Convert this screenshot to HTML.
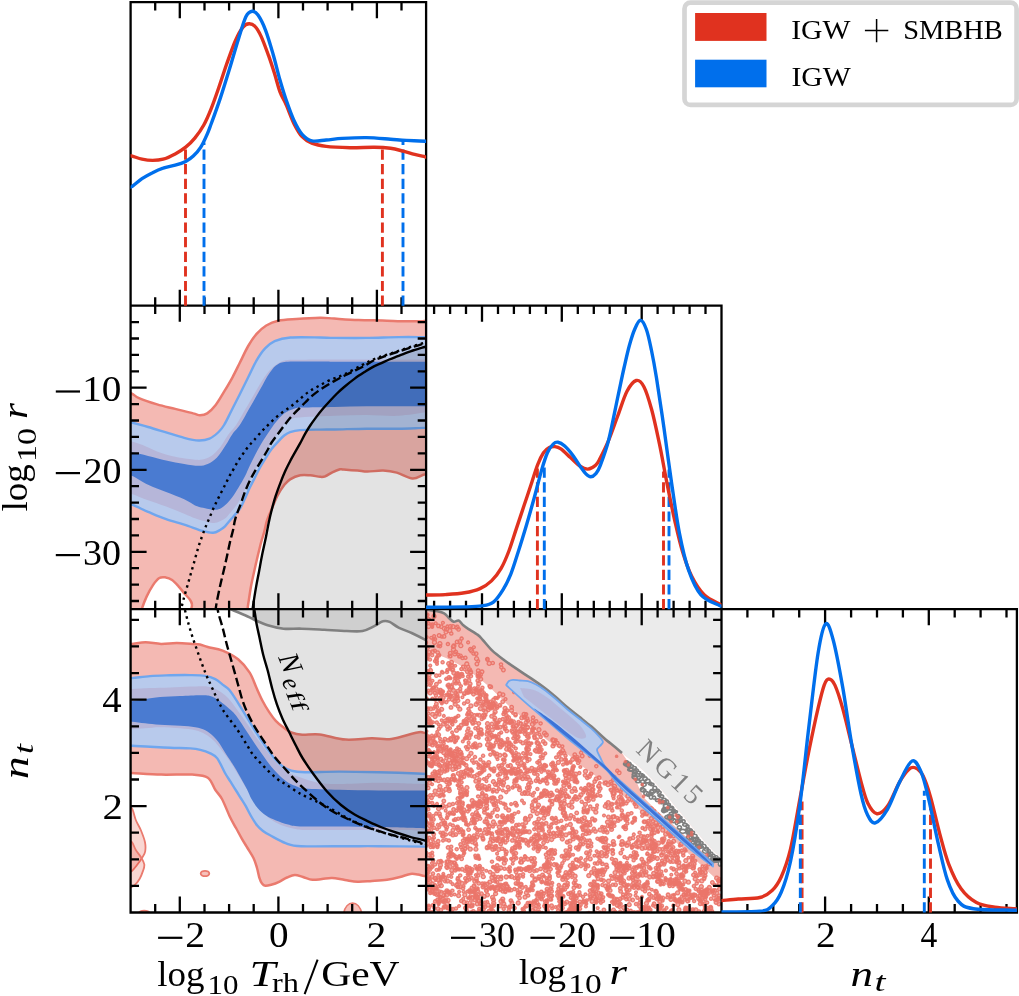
<!DOCTYPE html>
<html><head><meta charset="utf-8"><title>corner plot</title><style>html,body{margin:0;padding:0;background:#fff;overflow:hidden}svg{display:block;will-change:transform}text{font-family:"Liberation Serif",serif}</style></head><body>
<svg width="1019" height="996" viewBox="0 0 1019 996">
<defs><clipPath id="c00"><rect x="130.6" y="2.2" width="295.5" height="303.5"/></clipPath><clipPath id="c10"><rect x="130.6" y="305.7" width="295.5" height="303.5"/></clipPath><clipPath id="c11"><rect x="426.1" y="305.7" width="295.4" height="303.5"/></clipPath><clipPath id="c20"><rect x="130.6" y="609.2" width="295.5" height="303.3"/></clipPath><clipPath id="c21"><rect x="426.1" y="609.2" width="295.4" height="303.3"/></clipPath><clipPath id="c22"><rect x="721.5" y="609.2" width="295.4" height="303.3"/></clipPath></defs>
<rect width="1019" height="996" fill="#fff"/>
<g clip-path="url(#c10)">
<path d="M122 390.5C123.6 391 129 392.3 131.8 393.6C134.6 394.9 134.8 396.3 139 398.1C143.2 399.9 151.1 402.6 157.1 404.4C163.1 406.2 169.2 407.4 175.2 408.9C181.2 410.4 189.2 412.3 193.3 413.4C197.4 414.4 197.7 415.2 200 415.2C202.3 415.2 204.6 415.1 207.2 413.4C209.8 411.7 212.9 408.6 215.7 405C218.5 401.4 221.3 396.3 224.1 391.7C226.9 387.1 229.9 382.1 232.5 377.3C235.1 372.5 237.2 368 239.8 362.8C242.4 357.6 245.4 350.8 248.2 346C251 341.2 253.6 337.3 256.6 333.9C259.6 330.5 262.7 327.7 266.3 325.5C269.9 323.3 273.3 321.8 278.3 320.7C283.3 319.6 289.4 319.4 296.4 318.9C303.3 318.4 313.7 317.8 320 317.7C326.3 317.6 327.9 318.2 334.3 318.6C340.7 319 350.4 319.7 358.4 320C366.4 320.3 374.4 320.3 382.4 320.5C390.4 320.7 399.5 321.2 406.5 321.3C413.5 321.4 419.9 321.2 424.2 321.1C428.4 321.1 430.7 321 432 321L432 474C430.7 474.1 427.6 473.8 424.3 474.5C421.1 475.2 417.1 478.8 412.5 478.5C407.9 478.2 401.7 473.9 396.8 472.6C391.9 471.3 388 470.8 383.1 470.6C378.2 470.4 371.6 471.6 367.4 471.6C363.1 471.6 361.5 470.9 357.6 470.6C353.7 470.3 346.7 469.8 343.8 469.6C340.9 469.4 341.9 468.9 340 469.3C338.1 469.8 334.8 471.1 332.3 472.3C329.9 473.5 327.3 475.6 325.3 476.3C323.3 477.1 322.7 477 320.2 476.8C317.7 476.6 313.5 475.6 310.2 475.3C306.9 475.1 303.5 474.6 300.2 475.3C296.9 476 292.8 477.7 290.1 479.3C287.4 480.9 286.4 482.3 284.2 485.1C282 487.9 279.2 492.4 277.2 496.2C275.2 500 273.8 504.2 272.1 508.2C270.4 512.2 268.4 516.2 267.1 520.2C265.8 524.2 265.2 528.3 264.1 532.3C263 536.3 262.1 538.3 260.6 544.2C259.1 550.1 256.6 560.6 255 567.8C253.4 575 252.1 580.5 250.8 587.4C249.6 594.3 248.2 604.2 247.5 609C246.8 613.8 246.9 614.8 246.8 616L122 616Z" fill="#f4b9b3"/>
<path d="M141 612C141.2 611.3 141.2 610.6 142.1 608C143 605.4 144.8 600.4 146.6 596.6C148.4 592.8 150.9 588.2 153 585.1C155.1 582 157.2 579.3 159.3 578C161.4 576.7 163.6 577.1 165.7 577.4C167.8 577.7 170 578.5 172.1 580C174.2 581.5 176.4 584 178.5 586.3C180.6 588.6 183 591.8 184.9 594C186.8 596.2 188.8 598 190 599.7C191.2 601.4 191.7 602.8 191.9 604.2C192.2 605.6 191.7 606.7 191.5 608C191.3 609.3 191.1 611.3 191 612Z" fill="#fff" stroke="#ea7a6e" stroke-width="2.5"/>
<path d="M122 390.5C123.6 391 129 392.3 131.8 393.6C134.6 394.9 134.8 396.3 139 398.1C143.2 399.9 151.1 402.6 157.1 404.4C163.1 406.2 169.2 407.4 175.2 408.9C181.2 410.4 189.2 412.3 193.3 413.4C197.4 414.4 197.7 415.2 200 415.2C202.3 415.2 204.6 415.1 207.2 413.4C209.8 411.7 212.9 408.6 215.7 405C218.5 401.4 221.3 396.3 224.1 391.7C226.9 387.1 229.9 382.1 232.5 377.3C235.1 372.5 237.2 368 239.8 362.8C242.4 357.6 245.4 350.8 248.2 346C251 341.2 253.6 337.3 256.6 333.9C259.6 330.5 262.7 327.7 266.3 325.5C269.9 323.3 273.3 321.8 278.3 320.7C283.3 319.6 289.4 319.4 296.4 318.9C303.3 318.4 313.7 317.8 320 317.7C326.3 317.6 327.9 318.2 334.3 318.6C340.7 319 350.4 319.7 358.4 320C366.4 320.3 374.4 320.3 382.4 320.5C390.4 320.7 399.5 321.2 406.5 321.3C413.5 321.4 419.9 321.2 424.2 321.1C428.4 321.1 430.7 321 432 321" fill="none" stroke="#ea7a6e" stroke-width="2.5"/>
<path d="M432 474C430.7 474.1 427.6 473.8 424.3 474.5C421.1 475.2 417.1 478.8 412.5 478.5C407.9 478.2 401.7 473.9 396.8 472.6C391.9 471.3 388 470.8 383.1 470.6C378.2 470.4 371.6 471.6 367.4 471.6C363.1 471.6 361.5 470.9 357.6 470.6C353.7 470.3 346.7 469.8 343.8 469.6C340.9 469.4 341.9 468.9 340 469.3C338.1 469.8 334.8 471.1 332.3 472.3C329.9 473.5 327.3 475.6 325.3 476.3C323.3 477.1 322.7 477 320.2 476.8C317.7 476.6 313.5 475.6 310.2 475.3C306.9 475.1 303.5 474.6 300.2 475.3C296.9 476 292.8 477.7 290.1 479.3C287.4 480.9 286.4 482.3 284.2 485.1C282 487.9 279.2 492.4 277.2 496.2C275.2 500 273.8 504.2 272.1 508.2C270.4 512.2 268.4 516.2 267.1 520.2C265.8 524.2 265.2 528.3 264.1 532.3C263 536.3 262.1 538.3 260.6 544.2C259.1 550.1 256.6 560.6 255 567.8C253.4 575 252.1 580.5 250.8 587.4C249.6 594.3 248.2 604.2 247.5 609C246.8 613.8 246.9 614.8 246.8 616" fill="none" stroke="#ea7a6e" stroke-width="2.5"/>
<path d="M122 420C123.6 420.4 127.5 421.3 131.8 422.5C136.2 423.7 142.4 425.4 148.1 427C153.8 428.6 160.1 430.6 166.1 432.4C172.1 434.2 178.8 436.4 184.2 437.8C189.6 439.2 194.5 440.4 198.7 440.5C202.9 440.6 206.2 440.1 209.5 438.7C212.8 437.3 216.2 434.3 218.6 432C221 429.7 222 428.5 224.1 425C226.2 421.5 228.7 416.1 231.3 411C233.9 405.9 237 399.8 239.8 394.2C242.6 388.6 245.4 382.9 248.2 377.3C251 371.7 253.8 365.2 256.6 360.4C259.4 355.6 262.1 351.6 265.1 348.4C268.1 345.2 270.5 342.9 274.7 341.1C278.9 339.3 282.8 338.1 290.4 337.5C297.9 336.9 312.7 337.4 320 337.5C327.3 337.6 326.6 337.8 334.3 337.9C342 338 355.7 338 366.4 337.9C377.1 337.8 388.9 337.2 398.5 337.1C408.1 337 418.6 337.1 424.2 337.1C429.8 337.1 430.7 337 432 337L432 428C430.7 428 429.8 427.8 424.2 427.9C418.6 428 408.1 428.6 398.5 428.7C388.9 428.8 377.1 428.6 366.4 428.7C355.7 428.8 342 429.4 334.3 429.5C326.6 429.6 325.9 429.5 320.2 429.6C314.5 429.7 305.2 429.7 300.2 430.1C295.2 430.5 292.8 431.2 290.1 432.1C287.4 433 286.1 434 284.2 435.5C282.3 437 280.8 438.8 278.7 441C276.6 443.2 273.8 446.1 271.6 449C269.4 451.9 267.6 454.9 265.6 458.1C263.6 461.3 261.4 464.8 259.6 468.1C257.8 471.4 256.3 474.8 254.6 478.1C252.9 481.4 251.3 484.6 249.6 488.1C247.9 491.6 246.3 495.7 244.6 499.2C242.9 502.7 241.8 505.9 239.5 509.2C237.2 512.5 233.4 516.4 231 519.2C228.6 522.1 226.8 524.5 225 526.3C223.2 528.1 222 528.9 220 530C218 531.1 216 532.6 213.1 532.7C210.2 532.9 207.1 532.2 202.3 530.9C197.5 529.5 190.2 526.5 184.2 524.6C178.2 522.7 172.1 521.3 166.1 519.2C160.1 517.1 153.8 514.3 148.1 511.9C142.4 509.5 136.2 506.1 131.8 504.7C127.5 503.3 123.6 503.7 122 503.5Z" fill="#b8caec"/>
<path d="M122 439C123.6 439.4 128.4 440.4 131.8 441.4C135.2 442.4 138.5 443.4 142.7 445.1C146.9 446.8 151.7 449.4 157.1 451.4C162.5 453.3 169.2 455.4 175.2 456.8C181.2 458.2 188.8 459.1 193.3 459.5C197.8 459.9 199.3 460.1 202.3 459.5C205.3 458.9 208.3 458 211.3 455.9C214.3 453.8 217.6 450.4 220.4 446.9C223.2 443.4 225.4 438.6 228 435C230.6 431.4 233.1 429.4 236.1 425C239.1 420.6 242.8 413.7 245.8 408.6C248.8 403.5 251.4 399 254.2 394.2C257 389.4 259.7 384.1 262.7 379.7C265.7 375.3 268.7 370.9 272.3 367.7C275.9 364.5 279.7 361.7 284.3 360.4C288.9 359.1 292.4 359.9 300 359.8C307.6 359.7 316.7 359.7 330 359.6C343.3 359.5 364.3 359.4 380 359.4C395.7 359.4 415.3 359.4 424 359.4C432.7 359.4 430.7 359.4 432 359.4L432 412C430.7 412.1 429.8 412 424.2 412.6C418.6 413.2 408.1 415.4 398.5 415.8C388.9 416.2 377.1 415 366.4 415C355.7 415 345 415.4 334.3 415.8C323.6 416.2 309.1 416.8 302 417.3C294.9 417.8 294.7 417.9 292 418.8C289.3 419.7 288 420.8 286 422.5C284 424.2 281.9 426.4 280.1 429C278.3 431.6 276.9 435.1 275 438C273.1 440.9 271 443.5 269 446.5C267 449.5 264.9 452.8 263 456C261.1 459.2 259.2 462.3 257.5 465.5C255.8 468.7 254.2 471.8 252.5 475C250.8 478.2 249.1 481.8 247.5 485C245.9 488.2 244.6 491 243 494C241.4 497 240 500 238 503C236 506 233.2 509.4 231 512C228.8 514.6 227.3 516.8 225 518.5C222.7 520.2 219.3 521.8 217 522.5C214.7 523.2 213.4 523 211.1 522.7C208.8 522.4 205.7 521.4 203 520.7C200.3 520 198.1 519.5 195 518.3C191.9 517.1 189 515.7 184.2 513.7C179.4 511.7 172.1 508.8 166.1 506.5C160.1 504.2 153.8 502.3 148.1 500.2C142.4 498.1 136.2 495.3 131.8 493.9C127.5 492.5 123.6 492.3 122 492Z" fill="#b6b6d9"/>
<path d="M122 451C123.6 451.2 127.5 451.5 131.8 452.3C136.2 453.1 142.4 454.5 148.1 455.9C153.8 457.2 160.1 459 166.1 460.4C172.1 461.8 178.8 463.1 184.2 464C189.6 464.9 194.8 465.8 198.7 465.8C202.6 465.8 204.7 465.4 207.7 464C210.7 462.6 213.8 460.8 216.8 457.7C219.8 454.6 223.2 449.1 225.8 445.1C228.4 441.2 230.2 437.4 232.5 434C234.8 430.6 236.8 429.6 239.8 425C242.8 420.4 247.2 412.1 250.6 406.2C254 400.2 257 394.9 260.2 389.3C263.4 383.7 266.9 376.7 269.9 372.5C272.9 368.3 274.9 365.8 278.3 364C281.7 362.2 283.4 362 290.4 361.6C297.3 361.2 311.7 361.6 320 361.6C328.3 361.6 326.7 361.8 340 361.8C353.3 361.8 384.7 361.8 400 361.8C415.3 361.8 426.7 361.8 432 361.8L432 406C430.7 406 429.8 406.2 424.2 406.2C418.6 406.2 408.1 406.2 398.5 406.2C388.9 406.2 377.1 406.1 366.4 406.2C355.7 406.3 345 406.8 334.3 407C323.6 407.2 308.7 407.3 302 407.6C295.3 407.9 296.8 408 294.1 408.8C291.5 409.6 288.4 410.9 286.1 412.3C283.8 413.7 282.1 415.2 280.1 417.3C278.1 419.4 276 421.9 274 424.6C272 427.3 270.1 430.1 268 433.3C265.9 436.5 263.2 440.4 261.1 444C259 447.6 256.9 451.5 255.1 455C253.3 458.5 251.8 461.6 250.1 465.1C248.4 468.6 246.8 472.8 245.1 476.1C243.4 479.4 242 481.8 240 485.1C238 488.5 235.5 492.9 233 496.2C230.5 499.5 227.5 503 225 505.2C222.5 507.4 220.3 508.8 218 509.5C215.7 510.2 213.6 509.7 211.1 509.4C208.6 509.1 205.7 508.5 203 507.8C200.3 507.1 198.1 506.8 195 505.4C191.9 504 189 501.5 184.2 499.3C179.4 497.1 172.1 494.5 166.1 492.1C160.1 489.7 153.8 487.5 148.1 484.8C142.4 482.1 136.2 477.6 131.8 475.8C127.5 474 123.6 474.3 122 474Z" fill="#4a7bd1"/>
<path d="M122 420C123.6 420.4 127.5 421.3 131.8 422.5C136.2 423.7 142.4 425.4 148.1 427C153.8 428.6 160.1 430.6 166.1 432.4C172.1 434.2 178.8 436.4 184.2 437.8C189.6 439.2 194.5 440.4 198.7 440.5C202.9 440.6 206.2 440.1 209.5 438.7C212.8 437.3 216.2 434.3 218.6 432C221 429.7 222 428.5 224.1 425C226.2 421.5 228.7 416.1 231.3 411C233.9 405.9 237 399.8 239.8 394.2C242.6 388.6 245.4 382.9 248.2 377.3C251 371.7 253.8 365.2 256.6 360.4C259.4 355.6 262.1 351.6 265.1 348.4C268.1 345.2 270.5 342.9 274.7 341.1C278.9 339.3 282.8 338.1 290.4 337.5C297.9 336.9 312.7 337.4 320 337.5C327.3 337.6 326.6 337.8 334.3 337.9C342 338 355.7 338 366.4 337.9C377.1 337.8 388.9 337.2 398.5 337.1C408.1 337 418.6 337.1 424.2 337.1C429.8 337.1 430.7 337 432 337" fill="none" stroke="#6fa6ee" stroke-width="2.4"/>
<path d="M122 503.5C123.6 503.7 127.5 503.3 131.8 504.7C136.2 506.1 142.4 509.5 148.1 511.9C153.8 514.3 160.1 517.1 166.1 519.2C172.1 521.3 178.2 522.7 184.2 524.6C190.2 526.5 197.5 529.5 202.3 530.9C207.1 532.2 210.2 532.9 213.1 532.7C216 532.6 218 531.1 220 530C222 528.9 223.2 528.1 225 526.3C226.8 524.5 228.6 522.1 231 519.2C233.4 516.4 237.2 512.5 239.5 509.2C241.8 505.9 242.9 502.7 244.6 499.2C246.3 495.7 247.9 491.6 249.6 488.1C251.3 484.6 252.9 481.4 254.6 478.1C256.3 474.8 257.8 471.4 259.6 468.1C261.4 464.8 263.6 461.3 265.6 458.1C267.6 454.9 269.4 451.9 271.6 449C273.8 446.1 276.6 443.2 278.7 441C280.8 438.8 282.3 437 284.2 435.5C286.1 434 287.4 433 290.1 432.1C292.8 431.2 295.2 430.5 300.2 430.1C305.2 429.7 314.5 429.7 320.2 429.6C325.9 429.5 326.6 429.6 334.3 429.5C342 429.4 355.7 428.8 366.4 428.7C377.1 428.6 388.9 428.8 398.5 428.7C408.1 428.6 418.6 428 424.2 427.9C429.8 427.8 430.7 428 432 428" fill="none" stroke="#6fa6ee" stroke-width="2.4"/>
<path d="M252.5 612C252.5 611.5 252 613.1 252.6 609C253.2 604.9 254.9 593.6 256 587.4C257.1 581.2 258 576.9 259 571.7C260 566.5 260.7 561.9 261.9 556C263.1 550.1 265 541.8 266.1 536.3C267.2 530.8 267.7 527.6 268.6 523.2C269.5 518.9 270.4 514.7 271.6 510.2C272.8 505.7 274.1 500.9 275.6 496.2C277.1 491.5 279 486.5 280.7 482.1C282.4 477.8 284.1 473.6 285.7 470.1C287.3 466.6 288.5 464.2 290.1 461.2C291.7 458.2 293.4 455.2 295.1 452.2C296.8 449.2 298.5 446.3 300.2 443.2C301.9 440.1 303.5 436.6 305.2 433.6C306.9 430.7 308.4 428.2 310.2 425.5C312 422.8 314.2 419.8 316.2 417.1C318.2 414.4 319.8 412.3 322.2 409.5C324.6 406.7 327.8 403.2 330.3 400.5C332.8 397.8 334.7 395.8 337 393.5C339.3 391.2 341.2 389.5 344.2 387C347.1 384.5 351.1 381.2 354.7 378.6C358.3 376 362.6 373.3 365.7 371.3C368.8 369.3 370.9 368 373.5 366.6C376.1 365.2 378.8 364.3 381.4 363.1C384 361.9 386.6 360.6 389.2 359.5C391.8 358.4 394.5 357.4 397.1 356.4C399.7 355.4 402.3 354.3 404.9 353.3C407.5 352.3 410.2 351.4 412.8 350.5C415.4 349.6 418.6 348.8 420.6 348.2C422.6 347.6 422.7 347.5 424.6 347C426.5 346.5 430.8 345.3 432 345L432 320L432 616Z" fill="rgba(0,0,0,0.11)"/>
<path d="M252.5 612C252.5 611.5 252 613.1 252.6 609C253.2 604.9 254.9 593.6 256 587.4C257.1 581.2 258 576.9 259 571.7C260 566.5 260.7 561.9 261.9 556C263.1 550.1 265 541.8 266.1 536.3C267.2 530.8 267.7 527.6 268.6 523.2C269.5 518.9 270.4 514.7 271.6 510.2C272.8 505.7 274.1 500.9 275.6 496.2C277.1 491.5 279 486.5 280.7 482.1C282.4 477.8 284.1 473.6 285.7 470.1C287.3 466.6 288.5 464.2 290.1 461.2C291.7 458.2 293.4 455.2 295.1 452.2C296.8 449.2 298.5 446.3 300.2 443.2C301.9 440.1 303.5 436.6 305.2 433.6C306.9 430.7 308.4 428.2 310.2 425.5C312 422.8 314.2 419.8 316.2 417.1C318.2 414.4 319.8 412.3 322.2 409.5C324.6 406.7 327.8 403.2 330.3 400.5C332.8 397.8 334.7 395.8 337 393.5C339.3 391.2 341.2 389.5 344.2 387C347.1 384.5 351.1 381.2 354.7 378.6C358.3 376 362.6 373.3 365.7 371.3C368.8 369.3 370.9 368 373.5 366.6C376.1 365.2 378.8 364.3 381.4 363.1C384 361.9 386.6 360.6 389.2 359.5C391.8 358.4 394.5 357.4 397.1 356.4C399.7 355.4 402.3 354.3 404.9 353.3C407.5 352.3 410.2 351.4 412.8 350.5C415.4 349.6 418.6 348.8 420.6 348.2C422.6 347.6 422.7 347.5 424.6 347C426.5 346.5 430.8 345.3 432 345" fill="none" stroke="#000" stroke-width="2.4"/>
<path d="M215.3 612C215.6 610.3 215.9 606.4 216.8 601.7C217.7 597 219.1 590.4 220.6 583.8C222.1 577.2 224.1 569.1 225.7 562.1C227.3 555.1 228.8 547.3 230 542C231.2 536.7 232.1 534.3 233 530.3C233.9 526.3 234.2 522.6 235.5 518.2C236.8 513.9 238.9 508.9 240.6 504.2C242.3 499.5 243.9 494.4 245.6 490.2C247.3 486 248.9 482.5 250.6 479.1C252.3 475.8 253.8 473.3 255.6 470.1C257.4 466.9 259.6 463.5 261.6 460.1C263.6 456.8 265.9 452.9 267.6 450C269.3 447.1 269.5 445.7 271.6 442.5C273.7 439.3 277 435.1 280.1 431C283.2 426.9 286.8 421.9 290.1 418C293.5 414.1 297.7 410.1 300.2 407.5C302.7 404.9 303.1 404.5 305.2 402.5C307.3 400.5 309.6 397.9 312.6 395.4C315.6 392.9 319.6 390 323.1 387.7C326.6 385.4 330.2 383.4 333.7 381.4C337.2 379.4 340.7 377.6 344.2 375.8C347.7 374 351.2 372.3 354.7 370.6C358.2 368.9 361.9 367.2 365 365.5C368.1 363.8 370.1 362.1 373.5 360.5C376.9 358.9 381.4 357.4 385.3 356C389.2 354.6 393.2 353.3 397.1 352C401 350.7 405 349.4 408.9 348.2C412.8 347 416.8 345.7 420.6 344.6C424.5 343.5 430.1 342 432 341.5" fill="none" stroke="#000" stroke-width="2.4" stroke-dasharray="8.9 3.8"/>
<path d="M180.5 612C181 609.9 182.2 604.2 183.6 599.1C185 594 187 587.2 188.7 581.2C190.4 575.2 192.1 569.4 193.8 563.4C195.5 557.4 197.1 551.1 198.9 545.5C200.7 539.9 202.9 534 204.6 529.5C206.3 525 207.5 522.4 209.1 518.7C210.7 515 212.2 511.1 213.9 507.4C215.6 503.7 217.2 500.3 219.1 496.6C220.9 492.9 223.2 488.7 225 485.1C226.8 481.5 228.7 477.6 230 475.1C231.3 472.6 232 471.9 233 470.1C234 468.4 235 466.4 236 464.6C237 462.9 237.9 461.3 239 459.6C240.1 457.9 241.4 456.2 242.6 454.5C243.8 452.8 244.8 451.2 246.1 449.5C247.3 447.8 248.8 446.1 250.1 444.5C251.4 442.9 252.1 442.2 254.1 440C256.1 437.8 259.4 433.9 262 431.1C264.6 428.3 267 426 270 423.1C273 420.2 276.8 416.7 280.1 414C283.5 411.3 287.1 409.2 290.1 407C293.1 404.8 295.3 402.9 298.2 400.5C301.1 398.1 304.3 395 307.6 392.6C310.9 390.2 314.4 388.4 318.2 386.3C321.9 384.2 325.8 382 330.1 380C334.4 378 338.9 376.9 344.2 374.4C349.5 371.9 356.9 367.7 361.8 365.2C366.7 362.7 369.6 361 373.5 359.3C377.4 357.6 381.4 356.5 385.3 355.2C389.2 353.9 393.2 352.6 397.1 351.3C401 350 405 348.6 408.9 347.4C412.8 346.1 416.8 344.9 420.6 343.8C424.5 342.7 430.1 341.1 432 340.5" fill="none" stroke="#000" stroke-width="2.4" stroke-dasharray="2.4 3.9"/>
</g>
<g clip-path="url(#c20)">
<path d="M122 644C123.6 644 127.7 644.2 131.6 643.9C135.5 643.6 140.7 642.3 145.6 642.3C150.5 642.3 155.9 643.8 161.1 643.9C166.3 644 171.5 643 176.7 643C181.9 643 188.3 643.6 192.2 643.9C196.1 644.1 197.4 644 200 644.5C202.6 645 204 646 207.8 647C211.6 648 217.5 648.5 222.6 650.6C227.7 652.7 233.9 655.8 238.4 659.5C242.9 663.2 246.6 667.8 249.7 672.7C252.8 677.6 254.8 684.3 257 689C259.1 693.7 260.6 697.1 262.6 701C264.6 704.9 267 708.8 269.2 712.1C271.4 715.4 273.4 718.3 275.8 720.9C278.2 723.5 281 725.7 283.6 727.6C286.2 729.5 288.2 731.3 291.3 732.5C294.4 733.7 297.6 734.5 302.3 734.8C307 735.1 312.4 733.6 319.6 734.4C326.8 735.2 337 739 345.7 739.6C354.4 740.2 364.2 738.4 371.8 738.3C379.4 738.2 383.8 739.9 391.4 738.9C399 737.9 411.9 733.4 417.5 732.4C423.1 731.4 422.9 732.9 425.3 733C427.7 733.1 430.9 733 432 733L432 876C430.7 876 426.6 876.1 424.3 875.9C422 875.6 420.3 874.8 418 874.5C415.7 874.2 413.6 873.5 410.6 873.9C407.6 874.3 403.9 876 400 877C396.1 878 391.7 879.1 387 879.8C382.3 880.5 376.9 880.7 372 881C367.1 881.3 362.1 882 357.6 881.8C353.1 881.6 349.2 880.6 345 880C340.8 879.4 335.9 878.1 332.1 877.9C328.3 877.7 325.3 878.7 322 879C318.7 879.3 315.6 880.1 312.4 879.8C309.2 879.5 305.9 877.8 303 877C300.1 876.2 297.5 874.8 294.8 874.9C292.1 875 289.6 876.4 287 877.5C284.4 878.6 281.6 880.6 279.1 881.8C276.6 883 274.3 883.9 272 884.5C269.7 885.1 267 885.9 265.3 885.7C263.6 885.5 263 884.8 262 883.5C261 882.2 260.2 880.5 259.4 877.9C258.6 875.3 258 871.3 257 868C256 864.7 255.2 861.5 253.6 858.2C252 854.9 249.5 851.3 247.5 848C245.5 844.7 243.7 841.9 241.8 838.6C239.9 835.3 238 831.6 236 828C234 824.4 232.3 821.8 230 817C227.7 812.2 224.4 803.5 222 799C219.6 794.5 217.8 793.5 215.4 790C213 786.5 211.7 780.3 207.8 777.7C203.9 775.1 200 775.1 192.2 774.6C184.4 774.1 171.2 774.9 161.1 774.6C151 774.4 138.1 773.4 131.6 773.1C125.1 772.8 123.6 773 122 773Z" fill="#f4b9b3"/>
<path d="M122 644C123.6 644 127.7 644.2 131.6 643.9C135.5 643.6 140.7 642.3 145.6 642.3C150.5 642.3 155.9 643.8 161.1 643.9C166.3 644 171.5 643 176.7 643C181.9 643 188.3 643.6 192.2 643.9C196.1 644.1 197.4 644 200 644.5C202.6 645 204 646 207.8 647C211.6 648 217.5 648.5 222.6 650.6C227.7 652.7 233.9 655.8 238.4 659.5C242.9 663.2 246.6 667.8 249.7 672.7C252.8 677.6 254.8 684.3 257 689C259.1 693.7 260.6 697.1 262.6 701C264.6 704.9 267 708.8 269.2 712.1C271.4 715.4 273.4 718.3 275.8 720.9C278.2 723.5 281 725.7 283.6 727.6C286.2 729.5 288.2 731.3 291.3 732.5C294.4 733.7 297.6 734.5 302.3 734.8C307 735.1 312.4 733.6 319.6 734.4C326.8 735.2 337 739 345.7 739.6C354.4 740.2 364.2 738.4 371.8 738.3C379.4 738.2 383.8 739.9 391.4 738.9C399 737.9 411.9 733.4 417.5 732.4C423.1 731.4 422.9 732.9 425.3 733C427.7 733.1 430.9 733 432 733" fill="none" stroke="#ea7a6e" stroke-width="2.5"/>
<path d="M122 773C123.6 773 125.1 772.8 131.6 773.1C138.1 773.4 151 774.4 161.1 774.6C171.2 774.9 184.4 774.1 192.2 774.6C200 775.1 203.9 775.1 207.8 777.7C211.7 780.3 213 786.5 215.4 790C217.8 793.5 219.6 794.5 222 799C224.4 803.5 227.7 812.2 230 817C232.3 821.8 234 824.4 236 828C238 831.6 239.9 835.3 241.8 838.6C243.7 841.9 245.5 844.7 247.5 848C249.5 851.3 252 854.9 253.6 858.2C255.2 861.5 256 864.7 257 868C258 871.3 258.6 875.3 259.4 877.9C260.2 880.5 261 882.2 262 883.5C263 884.8 263.6 885.5 265.3 885.7C267 885.9 269.7 885.1 272 884.5C274.3 883.9 276.6 883 279.1 881.8C281.6 880.6 284.4 878.6 287 877.5C289.6 876.4 292.1 875 294.8 874.9C297.5 874.8 300.1 876.2 303 877C305.9 877.8 309.2 879.5 312.4 879.8C315.6 880.1 318.7 879.3 322 879C325.3 878.7 328.3 877.7 332.1 877.9C335.9 878.1 340.8 879.4 345 880C349.2 880.6 353.1 881.6 357.6 881.8C362.1 882 367.1 881.3 372 881C376.9 880.7 382.3 880.5 387 879.8C391.7 879.1 396.1 878 400 877C403.9 876 407.6 874.3 410.6 873.9C413.6 873.5 415.7 874.2 418 874.5C420.3 874.8 422 875.6 424.3 875.9C426.6 876.1 430.7 876 432 876" fill="none" stroke="#ea7a6e" stroke-width="2.5"/>
<path d="M122 678.5C123.7 678.4 127.3 678.5 132 678.1C136.7 677.7 143.7 676.6 150.1 676.1C156.5 675.6 163.5 675.5 170.2 675.3C176.9 675.1 184.3 675 190.2 675.1C196 675.2 201.1 675.2 205.3 675.9C209.5 676.6 212.3 677.6 215.3 679.1C218.3 680.6 221.1 683.3 223.4 685.1C225.8 686.9 226.9 687 229.4 690C231.9 693 235.4 698.7 238.3 703.3C241.2 707.9 244.2 712.8 247.1 717.6C250 722.4 252.9 727.4 255.9 732C258.9 736.6 261.9 741 264.8 745.2C267.8 749.4 270.7 753.9 273.6 757.4C276.6 760.9 279.6 764 282.5 766.2C285.4 768.4 287.6 769.7 291.3 770.7C295.1 771.7 297 772.1 305 772.3C313 772.4 327 771.6 339.2 771.6C351.4 771.6 365.2 771.9 378.3 772.2C391.4 772.5 408.6 773.1 417.5 773.5C426.4 773.9 429.6 774.3 432 774.5L432 846.6C430.9 846.6 434.1 846.7 425.3 846.6C416.5 846.5 391.9 846.3 379 846.2C366.1 846.1 360.9 846.2 347.9 846.2C334.9 846.2 311.6 846.7 301.2 846.2C290.8 845.7 290.8 844.9 285.6 843.1C280.4 841.3 273.9 837.3 270.1 835.3C266.3 833.3 265.1 832.6 263 831C260.9 829.4 259.2 828 257.2 825.5C255.2 823 252.9 819.3 251 816C249.1 812.7 247.2 808.6 245.5 805.7C243.8 802.8 242.6 801 241 798.5C239.4 796 237.8 793.3 236 790.5C234.2 787.7 232.3 784.6 230.5 781.7C228.7 778.8 227.2 776.9 225 773C222.8 769.1 219.8 761.7 217.3 758.4C214.9 755.1 213.1 754.8 210.3 753.4C207.5 752 203.7 750.7 200.3 749.9C197 749.1 195.2 748.8 190.2 748.4C185.2 748 176.9 748.1 170.2 747.8C163.5 747.5 156.5 747.1 150.1 746.8C143.7 746.5 136.7 746 132 745.8C127.3 745.6 123.7 745.5 122 745.5Z" fill="#b8caec"/>
<path d="M122 689.3C123.7 689.3 127.3 689.3 132 689.1C136.7 688.9 143.7 688.4 150.1 688.1C156.5 687.9 163.5 687.9 170.2 687.6C176.9 687.4 184.3 686.8 190.2 686.6C196 686.4 201.1 685.9 205.3 686.3C209.5 686.7 212.3 687.8 215.3 689.1C218.3 690.4 221 692.2 223.4 694.1C225.8 696 227.6 697.4 230 700.2C232.4 703 235.2 707.1 238 711C240.8 714.9 244 719.2 247 723.5C250 727.8 253 732.8 256 737C259 741.2 262 745.2 265 749C268 752.8 271 756.8 274 760C277 763.2 280.2 766.2 283 768.5C285.8 770.8 287.3 772.2 291 774C294.7 775.8 300.2 777.5 305 779C309.8 780.5 314.3 782.2 320 783C325.7 783.8 329.5 784 339.2 784C348.9 784 363.9 782.7 378.3 782.7C392.7 782.7 416.4 783.8 425.3 784C434.2 784.2 430.9 784 432 784L432 830.5C430.9 830.5 434.2 830.6 425.3 830.5C416.4 830.4 392.7 830.1 378.3 830C363.9 829.9 351.4 830 339.2 830C327 830 312.7 830.2 305 830C297.3 829.8 297 829.3 293 828.5C289 827.7 284.7 826.5 281 825C277.3 823.5 274 821.6 271 819.5C268 817.4 265.5 815.1 263 812.5C260.5 809.9 258.2 807 256 804C253.8 801 252 797.8 250 794.5C248 791.2 246 787.8 244 784.5C242 781.2 240 777.8 238 774.5C236 771.2 233.9 767.5 232 764.5C230.1 761.5 228.3 759.1 226.4 756.4C224.5 753.7 222.6 751.1 220.4 748.4C218.2 745.7 215.8 742.6 213.3 740.3C210.8 737.9 208.3 736 205.3 734.3C202.3 732.6 199.5 731.3 195.3 730.3C191.1 729.3 186.1 728.8 180.2 728.3C174.3 727.8 165.9 727.3 160.1 727.3C154.2 727.3 149.8 728 145.1 728.3C140.4 728.6 135.8 729.1 132 729.3C128.2 729.5 123.7 729.5 122 729.5Z" fill="#b6b6d9"/>
<path d="M122 701.5C123.7 701.5 128.2 701.6 132 701.2C135.8 700.8 140.4 699.9 145.1 699.2C149.8 698.5 154.2 697.6 160.1 697.1C165.9 696.6 173.5 696.4 180.2 696.1C186.9 695.8 195.3 695.3 200.3 695.3C205.3 695.3 207.3 695.3 210.3 696.1C213.3 696.9 215.7 698.5 218.4 700.2C221.1 701.9 223.5 703.7 226.4 706.2C229.3 708.7 232.6 711.1 236 715.4C239.4 719.7 243.4 726.5 247.1 732C250.8 737.5 254.4 743.3 258.1 748.6C261.8 753.9 265.9 759.8 269.2 764C272.5 768.2 275.1 771 278 774C280.9 777 283.9 779.7 286.9 781.7C289.8 783.7 292.7 785 295.7 786.1C298.7 787.2 297.8 787.9 305 788.5C312.2 789.1 327 789.5 339.2 789.8C351.4 790.1 363.9 790.4 378.3 790.5C392.7 790.6 416.4 790.5 425.3 790.5C434.2 790.5 430.9 790.5 432 790.5L432 828.5C430.9 828.5 434.2 828.6 425.3 828.4C416.4 828.1 392.7 827.3 378.3 827C363.9 826.7 352.2 826.5 339.2 826.4C326.1 826.3 308.5 826.7 300 826.4C291.5 826.1 292 825.5 288 824.5C284 823.5 279.7 822 276 820.5C272.3 819 269 817.5 266 815.5C263 813.5 260.4 811.2 258 808.5C255.6 805.8 253.3 802.2 251.5 799C249.7 795.8 248.8 792.6 247.1 789.4C245.4 786.1 243.4 782.8 241.6 779.5C239.8 776.2 237.8 772.7 236 769.6C234.2 766.5 232.3 763.6 230.5 760.7C228.7 757.9 226.8 755.4 225 752.5C223.2 749.6 221.4 746.2 219.5 743.5C217.6 740.8 215.7 738.5 213.3 736.3C210.9 734.1 208.3 731.8 205.3 730.3C202.3 728.8 199.5 728 195.3 727.3C191.1 726.5 186.1 726.2 180.2 725.8C174.3 725.4 165.9 725.2 160.1 724.8C154.2 724.4 149.8 723.8 145.1 723.3C140.4 722.8 135.8 722 132 721.7C128.2 721.4 123.7 721.5 122 721.5Z" fill="#4a7bd1"/>
<path d="M122 678.5C123.7 678.4 127.3 678.5 132 678.1C136.7 677.7 143.7 676.6 150.1 676.1C156.5 675.6 163.5 675.5 170.2 675.3C176.9 675.1 184.3 675 190.2 675.1C196 675.2 201.1 675.2 205.3 675.9C209.5 676.6 212.3 677.6 215.3 679.1C218.3 680.6 221.1 683.3 223.4 685.1C225.8 686.9 226.9 687 229.4 690C231.9 693 235.4 698.7 238.3 703.3C241.2 707.9 244.2 712.8 247.1 717.6C250 722.4 252.9 727.4 255.9 732C258.9 736.6 261.9 741 264.8 745.2C267.8 749.4 270.7 753.9 273.6 757.4C276.6 760.9 279.6 764 282.5 766.2C285.4 768.4 287.6 769.7 291.3 770.7C295.1 771.7 297 772.1 305 772.3C313 772.4 327 771.6 339.2 771.6C351.4 771.6 365.2 771.9 378.3 772.2C391.4 772.5 408.6 773.1 417.5 773.5C426.4 773.9 429.6 774.3 432 774.5" fill="none" stroke="#6fa6ee" stroke-width="2.4"/>
<path d="M122 745.5C123.7 745.5 127.3 745.6 132 745.8C136.7 746 143.7 746.5 150.1 746.8C156.5 747.1 163.5 747.5 170.2 747.8C176.9 748.1 185.2 748 190.2 748.4C195.2 748.8 197 749.1 200.3 749.9C203.7 750.7 207.5 752 210.3 753.4C213.1 754.8 214.9 755.1 217.3 758.4C219.8 761.7 222.8 769.1 225 773C227.2 776.9 228.7 778.8 230.5 781.7C232.3 784.6 234.2 787.7 236 790.5C237.8 793.3 239.4 796 241 798.5C242.6 801 243.8 802.8 245.5 805.7C247.2 808.6 249.1 812.7 251 816C252.9 819.3 255.2 823 257.2 825.5C259.2 828 260.9 829.4 263 831C265.1 832.6 266.3 833.3 270.1 835.3C273.9 837.3 280.4 841.3 285.6 843.1C290.8 844.9 290.8 845.7 301.2 846.2C311.6 846.7 334.9 846.2 347.9 846.2C360.9 846.2 366.1 846.1 379 846.2C391.9 846.3 416.5 846.5 425.3 846.6C434.1 846.7 430.9 846.6 432 846.6" fill="none" stroke="#6fa6ee" stroke-width="2.4"/>
<path d="M126 806C127 806.4 130.3 806 131.9 808.3C133.5 810.6 134.3 816.3 135.8 820C137.3 823.7 139.5 826.8 141 830.5C142.5 834.2 144.3 838.7 145 842.2C145.7 845.7 145.6 848.8 145.2 851.3C144.8 853.8 143.8 854.9 142.4 857.2C141 859.5 138.8 862.7 137 865C135.2 867.3 133.7 869.6 131.9 870.9C130.1 872.2 127 872.6 126 873Z" fill="rgba(224,50,31,0.2)" stroke="#ea7a6e" stroke-width="1.8"/>
<path d="M126 840C127 840.4 130.3 840.5 131.9 842.2C133.5 843.9 134.3 847.5 135.8 850C137.3 852.5 139.6 854.8 141 857.2C142.4 859.6 144 862.1 144.3 864.4C144.6 866.7 143.8 868.5 143 870.9C142.2 873.3 141.1 876.3 139.7 878.7C138.3 881.1 136.8 883.6 134.5 885.3C132.2 887 127.4 888.4 126 889Z" fill="rgba(224,50,31,0.2)" stroke="#ea7a6e" stroke-width="1.8"/>
<ellipse cx="205" cy="873.5" rx="4.3" ry="2.7" fill="rgba(224,50,31,0.3)" stroke="#ea7a6e" stroke-width="1.8"/>
<path d="M138 914C140 909.5 148 909.5 151 914Z" fill="rgba(224,50,31,0.3)" stroke="#ea7a6e" stroke-width="1.6"/>
<path d="M343.5 914C346 899.5 359 899.5 362 914Z" fill="rgba(224,50,31,0.3)" stroke="#ea7a6e" stroke-width="1.6"/>
<path d="M252 604C252.4 604.8 253.5 605.8 254.2 609C254.9 612.2 255.5 618 256.4 623C257.3 628 258.7 633.6 259.8 638.9C260.9 644.2 261.9 649.4 263.2 654.7C264.5 660 266.2 664.8 267.7 670.5C269.2 676.2 270.8 683.4 272.3 689C273.8 694.6 275.2 699.4 276.9 704.4C278.6 709.4 280.5 714.1 282.5 718.7C284.5 723.3 286.9 727.6 289.1 732C291.3 736.4 293.5 740.9 295.7 745.2C297.9 749.5 299.6 753.3 302.5 758C305.4 762.7 308.9 767.9 313 773.5C317.1 779.1 322.3 786.2 327 791.5C331.7 796.8 336.3 801.1 341 805C345.7 808.9 350.5 812.1 355 814.8C359.5 817.5 363.5 819.2 368 821.3C372.5 823.4 377.3 825.6 382 827.5C386.7 829.4 391.3 831 396 832.5C400.7 834 405.2 835.4 410 836.8C414.8 838.1 421.3 839.6 425 840.6C428.7 841.6 430.8 842.2 432 842.5L432 600Z" fill="rgba(0,0,0,0.11)"/>
<path d="M226 606C226.9 606.6 228.4 608 231.6 609.5C234.8 611 241.3 613.5 245.1 615.2C248.9 616.9 250.4 618 254.2 619.7C258 621.4 262.8 623.8 267.7 625.3C272.6 626.8 277.9 628.1 283.5 628.7C289.1 629.3 294.8 628.5 301.6 628.7C308.4 628.9 316.7 629.4 324.2 629.8C331.7 630.2 340.3 630.8 346.7 631C353.1 631.2 358 631.8 362.5 631C367 630.2 370.4 628 373.8 626.4C377.2 624.8 380.2 622 382.8 621.3C385.4 620.5 387 620.8 389.6 621.9C392.2 623 394.8 625.7 398.6 627.6C402.4 629.5 408.1 631.3 412.2 633.2C416.3 635.1 420.5 637.3 423.5 638.9C426.5 640.5 428.9 642.3 430 643L432 600L226 600Z" fill="rgba(0,0,0,0.085)"/>
<path d="M226 606C226.9 606.6 228.4 608 231.6 609.5C234.8 611 241.3 613.5 245.1 615.2C248.9 616.9 250.4 618 254.2 619.7C258 621.4 262.8 623.8 267.7 625.3C272.6 626.8 277.9 628.1 283.5 628.7C289.1 629.3 294.8 628.5 301.6 628.7C308.4 628.9 316.7 629.4 324.2 629.8C331.7 630.2 340.3 630.8 346.7 631C353.1 631.2 358 631.8 362.5 631C367 630.2 370.4 628 373.8 626.4C377.2 624.8 380.2 622 382.8 621.3C385.4 620.5 387 620.8 389.6 621.9C392.2 623 394.8 625.7 398.6 627.6C402.4 629.5 408.1 631.3 412.2 633.2C416.3 635.1 420.5 637.3 423.5 638.9C426.5 640.5 428.9 642.3 430 643" fill="none" stroke="#808080" stroke-width="2.6"/>
<path d="M252 604C252.4 604.8 253.5 605.8 254.2 609C254.9 612.2 255.5 618 256.4 623C257.3 628 258.7 633.6 259.8 638.9C260.9 644.2 261.9 649.4 263.2 654.7C264.5 660 266.2 664.8 267.7 670.5C269.2 676.2 270.8 683.4 272.3 689C273.8 694.6 275.2 699.4 276.9 704.4C278.6 709.4 280.5 714.1 282.5 718.7C284.5 723.3 286.9 727.6 289.1 732C291.3 736.4 293.5 740.9 295.7 745.2C297.9 749.5 299.6 753.3 302.5 758C305.4 762.7 308.9 767.9 313 773.5C317.1 779.1 322.3 786.2 327 791.5C331.7 796.8 336.3 801.1 341 805C345.7 808.9 350.5 812.1 355 814.8C359.5 817.5 363.5 819.2 368 821.3C372.5 823.4 377.3 825.6 382 827.5C386.7 829.4 391.3 831 396 832.5C400.7 834 405.2 835.4 410 836.8C414.8 838.1 421.3 839.6 425 840.6C428.7 841.6 430.8 842.2 432 842.5" fill="none" stroke="#000" stroke-width="2.4"/>
<path d="M217.5 604C217.6 605.3 217.2 607.9 218.1 611.8C218.9 615.7 221.1 622 222.6 627.6C224.1 633.2 225.5 639.7 227.1 645.6C228.7 651.5 230.4 657.4 232 663C233.6 668.6 235.2 674.3 236.5 679C237.8 683.7 238.8 687.3 239.8 691C240.8 694.7 241.5 697.5 242.7 701C243.9 704.5 245.4 708.4 247.1 712.1C248.8 715.8 250.6 719.4 252.6 723.1C254.6 726.8 256.9 730.4 259.3 734.2C261.7 738 264.4 741.9 267 745.8C269.6 749.7 271.8 753.3 275.1 757.5C278.4 761.7 283.1 766.6 287 771C290.9 775.4 293.5 778.6 298.7 783.6C303.9 788.6 312.8 796.7 318.3 801.3C323.9 805.9 327.1 808 332 811C336.9 814 342.8 816.6 347.8 819C352.8 821.4 357.1 823.3 362 825.3C366.9 827.2 372.2 829.1 377.2 830.7C382.2 832.3 387.1 833.7 392 835C396.9 836.3 401.3 837.2 406.7 838.6C412.1 840 420.1 842.4 424.3 843.5C428.5 844.6 430.7 845.2 432 845.5" fill="none" stroke="#000" stroke-width="2.4" stroke-dasharray="8.9 3.8"/>
<path d="M183.8 604C183.9 604.7 183.8 605.1 184.5 608.1C185.2 611.1 186.7 617.3 188 622C189.3 626.7 190.7 631.4 192.2 636.1C193.7 640.8 195.4 645.4 197 650C198.6 654.6 200.2 659.3 201.8 663.5C203.4 667.7 204.7 671.3 206.3 675.1C207.9 678.9 209.6 682.4 211.3 686.1C213 689.8 214.7 693.7 216.3 697.1C217.9 700.5 219.6 703.9 221 706.5C222.4 709.1 223.4 710.7 225 713C226.6 715.3 228.7 718.1 230.5 720.5C232.3 722.9 234.2 725 236 727.6C237.8 730.2 239.8 733.5 241.6 736.4C243.4 739.3 245.3 742.2 247.1 745.2C248.9 748.2 250.4 751.2 252.6 754.1C254.8 757 257.6 760 260.4 762.9C263.2 765.8 266.3 769 269.2 771.8C272.1 774.6 275.1 777.3 278 779.5C280.9 781.7 283.8 783 286.9 785C290 787 293.8 789.9 296.8 791.7C299.8 793.6 300.1 793.7 305 796.1C309.9 798.5 318.2 802.1 326.1 806.2C334 810.3 343.5 816.4 352.2 820.5C360.9 824.6 369.6 828 378.3 831C387 834 396.6 836.5 404.4 838.8C412.2 841.1 420.7 843.4 425.3 844.7C429.9 846 430.9 846.2 432 846.5" fill="none" stroke="#000" stroke-width="2.4" stroke-dasharray="2.4 3.9"/>
</g>
<g clip-path="url(#c21)">
<path d="M424 607.5C424.5 607.9 425.2 609 427.2 609.6C429.2 610.2 433.2 610.4 436 611C438.8 611.6 441.9 612.1 444.1 613.3C446.3 614.5 447.4 616.6 449 618C450.6 619.4 452.1 621.3 453.7 621.7C455.3 622.1 457.1 620 458.6 620.5C460.2 621 461.4 623.6 463 625C464.6 626.4 465.7 627.2 468.2 628.9C470.7 630.5 475.4 633.1 477.8 634.9C480.2 636.7 480.3 637.2 482.7 639.8C485.1 642.4 488.7 647.2 492.3 650.6C495.9 654 500.3 657.2 504.3 660.2C508.3 663.2 511.9 665.7 516.4 668.7C520.9 671.7 526.6 675.4 531.1 678.4C535.6 681.4 539.2 683.9 543.2 686.9C547.2 689.9 551.2 693.1 555.2 696.5C559.2 699.9 563.3 703.9 567.3 707.3C571.3 710.7 575.3 713.6 579.3 716.8C583.3 720 587.4 723.1 591.4 726.6C595.4 730.1 599.5 734.1 603.4 737.5C607.3 740.9 611.9 744.5 615 747.1C618.1 749.7 618.7 750.3 622 753C625.3 755.7 630.6 759.8 635 763.5C639.4 767.2 643.7 770.9 648.1 775.2C652.5 779.6 656.9 784.6 661.2 789.6C665.6 794.6 669.9 800.1 674.2 805.3C678.6 810.5 682.9 815.7 687.3 820.9C691.6 826.1 695.9 831.6 700.3 836.6C704.6 841.6 710.1 847.7 713.4 851C716.7 854.3 717.9 854.7 720 856.2C722.1 857.7 725 859.4 726 860L726 600L424 600Z" fill="#ebebeb"/>
<path d="M424 607.5C424.5 607.9 425.2 609 427.2 609.6C429.2 610.2 433.2 610.4 436 611C438.8 611.6 441.9 612.1 444.1 613.3C446.3 614.5 447.4 616.6 449 618C450.6 619.4 452.1 621.3 453.7 621.7C455.3 622.1 457.1 620 458.6 620.5C460.2 621 461.4 623.6 463 625C464.6 626.4 465.7 627.2 468.2 628.9C470.7 630.5 475.4 633.1 477.8 634.9C480.2 636.7 480.3 637.2 482.7 639.8C485.1 642.4 488.7 647.2 492.3 650.6C495.9 654 500.3 657.2 504.3 660.2C508.3 663.2 511.9 665.7 516.4 668.7C520.9 671.7 526.6 675.4 531.1 678.4C535.6 681.4 539.2 683.9 543.2 686.9C547.2 689.9 551.2 693.1 555.2 696.5C559.2 699.9 563.3 703.9 567.3 707.3C571.3 710.7 575.3 713.6 579.3 716.8C583.3 720 587.4 723.1 591.4 726.6C595.4 730.1 599.5 734.1 603.4 737.5C607.3 740.9 611.9 744.5 615 747.1C618.1 749.7 618.7 750.3 622 753C625.3 755.7 630.6 759.8 635 763.5C639.4 767.2 643.7 770.9 648.1 775.2C652.5 779.6 656.9 784.6 661.2 789.6C665.6 794.6 669.9 800.1 674.2 805.3C678.6 810.5 682.9 815.7 687.3 820.9C691.6 826.1 695.9 831.6 700.3 836.6C704.6 841.6 710.1 847.7 713.4 851C716.7 854.3 717.9 854.7 720 856.2C722.1 857.7 725 859.4 726 860L726 888C720 882.5 701 865 690 855C679 845 668.3 835.4 660 828C651.7 820.6 646.3 816 640 810.5C633.7 805 627.5 799.5 622 795C616.5 790.5 612.6 787.9 606.7 783.7C600.8 779.5 593.3 774.6 586.6 769.6C579.9 764.6 573.3 758.6 566.6 753.6C559.9 748.6 553.2 744.9 546.5 739.5C539.8 734.1 533.1 727.4 526.4 721.4C519.7 715.4 513 709.6 506.3 703.4C499.6 697.2 492.7 689.7 486 684C479.3 678.3 472 673 466 669C460 665 455.2 662.7 450 660C444.8 657.3 439.3 655.5 435 653C430.7 650.5 425.8 646.3 424 645Z" fill="#f4b9b3"/>
<path d="M439.4 763.3a2 2 0 1 0 0.01 0ZM550 861.7a1.4 1.4 0 1 0 0.01 0ZM597.1 803.8a1.4 1.4 0 1 0 0.01 0ZM570.9 770.8a2 2 0 1 0 0.01 0ZM475.9 847.2a2 2 0 1 0 0.01 0ZM508.8 908.9a1.6 1.6 0 1 0 0.01 0ZM622.7 842.5a1.8 1.8 0 1 0 0.01 0ZM622.1 839.6a2 2 0 1 0 0.01 0ZM674.6 898a1.4 1.4 0 1 0 0.01 0ZM670.9 897.4a2 2 0 1 0 0.01 0ZM457.1 625.2a2 2 0 1 0 0.01 0ZM446.6 745.3a1.6 1.6 0 1 0 0.01 0ZM443.7 747.3a1.8 1.8 0 1 0 0.01 0ZM467.8 809.8a1.6 1.6 0 1 0 0.01 0ZM576.6 797.2a2 2 0 1 0 0.01 0ZM579.2 795.2a2 2 0 1 0 0.01 0ZM580.9 792.9a2 2 0 1 0 0.01 0ZM442.8 671.3a1.4 1.4 0 1 0 0.01 0ZM583.4 899.3a1.6 1.6 0 1 0 0.01 0ZM585.7 900.4a1.8 1.8 0 1 0 0.01 0ZM569 908.2a1.4 1.4 0 1 0 0.01 0ZM566.8 910.8a1.8 1.8 0 1 0 0.01 0ZM629.6 888.6a1.4 1.4 0 1 0 0.01 0ZM627.3 890.6a1.8 1.8 0 1 0 0.01 0ZM489.2 773.8a1.6 1.6 0 1 0 0.01 0ZM487 776.1a1.6 1.6 0 1 0 0.01 0ZM500 820.3a1.8 1.8 0 1 0 0.01 0ZM483.3 799.2a2 2 0 1 0 0.01 0ZM486.8 799.2a1.4 1.4 0 1 0 0.01 0ZM539 826.1a1.6 1.6 0 1 0 0.01 0ZM448 898.4a2 2 0 1 0 0.01 0ZM445.8 898.6a1.6 1.6 0 1 0 0.01 0ZM444 900.7a1.6 1.6 0 1 0 0.01 0ZM619 795.4a1.8 1.8 0 1 0 0.01 0ZM621.1 792.9a1.4 1.4 0 1 0 0.01 0ZM617.3 769.2a1.6 1.6 0 1 0 0.01 0ZM619.2 771a1.8 1.8 0 1 0 0.01 0ZM585.5 863.9a1.8 1.8 0 1 0 0.01 0ZM670.7 877.5a1.4 1.4 0 1 0 0.01 0ZM604.6 846a2 2 0 1 0 0.01 0ZM441.1 817.2a1.4 1.4 0 1 0 0.01 0ZM440.1 814.6a1.6 1.6 0 1 0 0.01 0ZM574.7 780a1.6 1.6 0 1 0 0.01 0ZM582.2 754.2a1.8 1.8 0 1 0 0.01 0ZM581.1 751.2a1.6 1.6 0 1 0 0.01 0ZM582.3 748.7a1.4 1.4 0 1 0 0.01 0ZM486.2 700.3a1.6 1.6 0 1 0 0.01 0ZM562.3 837a2 2 0 1 0 0.01 0ZM489.1 824.5a2 2 0 1 0 0.01 0ZM488.6 827.3a1.8 1.8 0 1 0 0.01 0ZM522 799.2a1.4 1.4 0 1 0 0.01 0ZM524 801.7a1.4 1.4 0 1 0 0.01 0ZM648.9 859.5a1.8 1.8 0 1 0 0.01 0ZM649.4 856.5a2 2 0 1 0 0.01 0ZM651.7 854.5a1.4 1.4 0 1 0 0.01 0ZM425.7 913.2a1.8 1.8 0 1 0 0.01 0ZM428.5 912.8a1.6 1.6 0 1 0 0.01 0ZM501 662.8a1.6 1.6 0 1 0 0.01 0ZM501.4 665.8a1.6 1.6 0 1 0 0.01 0ZM503.4 668.2a1.8 1.8 0 1 0 0.01 0ZM573.7 908.2a2 2 0 1 0 0.01 0ZM572.2 911.1a2 2 0 1 0 0.01 0ZM689 905.9a1.6 1.6 0 1 0 0.01 0ZM634.6 802.9a1.4 1.4 0 1 0 0.01 0ZM636.1 804.6a1.8 1.8 0 1 0 0.01 0ZM574 906a1.8 1.8 0 1 0 0.01 0ZM576.5 907.2a1.8 1.8 0 1 0 0.01 0ZM711.1 906.6a1.4 1.4 0 1 0 0.01 0ZM707.9 906.5a1.8 1.8 0 1 0 0.01 0ZM447.8 692.9a1.4 1.4 0 1 0 0.01 0ZM450.7 693.8a1.6 1.6 0 1 0 0.01 0ZM453.5 693.9a1.4 1.4 0 1 0 0.01 0ZM447.3 902a2 2 0 1 0 0.01 0ZM551.4 822.9a1.4 1.4 0 1 0 0.01 0ZM550.9 826a1.6 1.6 0 1 0 0.01 0ZM613.7 902.5a1.4 1.4 0 1 0 0.01 0ZM615.9 900.5a1.6 1.6 0 1 0 0.01 0ZM661.9 837.5a1.4 1.4 0 1 0 0.01 0ZM663.9 836.8a2 2 0 1 0 0.01 0ZM501.7 831.6a2 2 0 1 0 0.01 0ZM566.1 817.6a1.6 1.6 0 1 0 0.01 0ZM498.6 835.9a1.6 1.6 0 1 0 0.01 0ZM502.6 814a2 2 0 1 0 0.01 0ZM504.6 816.3a2 2 0 1 0 0.01 0ZM507.3 818.5a1.6 1.6 0 1 0 0.01 0ZM444.9 763a2 2 0 1 0 0.01 0ZM447.8 760.8a1.6 1.6 0 1 0 0.01 0ZM530.5 792.8a1.4 1.4 0 1 0 0.01 0ZM527.5 791.4a2 2 0 1 0 0.01 0ZM524.9 790.6a2 2 0 1 0 0.01 0ZM541.7 896.5a1.8 1.8 0 1 0 0.01 0ZM539 875a2 2 0 1 0 0.01 0ZM620.8 802.6a1.8 1.8 0 1 0 0.01 0ZM654 848.8a2 2 0 1 0 0.01 0ZM657.6 849.7a1.6 1.6 0 1 0 0.01 0ZM436.7 892.4a2 2 0 1 0 0.01 0ZM644.1 907.7a1.6 1.6 0 1 0 0.01 0ZM470.5 671a2 2 0 1 0 0.01 0ZM469.6 667.8a2 2 0 1 0 0.01 0ZM518.4 720.4a1.4 1.4 0 1 0 0.01 0ZM516.9 723.2a2 2 0 1 0 0.01 0ZM503.3 838.7a1.8 1.8 0 1 0 0.01 0ZM505.5 840.9a1.6 1.6 0 1 0 0.01 0ZM538 805.9a1.4 1.4 0 1 0 0.01 0ZM538.5 803.2a2 2 0 1 0 0.01 0ZM443.9 893.5a2 2 0 1 0 0.01 0ZM444.5 890.8a1.6 1.6 0 1 0 0.01 0ZM454.7 861.2a2 2 0 1 0 0.01 0ZM452.1 861.4a1.4 1.4 0 1 0 0.01 0ZM449.8 859.9a1.4 1.4 0 1 0 0.01 0ZM461 684.6a1.4 1.4 0 1 0 0.01 0ZM460.2 687.3a1.6 1.6 0 1 0 0.01 0ZM460.5 690.1a1.4 1.4 0 1 0 0.01 0ZM560.6 902.4a1.6 1.6 0 1 0 0.01 0ZM561.9 899.9a1.6 1.6 0 1 0 0.01 0ZM560 897.5a1.8 1.8 0 1 0 0.01 0ZM446.7 677.2a1.6 1.6 0 1 0 0.01 0ZM449.1 675.7a2 2 0 1 0 0.01 0ZM424 697a2 2 0 1 0 0.01 0ZM424.5 699.8a1.6 1.6 0 1 0 0.01 0ZM478.8 675.8a1.4 1.4 0 1 0 0.01 0ZM480.6 677.1a2 2 0 1 0 0.01 0ZM557.5 826.3a1.4 1.4 0 1 0 0.01 0ZM477.9 895.3a1.8 1.8 0 1 0 0.01 0ZM475 894.7a1.8 1.8 0 1 0 0.01 0ZM474.8 891.8a1.4 1.4 0 1 0 0.01 0ZM527.8 901.3a1.6 1.6 0 1 0 0.01 0ZM514.6 854.6a2 2 0 1 0 0.01 0ZM564.4 801.6a2 2 0 1 0 0.01 0ZM441.4 890.4a1.4 1.4 0 1 0 0.01 0ZM503.9 902a1.8 1.8 0 1 0 0.01 0ZM505.1 904.7a1.4 1.4 0 1 0 0.01 0ZM564.6 901.7a2 2 0 1 0 0.01 0ZM566.8 900.2a2 2 0 1 0 0.01 0ZM643.7 860.4a1.8 1.8 0 1 0 0.01 0ZM544.5 807.1a1.8 1.8 0 1 0 0.01 0ZM542.3 808.4a1.4 1.4 0 1 0 0.01 0ZM492.7 735.4a1.6 1.6 0 1 0 0.01 0ZM496.1 735.1a1.4 1.4 0 1 0 0.01 0ZM500.5 742.3a1.6 1.6 0 1 0 0.01 0ZM491.5 745.1a1.8 1.8 0 1 0 0.01 0ZM602.3 862a1.8 1.8 0 1 0 0.01 0ZM603.5 845.7a1.4 1.4 0 1 0 0.01 0ZM606.3 845.7a1.8 1.8 0 1 0 0.01 0ZM608.7 843.8a1.6 1.6 0 1 0 0.01 0ZM433.7 832.5a1.8 1.8 0 1 0 0.01 0ZM432 759.7a1.4 1.4 0 1 0 0.01 0ZM433.2 762.5a1.6 1.6 0 1 0 0.01 0ZM471.3 821.2a1.8 1.8 0 1 0 0.01 0ZM473.9 820.5a1.8 1.8 0 1 0 0.01 0ZM652 854.1a2 2 0 1 0 0.01 0ZM654.6 855.4a1.6 1.6 0 1 0 0.01 0ZM657.3 856.5a2 2 0 1 0 0.01 0ZM437.7 650.9a1.8 1.8 0 1 0 0.01 0ZM438.9 653.4a1.8 1.8 0 1 0 0.01 0ZM569.8 854.9a1.4 1.4 0 1 0 0.01 0ZM438.4 892.3a1.6 1.6 0 1 0 0.01 0ZM440.1 894.8a2 2 0 1 0 0.01 0ZM564.3 781.2a1.6 1.6 0 1 0 0.01 0ZM496.7 830.3a1.4 1.4 0 1 0 0.01 0ZM539 747.4a2 2 0 1 0 0.01 0ZM538.2 744.7a2 2 0 1 0 0.01 0ZM538.5 741.7a2 2 0 1 0 0.01 0ZM556 797.5a2 2 0 1 0 0.01 0ZM557 795a1.8 1.8 0 1 0 0.01 0ZM555 764.1a1.6 1.6 0 1 0 0.01 0ZM438.7 762.2a1.6 1.6 0 1 0 0.01 0ZM436.3 762.7a1.4 1.4 0 1 0 0.01 0ZM570 901.6a1.6 1.6 0 1 0 0.01 0ZM573.1 890.3a1.6 1.6 0 1 0 0.01 0ZM476.6 656.7a2 2 0 1 0 0.01 0ZM478.2 659.7a1.4 1.4 0 1 0 0.01 0ZM476.9 662.2a1.8 1.8 0 1 0 0.01 0ZM578.4 819.1a2 2 0 1 0 0.01 0ZM491.2 796.5a1.8 1.8 0 1 0 0.01 0ZM683.7 893a1.4 1.4 0 1 0 0.01 0ZM569.1 795.7a1.4 1.4 0 1 0 0.01 0ZM579.3 771.5a1.6 1.6 0 1 0 0.01 0ZM575.9 772.1a2 2 0 1 0 0.01 0ZM662.9 824.9a1.6 1.6 0 1 0 0.01 0ZM662.7 828.1a2 2 0 1 0 0.01 0ZM438.8 859.8a2 2 0 1 0 0.01 0ZM430.2 664.2a1.4 1.4 0 1 0 0.01 0ZM481.9 794.3a2 2 0 1 0 0.01 0ZM482.4 791.6a1.8 1.8 0 1 0 0.01 0ZM565.4 772.8a2 2 0 1 0 0.01 0ZM564.5 770a1.6 1.6 0 1 0 0.01 0ZM522.9 837.9a1.8 1.8 0 1 0 0.01 0ZM525.4 838.3a2 2 0 1 0 0.01 0ZM528.4 840.2a1.8 1.8 0 1 0 0.01 0ZM693.6 866.3a1.8 1.8 0 1 0 0.01 0ZM677.6 890.9a2 2 0 1 0 0.01 0ZM679.7 888.2a1.4 1.4 0 1 0 0.01 0ZM682.3 887.6a1.6 1.6 0 1 0 0.01 0ZM486 798.8a1.6 1.6 0 1 0 0.01 0ZM454.6 893.1a1.4 1.4 0 1 0 0.01 0ZM442.9 621.4a1.4 1.4 0 1 0 0.01 0ZM707 887.6a1.8 1.8 0 1 0 0.01 0ZM709.6 888.9a1.6 1.6 0 1 0 0.01 0ZM712.2 888.9a1.8 1.8 0 1 0 0.01 0ZM506.8 827.5a2 2 0 1 0 0.01 0ZM431.9 734.2a1.4 1.4 0 1 0 0.01 0ZM428.6 735a1.6 1.6 0 1 0 0.01 0ZM553.4 768.3a1.4 1.4 0 1 0 0.01 0ZM569.6 852.4a1.8 1.8 0 1 0 0.01 0ZM667.2 896a1.4 1.4 0 1 0 0.01 0ZM569.3 912.3a1.8 1.8 0 1 0 0.01 0ZM568.8 909.4a2 2 0 1 0 0.01 0ZM548.8 805.9a1.8 1.8 0 1 0 0.01 0ZM473.3 909.6a2 2 0 1 0 0.01 0ZM476.5 911.2a1.4 1.4 0 1 0 0.01 0ZM479.1 911.8a1.6 1.6 0 1 0 0.01 0ZM561.3 819.2a1.6 1.6 0 1 0 0.01 0ZM502.6 839.5a1.6 1.6 0 1 0 0.01 0ZM500.8 842.2a1.8 1.8 0 1 0 0.01 0ZM479.2 907.3a1.6 1.6 0 1 0 0.01 0ZM480.1 909.7a2 2 0 1 0 0.01 0ZM482.9 910.4a1.8 1.8 0 1 0 0.01 0ZM480.9 803.5a2 2 0 1 0 0.01 0ZM489.1 909.1a1.6 1.6 0 1 0 0.01 0ZM616.6 867.6a1.6 1.6 0 1 0 0.01 0ZM617 864.6a2 2 0 1 0 0.01 0ZM617.8 861.8a1.4 1.4 0 1 0 0.01 0ZM542 826.5a2 2 0 1 0 0.01 0ZM620.9 875.9a1.4 1.4 0 1 0 0.01 0ZM620.3 878.8a1.4 1.4 0 1 0 0.01 0ZM622.4 880.7a1.6 1.6 0 1 0 0.01 0ZM482.3 714.2a1.6 1.6 0 1 0 0.01 0ZM479.2 713.5a1.8 1.8 0 1 0 0.01 0ZM439.6 691.5a1.4 1.4 0 1 0 0.01 0ZM442.1 692.1a1.8 1.8 0 1 0 0.01 0ZM513 730.3a2 2 0 1 0 0.01 0ZM516.3 729.6a1.4 1.4 0 1 0 0.01 0ZM563.1 780.1a1.6 1.6 0 1 0 0.01 0ZM668 858.4a1.6 1.6 0 1 0 0.01 0ZM670.4 860.2a1.6 1.6 0 1 0 0.01 0ZM498.3 738.2a1.8 1.8 0 1 0 0.01 0ZM518.3 756.4a1.8 1.8 0 1 0 0.01 0ZM515.3 756.3a2 2 0 1 0 0.01 0ZM465.2 679a1.6 1.6 0 1 0 0.01 0ZM465.5 681.9a1.6 1.6 0 1 0 0.01 0ZM446.2 865.5a1.4 1.4 0 1 0 0.01 0ZM446.7 862.8a1.6 1.6 0 1 0 0.01 0ZM446.9 859.8a2 2 0 1 0 0.01 0ZM570 760.4a1.4 1.4 0 1 0 0.01 0ZM566.6 761a2 2 0 1 0 0.01 0ZM534.7 736a1.8 1.8 0 1 0 0.01 0ZM536.9 737.9a1.4 1.4 0 1 0 0.01 0ZM537.6 741a1.8 1.8 0 1 0 0.01 0ZM567.3 840.2a2 2 0 1 0 0.01 0ZM564.6 768.9a1.8 1.8 0 1 0 0.01 0ZM574.5 907.3a1.4 1.4 0 1 0 0.01 0ZM571.6 908.6a1.8 1.8 0 1 0 0.01 0ZM571.2 911.8a1.4 1.4 0 1 0 0.01 0ZM638.8 879.8a2 2 0 1 0 0.01 0ZM636.6 879.8a1.6 1.6 0 1 0 0.01 0ZM572.9 774.4a1.4 1.4 0 1 0 0.01 0ZM569.1 774.3a2 2 0 1 0 0.01 0ZM621.7 874.7a1.4 1.4 0 1 0 0.01 0ZM620.8 871.5a1.8 1.8 0 1 0 0.01 0ZM513.2 736.9a1.4 1.4 0 1 0 0.01 0ZM669.4 845.3a2 2 0 1 0 0.01 0ZM667 844.4a2 2 0 1 0 0.01 0ZM446.9 752.4a2 2 0 1 0 0.01 0ZM459.1 904.6a1.4 1.4 0 1 0 0.01 0ZM437.4 845.4a1.6 1.6 0 1 0 0.01 0ZM437.6 842.8a2 2 0 1 0 0.01 0ZM438.2 839.5a1.8 1.8 0 1 0 0.01 0ZM432.2 625.6a1.4 1.4 0 1 0 0.01 0ZM432.4 622.8a1.6 1.6 0 1 0 0.01 0ZM435.7 621.8a1.4 1.4 0 1 0 0.01 0ZM472.3 904.6a1.6 1.6 0 1 0 0.01 0ZM537.9 849.2a1.8 1.8 0 1 0 0.01 0ZM603.9 908.1a1.8 1.8 0 1 0 0.01 0ZM496.2 726.3a1.6 1.6 0 1 0 0.01 0ZM495.9 723.5a1.4 1.4 0 1 0 0.01 0ZM469.6 890.5a1.6 1.6 0 1 0 0.01 0ZM677.4 855.6a2 2 0 1 0 0.01 0ZM676.8 853a2 2 0 1 0 0.01 0ZM678.6 850.5a1.6 1.6 0 1 0 0.01 0ZM541.2 825.2a1.4 1.4 0 1 0 0.01 0ZM448.5 855.4a1.8 1.8 0 1 0 0.01 0ZM565.6 788.5a1.4 1.4 0 1 0 0.01 0ZM531.2 780.8a1.6 1.6 0 1 0 0.01 0ZM529.5 777.8a2 2 0 1 0 0.01 0ZM612.4 849.5a1.4 1.4 0 1 0 0.01 0ZM428.6 617.3a1.6 1.6 0 1 0 0.01 0ZM425.6 619.3a2 2 0 1 0 0.01 0ZM600.5 794.5a1.4 1.4 0 1 0 0.01 0ZM433 720.8a1.4 1.4 0 1 0 0.01 0ZM430.5 719.1a1.4 1.4 0 1 0 0.01 0ZM428.9 716.7a1.8 1.8 0 1 0 0.01 0ZM540.3 745.1a1.6 1.6 0 1 0 0.01 0ZM434.2 685.8a1.4 1.4 0 1 0 0.01 0ZM657.9 825.6a2 2 0 1 0 0.01 0ZM656.2 824.1a1.4 1.4 0 1 0 0.01 0ZM656 820.9a1.8 1.8 0 1 0 0.01 0ZM533.9 727.1a1.6 1.6 0 1 0 0.01 0ZM696.7 881.8a1.6 1.6 0 1 0 0.01 0ZM698 879.4a1.6 1.6 0 1 0 0.01 0ZM533.9 837.7a2 2 0 1 0 0.01 0ZM536.6 839.4a2 2 0 1 0 0.01 0ZM476.5 746a1.6 1.6 0 1 0 0.01 0ZM469.1 690.5a1.6 1.6 0 1 0 0.01 0ZM559.5 755.6a1.4 1.4 0 1 0 0.01 0ZM648.9 906a1.6 1.6 0 1 0 0.01 0ZM650.2 908.2a1.8 1.8 0 1 0 0.01 0ZM672.3 908.4a1.4 1.4 0 1 0 0.01 0ZM476.6 866.8a1.6 1.6 0 1 0 0.01 0ZM475.3 864.6a1.4 1.4 0 1 0 0.01 0ZM463.3 813.3a1.8 1.8 0 1 0 0.01 0ZM462.3 810.8a2 2 0 1 0 0.01 0ZM464 807.9a1.8 1.8 0 1 0 0.01 0ZM426.8 887.3a1.8 1.8 0 1 0 0.01 0ZM429.8 888.1a1.8 1.8 0 1 0 0.01 0ZM594.5 871.3a2 2 0 1 0 0.01 0ZM594.9 883.6a2 2 0 1 0 0.01 0ZM516 778.1a1.6 1.6 0 1 0 0.01 0ZM493.9 743.8a1.6 1.6 0 1 0 0.01 0ZM570.7 761.2a1.4 1.4 0 1 0 0.01 0ZM599.5 872.2a2 2 0 1 0 0.01 0ZM670.4 895.8a1.4 1.4 0 1 0 0.01 0ZM668.1 893a1.8 1.8 0 1 0 0.01 0ZM522.7 741.2a1.8 1.8 0 1 0 0.01 0ZM526 739.7a1.4 1.4 0 1 0 0.01 0ZM425.5 640.6a2 2 0 1 0 0.01 0ZM489.6 736.6a2 2 0 1 0 0.01 0ZM491.8 733.7a1.4 1.4 0 1 0 0.01 0ZM502.3 816a1.4 1.4 0 1 0 0.01 0ZM578.3 740.6a1.8 1.8 0 1 0 0.01 0ZM600.9 901.5a1.4 1.4 0 1 0 0.01 0ZM603 899.5a1.6 1.6 0 1 0 0.01 0ZM688 889a1.6 1.6 0 1 0 0.01 0ZM685.5 891.2a1.8 1.8 0 1 0 0.01 0ZM593.3 807.3a1.8 1.8 0 1 0 0.01 0ZM537.4 787.4a1.6 1.6 0 1 0 0.01 0ZM442 875.4a2 2 0 1 0 0.01 0ZM443.3 872.5a1.4 1.4 0 1 0 0.01 0ZM625.5 894.7a1.8 1.8 0 1 0 0.01 0ZM626.4 897.3a1.8 1.8 0 1 0 0.01 0ZM644 835.9a1.6 1.6 0 1 0 0.01 0ZM643.9 838.6a2 2 0 1 0 0.01 0ZM571.6 903.5a1.8 1.8 0 1 0 0.01 0ZM570.6 906.5a2 2 0 1 0 0.01 0ZM508.4 715.6a2 2 0 1 0 0.01 0ZM646.1 911.8a1.6 1.6 0 1 0 0.01 0ZM642.6 912.7a2 2 0 1 0 0.01 0ZM448.8 890.4a1.6 1.6 0 1 0 0.01 0ZM550.1 887.5a1.8 1.8 0 1 0 0.01 0ZM577.8 818.1a1.4 1.4 0 1 0 0.01 0ZM574.9 818a1.4 1.4 0 1 0 0.01 0ZM452.1 722.3a1.6 1.6 0 1 0 0.01 0ZM452.6 719.1a2 2 0 1 0 0.01 0ZM629.7 836.9a1.8 1.8 0 1 0 0.01 0ZM525 895.1a2 2 0 1 0 0.01 0ZM528.2 894a1.6 1.6 0 1 0 0.01 0ZM477.3 801.1a1.4 1.4 0 1 0 0.01 0ZM478.4 803.4a1.4 1.4 0 1 0 0.01 0ZM571.8 777.4a1.6 1.6 0 1 0 0.01 0ZM459.1 655.3a1.4 1.4 0 1 0 0.01 0ZM426.1 844.3a1.6 1.6 0 1 0 0.01 0ZM527.1 745.6a1.6 1.6 0 1 0 0.01 0ZM528.8 748.2a1.4 1.4 0 1 0 0.01 0ZM701.2 870.3a2 2 0 1 0 0.01 0ZM538.9 828.3a2 2 0 1 0 0.01 0ZM474.2 717.4a1.8 1.8 0 1 0 0.01 0ZM523.1 875.4a1.4 1.4 0 1 0 0.01 0ZM538.8 750.8a1.4 1.4 0 1 0 0.01 0ZM461.4 667.5a1.6 1.6 0 1 0 0.01 0ZM463.2 665.1a1.6 1.6 0 1 0 0.01 0ZM490.4 746.4a1.8 1.8 0 1 0 0.01 0ZM543.8 764.1a1.4 1.4 0 1 0 0.01 0ZM430.6 828.2a2 2 0 1 0 0.01 0ZM478.7 881.5a1.8 1.8 0 1 0 0.01 0ZM480.2 828.4a1.6 1.6 0 1 0 0.01 0ZM529.2 867.1a1.6 1.6 0 1 0 0.01 0ZM531.5 866.1a1.8 1.8 0 1 0 0.01 0ZM527.4 734.1a2 2 0 1 0 0.01 0ZM525.1 732a1.8 1.8 0 1 0 0.01 0ZM525.3 729.4a1.8 1.8 0 1 0 0.01 0ZM642.6 826.5a1.6 1.6 0 1 0 0.01 0ZM469.3 834.4a1.6 1.6 0 1 0 0.01 0ZM467.4 836.8a2 2 0 1 0 0.01 0ZM553.1 817.8a1.4 1.4 0 1 0 0.01 0ZM436.4 682.3a1.8 1.8 0 1 0 0.01 0ZM646.5 862.3a1.8 1.8 0 1 0 0.01 0ZM644.2 862.6a1.4 1.4 0 1 0 0.01 0ZM643 860a1.6 1.6 0 1 0 0.01 0ZM641.8 857.5a1.8 1.8 0 1 0 0.01 0ZM500.1 903.8a2 2 0 1 0 0.01 0ZM463.6 818.4a1.6 1.6 0 1 0 0.01 0ZM463.1 815.8a2 2 0 1 0 0.01 0ZM549.4 896.9a2 2 0 1 0 0.01 0ZM550.6 894.1a1.6 1.6 0 1 0 0.01 0ZM548.7 891.8a1.8 1.8 0 1 0 0.01 0ZM455.2 702.1a2 2 0 1 0 0.01 0ZM425.4 912.6a1.8 1.8 0 1 0 0.01 0ZM454.8 757.6a1.8 1.8 0 1 0 0.01 0ZM453.8 760.7a1.8 1.8 0 1 0 0.01 0ZM430.7 845.5a1.6 1.6 0 1 0 0.01 0ZM452.9 828.4a1.8 1.8 0 1 0 0.01 0ZM463.5 890.3a1.4 1.4 0 1 0 0.01 0ZM487.1 737.3a1.8 1.8 0 1 0 0.01 0ZM488.4 740.2a1.6 1.6 0 1 0 0.01 0ZM487.6 742.9a2 2 0 1 0 0.01 0ZM487.5 721.7a2 2 0 1 0 0.01 0ZM439.2 825.9a1.4 1.4 0 1 0 0.01 0ZM511.1 743.5a1.6 1.6 0 1 0 0.01 0ZM509.2 740.9a2 2 0 1 0 0.01 0ZM543 794.6a1.4 1.4 0 1 0 0.01 0ZM532.8 809.2a1.8 1.8 0 1 0 0.01 0ZM644.1 819.9a1.8 1.8 0 1 0 0.01 0ZM490.8 905.3a1.4 1.4 0 1 0 0.01 0ZM623.5 825.4a1.6 1.6 0 1 0 0.01 0ZM642.7 887a2 2 0 1 0 0.01 0ZM645 889.7a1.6 1.6 0 1 0 0.01 0ZM637 840.1a1.4 1.4 0 1 0 0.01 0ZM585.9 905.1a1.4 1.4 0 1 0 0.01 0ZM439.7 680a1.6 1.6 0 1 0 0.01 0ZM463.1 886.8a1.6 1.6 0 1 0 0.01 0ZM651.3 816.6a1.8 1.8 0 1 0 0.01 0ZM529.3 757.6a1.8 1.8 0 1 0 0.01 0ZM527.4 759.9a1.4 1.4 0 1 0 0.01 0ZM494.7 716.1a2 2 0 1 0 0.01 0ZM494.5 718.6a1.4 1.4 0 1 0 0.01 0ZM496.2 720.8a1.6 1.6 0 1 0 0.01 0ZM465.5 876.6a1.8 1.8 0 1 0 0.01 0ZM466.7 878.9a1.8 1.8 0 1 0 0.01 0ZM608.1 805.6a2 2 0 1 0 0.01 0ZM605.3 804.2a2 2 0 1 0 0.01 0ZM435.3 659.3a1.8 1.8 0 1 0 0.01 0ZM428.6 748.5a1.6 1.6 0 1 0 0.01 0ZM430 750.5a2 2 0 1 0 0.01 0ZM501 782.2a1.6 1.6 0 1 0 0.01 0ZM501.6 779.6a1.4 1.4 0 1 0 0.01 0ZM612.3 802.5a1.6 1.6 0 1 0 0.01 0ZM651.4 834.8a1.6 1.6 0 1 0 0.01 0ZM651.9 831.9a2 2 0 1 0 0.01 0ZM623.9 879.2a1.6 1.6 0 1 0 0.01 0ZM621.5 876.8a1.6 1.6 0 1 0 0.01 0ZM556.3 782.2a1.4 1.4 0 1 0 0.01 0ZM497.8 783.1a1.8 1.8 0 1 0 0.01 0ZM498.7 780.4a1.4 1.4 0 1 0 0.01 0ZM499.3 777.8a1.8 1.8 0 1 0 0.01 0ZM568 883.9a1.4 1.4 0 1 0 0.01 0ZM436.9 745a1.4 1.4 0 1 0 0.01 0ZM438.3 747.7a1.6 1.6 0 1 0 0.01 0ZM665.4 876.7a1.4 1.4 0 1 0 0.01 0ZM520.2 837.8a1.8 1.8 0 1 0 0.01 0ZM518.5 840.3a1.4 1.4 0 1 0 0.01 0ZM518.8 843.3a2 2 0 1 0 0.01 0ZM704.3 876a1.8 1.8 0 1 0 0.01 0ZM450.6 655.1a1.4 1.4 0 1 0 0.01 0ZM525.4 816.5a1.8 1.8 0 1 0 0.01 0ZM528.2 817.4a2 2 0 1 0 0.01 0ZM515 845a1.8 1.8 0 1 0 0.01 0ZM512.5 846.7a1.8 1.8 0 1 0 0.01 0ZM512.2 849.3a2 2 0 1 0 0.01 0ZM716.3 895.6a1.4 1.4 0 1 0 0.01 0ZM717.7 897.8a1.6 1.6 0 1 0 0.01 0ZM643.7 885.1a1.6 1.6 0 1 0 0.01 0ZM645.6 882.9a1.6 1.6 0 1 0 0.01 0ZM647.4 880.2a1.6 1.6 0 1 0 0.01 0ZM519.7 885.3a1.4 1.4 0 1 0 0.01 0ZM542.6 873.1a2 2 0 1 0 0.01 0ZM489.6 684.6a1.6 1.6 0 1 0 0.01 0ZM681.3 874.7a1.6 1.6 0 1 0 0.01 0ZM521.5 756.5a2 2 0 1 0 0.01 0ZM656.7 869.2a2 2 0 1 0 0.01 0ZM657.1 872.5a1.8 1.8 0 1 0 0.01 0ZM656.1 875.5a1.6 1.6 0 1 0 0.01 0ZM472.6 817.3a2 2 0 1 0 0.01 0ZM432.5 679.3a1.4 1.4 0 1 0 0.01 0ZM428.9 678.3a2 2 0 1 0 0.01 0ZM427.3 676a1.4 1.4 0 1 0 0.01 0ZM456.3 715.9a1.4 1.4 0 1 0 0.01 0ZM458.3 714.3a1.6 1.6 0 1 0 0.01 0ZM475.6 688.5a1.6 1.6 0 1 0 0.01 0ZM425.4 818.9a1.8 1.8 0 1 0 0.01 0ZM716.7 876.2a2 2 0 1 0 0.01 0ZM718 879a1.6 1.6 0 1 0 0.01 0ZM719.2 881.4a2 2 0 1 0 0.01 0ZM572.3 911.5a2 2 0 1 0 0.01 0ZM573.9 908.4a1.4 1.4 0 1 0 0.01 0ZM571.9 906a1.4 1.4 0 1 0 0.01 0ZM645.9 869.9a2 2 0 1 0 0.01 0ZM646 873a2 2 0 1 0 0.01 0ZM620.3 861.5a1.6 1.6 0 1 0 0.01 0ZM500.7 866a2 2 0 1 0 0.01 0ZM498.9 868.4a1.4 1.4 0 1 0 0.01 0ZM495.7 867.7a1.6 1.6 0 1 0 0.01 0ZM560.7 804.3a1.4 1.4 0 1 0 0.01 0ZM561 801.5a2 2 0 1 0 0.01 0ZM559.7 799.3a1.8 1.8 0 1 0 0.01 0ZM509.2 744.4a2 2 0 1 0 0.01 0ZM461.4 757.5a1.8 1.8 0 1 0 0.01 0ZM461.4 760.8a1.8 1.8 0 1 0 0.01 0ZM464 761.8a1.8 1.8 0 1 0 0.01 0ZM449.4 802.9a2 2 0 1 0 0.01 0ZM656.5 890.5a1.8 1.8 0 1 0 0.01 0ZM656 893.7a2 2 0 1 0 0.01 0ZM656.3 896.8a1.8 1.8 0 1 0 0.01 0ZM595.8 891.8a1.8 1.8 0 1 0 0.01 0ZM591 895a2 2 0 1 0 0.01 0ZM594.3 895.5a1.4 1.4 0 1 0 0.01 0ZM597.3 895.6a1.4 1.4 0 1 0 0.01 0ZM448.9 839a1.6 1.6 0 1 0 0.01 0ZM446.2 838.4a1.4 1.4 0 1 0 0.01 0ZM479.3 909.5a1.8 1.8 0 1 0 0.01 0ZM537.1 811.5a2 2 0 1 0 0.01 0ZM496.8 724.1a1.8 1.8 0 1 0 0.01 0ZM497.5 721.5a1.6 1.6 0 1 0 0.01 0ZM561.5 757.6a1.8 1.8 0 1 0 0.01 0ZM565.2 758.2a1.4 1.4 0 1 0 0.01 0ZM442.7 900a1.6 1.6 0 1 0 0.01 0ZM635.2 854.2a2 2 0 1 0 0.01 0ZM636.1 851.2a1.6 1.6 0 1 0 0.01 0ZM624.6 814.9a1.6 1.6 0 1 0 0.01 0ZM450.8 848.5a1.8 1.8 0 1 0 0.01 0ZM549.8 874.4a1.6 1.6 0 1 0 0.01 0ZM549.6 877.2a1.6 1.6 0 1 0 0.01 0ZM546.9 879a1.6 1.6 0 1 0 0.01 0ZM491.4 907a1.8 1.8 0 1 0 0.01 0ZM450.3 750.1a1.8 1.8 0 1 0 0.01 0ZM450.2 752.7a1.8 1.8 0 1 0 0.01 0ZM453.2 754.8a1.4 1.4 0 1 0 0.01 0ZM568 873.1a1.4 1.4 0 1 0 0.01 0ZM564.9 873.7a1.6 1.6 0 1 0 0.01 0ZM467.7 699.4a2 2 0 1 0 0.01 0ZM672.2 856.2a1.4 1.4 0 1 0 0.01 0ZM670.5 854a1.6 1.6 0 1 0 0.01 0ZM669.6 851.2a1.4 1.4 0 1 0 0.01 0ZM546.1 821.5a1.8 1.8 0 1 0 0.01 0ZM543.6 823.1a1.6 1.6 0 1 0 0.01 0ZM616 864.7a1.4 1.4 0 1 0 0.01 0ZM467.9 690.3a2 2 0 1 0 0.01 0ZM471.6 690.7a1.4 1.4 0 1 0 0.01 0ZM481.7 731.3a1.6 1.6 0 1 0 0.01 0ZM659.9 823a1.6 1.6 0 1 0 0.01 0ZM549.8 799.3a1.4 1.4 0 1 0 0.01 0ZM492.8 790.4a1.4 1.4 0 1 0 0.01 0ZM493.7 788.1a1.8 1.8 0 1 0 0.01 0ZM607.5 820.1a2 2 0 1 0 0.01 0ZM517.6 893.9a1.6 1.6 0 1 0 0.01 0ZM520.1 892.1a1.6 1.6 0 1 0 0.01 0ZM464.7 668a1.4 1.4 0 1 0 0.01 0ZM566.5 760.2a1.4 1.4 0 1 0 0.01 0ZM675.9 849.3a1.8 1.8 0 1 0 0.01 0ZM570 844.8a1.8 1.8 0 1 0 0.01 0ZM569.4 847.9a1.6 1.6 0 1 0 0.01 0ZM657.9 875.2a1.4 1.4 0 1 0 0.01 0ZM662.7 838.2a2 2 0 1 0 0.01 0ZM594.5 894.4a2 2 0 1 0 0.01 0ZM596.3 897.1a1.8 1.8 0 1 0 0.01 0ZM596.1 900a1.4 1.4 0 1 0 0.01 0ZM660.1 811.3a1.4 1.4 0 1 0 0.01 0ZM659.5 808.3a1.4 1.4 0 1 0 0.01 0ZM540.8 750.5a1.4 1.4 0 1 0 0.01 0ZM487.3 800.2a1.6 1.6 0 1 0 0.01 0ZM487.8 797.3a1.6 1.6 0 1 0 0.01 0ZM572.3 901.4a1.6 1.6 0 1 0 0.01 0ZM574.9 899.9a2 2 0 1 0 0.01 0ZM474.8 898.1a1.8 1.8 0 1 0 0.01 0ZM472.8 895.5a2 2 0 1 0 0.01 0ZM498 735.1a2 2 0 1 0 0.01 0ZM495.4 734.5a1.8 1.8 0 1 0 0.01 0ZM534.8 767.8a2 2 0 1 0 0.01 0ZM538.3 768.9a1.4 1.4 0 1 0 0.01 0ZM540.8 766.8a1.4 1.4 0 1 0 0.01 0ZM647.3 881.5a2 2 0 1 0 0.01 0ZM645.1 882.7a1.6 1.6 0 1 0 0.01 0ZM645.1 886a1.8 1.8 0 1 0 0.01 0ZM540.1 837.2a1.6 1.6 0 1 0 0.01 0ZM542.1 835.4a2 2 0 1 0 0.01 0ZM545.3 834a1.4 1.4 0 1 0 0.01 0ZM536.3 903.6a1.8 1.8 0 1 0 0.01 0ZM535.3 906.8a2 2 0 1 0 0.01 0ZM532.7 908.4a1.8 1.8 0 1 0 0.01 0ZM515 767.3a1.4 1.4 0 1 0 0.01 0ZM512.7 770.1a1.8 1.8 0 1 0 0.01 0ZM510 769.7a1.8 1.8 0 1 0 0.01 0ZM608.4 892.8a1.8 1.8 0 1 0 0.01 0ZM610.9 893.8a2 2 0 1 0 0.01 0ZM467.6 840.2a2 2 0 1 0 0.01 0ZM468 837.4a1.8 1.8 0 1 0 0.01 0ZM665.9 869.2a1.4 1.4 0 1 0 0.01 0ZM587.2 839.2a1.4 1.4 0 1 0 0.01 0ZM589.7 839a1.6 1.6 0 1 0 0.01 0ZM591.4 841.8a1.4 1.4 0 1 0 0.01 0ZM524.9 727.9a1.6 1.6 0 1 0 0.01 0ZM486.5 817a1.4 1.4 0 1 0 0.01 0ZM486.9 820a2 2 0 1 0 0.01 0ZM504.5 867.2a1.6 1.6 0 1 0 0.01 0ZM616.7 877.6a2 2 0 1 0 0.01 0ZM442.6 792.8a1.6 1.6 0 1 0 0.01 0ZM439.8 794.1a1.8 1.8 0 1 0 0.01 0ZM464.2 691.7a1.4 1.4 0 1 0 0.01 0ZM455.4 676.1a1.8 1.8 0 1 0 0.01 0ZM458.2 675.2a1.6 1.6 0 1 0 0.01 0ZM460.6 672.7a1.4 1.4 0 1 0 0.01 0ZM534.9 901a1.4 1.4 0 1 0 0.01 0ZM682.5 913.7a1.8 1.8 0 1 0 0.01 0ZM614.5 784.3a2 2 0 1 0 0.01 0ZM613.5 786.9a1.4 1.4 0 1 0 0.01 0ZM480.7 833.7a1.6 1.6 0 1 0 0.01 0ZM482.7 836a1.8 1.8 0 1 0 0.01 0ZM528.4 735.7a1.8 1.8 0 1 0 0.01 0ZM528.3 732.6a1.8 1.8 0 1 0 0.01 0ZM531.2 731.4a1.4 1.4 0 1 0 0.01 0ZM636.4 845a1.6 1.6 0 1 0 0.01 0ZM498 726.8a1.4 1.4 0 1 0 0.01 0ZM505.5 858a2 2 0 1 0 0.01 0ZM504.3 861.1a2 2 0 1 0 0.01 0ZM486.8 787.3a1.4 1.4 0 1 0 0.01 0ZM489.4 787.5a1.4 1.4 0 1 0 0.01 0ZM483.7 716.2a1.6 1.6 0 1 0 0.01 0ZM593.6 890.5a2 2 0 1 0 0.01 0ZM595.3 887.6a1.4 1.4 0 1 0 0.01 0ZM597.7 886.7a1.6 1.6 0 1 0 0.01 0ZM457.9 760.4a1.6 1.6 0 1 0 0.01 0ZM459.6 763.3a1.4 1.4 0 1 0 0.01 0ZM450.7 907.7a1.4 1.4 0 1 0 0.01 0ZM435.5 778.3a1.8 1.8 0 1 0 0.01 0ZM435.2 775.3a2 2 0 1 0 0.01 0ZM478.3 855.6a1.8 1.8 0 1 0 0.01 0ZM689.5 889.2a1.4 1.4 0 1 0 0.01 0ZM573.3 797.9a1.4 1.4 0 1 0 0.01 0ZM575.1 795.6a1.8 1.8 0 1 0 0.01 0ZM478.6 763.2a1.6 1.6 0 1 0 0.01 0ZM478.3 766.5a1.4 1.4 0 1 0 0.01 0ZM450.4 831.9a1.8 1.8 0 1 0 0.01 0ZM466.9 793.8a1.4 1.4 0 1 0 0.01 0ZM626.9 843.3a2 2 0 1 0 0.01 0ZM650.2 838.6a1.4 1.4 0 1 0 0.01 0ZM626.9 868.8a1.4 1.4 0 1 0 0.01 0ZM624.8 865.8a2 2 0 1 0 0.01 0ZM658.9 867.7a1.4 1.4 0 1 0 0.01 0ZM564.4 798.9a1.6 1.6 0 1 0 0.01 0ZM524.4 774.5a1.8 1.8 0 1 0 0.01 0ZM494.2 712.5a1.4 1.4 0 1 0 0.01 0ZM459 748.1a1.6 1.6 0 1 0 0.01 0ZM485.7 695.5a2 2 0 1 0 0.01 0ZM475.1 741.9a1.8 1.8 0 1 0 0.01 0ZM474.9 744.7a1.8 1.8 0 1 0 0.01 0ZM472.6 745.7a1.6 1.6 0 1 0 0.01 0ZM619.4 835.1a1.4 1.4 0 1 0 0.01 0ZM456.1 759.1a1.8 1.8 0 1 0 0.01 0ZM458.2 756.6a1.4 1.4 0 1 0 0.01 0ZM719.2 877.4a1.6 1.6 0 1 0 0.01 0ZM490.1 870.3a1.8 1.8 0 1 0 0.01 0ZM444 634.6a1.8 1.8 0 1 0 0.01 0ZM441.7 635.2a1.4 1.4 0 1 0 0.01 0ZM439.1 633.7a1.8 1.8 0 1 0 0.01 0ZM426.6 869.6a1.8 1.8 0 1 0 0.01 0ZM463.9 849.7a1.6 1.6 0 1 0 0.01 0ZM497.1 852.2a1.4 1.4 0 1 0 0.01 0ZM487.7 725.3a2 2 0 1 0 0.01 0ZM452.5 723.2a1.4 1.4 0 1 0 0.01 0ZM455.6 778a1.4 1.4 0 1 0 0.01 0ZM458.2 779.8a1.6 1.6 0 1 0 0.01 0ZM479.4 689a1.8 1.8 0 1 0 0.01 0ZM477 689.1a1.6 1.6 0 1 0 0.01 0ZM440.4 740a1.6 1.6 0 1 0 0.01 0ZM452.4 754a2 2 0 1 0 0.01 0ZM455.1 754.6a2 2 0 1 0 0.01 0ZM506.2 850a2 2 0 1 0 0.01 0ZM425.3 808.1a2 2 0 1 0 0.01 0ZM428.3 807.7a1.6 1.6 0 1 0 0.01 0ZM464 719.3a1.8 1.8 0 1 0 0.01 0ZM466.6 717.3a1.8 1.8 0 1 0 0.01 0ZM560.1 829.9a1.4 1.4 0 1 0 0.01 0ZM562.2 832.5a1.6 1.6 0 1 0 0.01 0ZM429.9 657.9a1.6 1.6 0 1 0 0.01 0ZM486.1 886.1a1.6 1.6 0 1 0 0.01 0ZM503.7 907.3a1.6 1.6 0 1 0 0.01 0ZM429.5 722.2a1.4 1.4 0 1 0 0.01 0ZM547 887.4a1.8 1.8 0 1 0 0.01 0ZM546.7 890a1.6 1.6 0 1 0 0.01 0ZM668.2 850.3a1.6 1.6 0 1 0 0.01 0ZM502.7 897.1a2 2 0 1 0 0.01 0ZM503.2 899.8a1.4 1.4 0 1 0 0.01 0ZM572.3 770.4a1.6 1.6 0 1 0 0.01 0ZM572.6 767.3a1.8 1.8 0 1 0 0.01 0ZM573.5 764.7a1.8 1.8 0 1 0 0.01 0ZM520.8 890.4a1.6 1.6 0 1 0 0.01 0ZM518.1 891.1a1.6 1.6 0 1 0 0.01 0ZM570.5 719.4a1.8 1.8 0 1 0 0.01 0ZM573 720.6a2 2 0 1 0 0.01 0ZM575.4 722.6a2 2 0 1 0 0.01 0ZM475 755.4a1.6 1.6 0 1 0 0.01 0ZM496.8 789.4a1.8 1.8 0 1 0 0.01 0ZM442 747.1a1.4 1.4 0 1 0 0.01 0ZM441.6 744.5a2 2 0 1 0 0.01 0ZM443.8 742.2a1.4 1.4 0 1 0 0.01 0ZM447.9 683.7a1.8 1.8 0 1 0 0.01 0ZM437.9 906.9a1.8 1.8 0 1 0 0.01 0ZM478.9 893.1a1.6 1.6 0 1 0 0.01 0ZM481.4 891.9a1.8 1.8 0 1 0 0.01 0ZM661.5 854a1.6 1.6 0 1 0 0.01 0ZM663.2 850.7a2 2 0 1 0 0.01 0ZM479.8 786.4a2 2 0 1 0 0.01 0ZM549.4 771.2a1.6 1.6 0 1 0 0.01 0ZM551 773.4a1.8 1.8 0 1 0 0.01 0ZM553.9 774a2 2 0 1 0 0.01 0ZM483.8 702.8a1.6 1.6 0 1 0 0.01 0ZM483.9 700.1a1.8 1.8 0 1 0 0.01 0ZM486.4 698.1a1.8 1.8 0 1 0 0.01 0ZM514.5 845.6a1.4 1.4 0 1 0 0.01 0ZM475 800.9a1.6 1.6 0 1 0 0.01 0ZM637.7 874.9a1.8 1.8 0 1 0 0.01 0ZM639.3 872.5a1.4 1.4 0 1 0 0.01 0ZM641.3 870.3a1.4 1.4 0 1 0 0.01 0ZM488.6 705a2 2 0 1 0 0.01 0ZM491.4 705.8a2 2 0 1 0 0.01 0ZM679.5 897.6a2 2 0 1 0 0.01 0ZM680.9 900.1a1.4 1.4 0 1 0 0.01 0ZM524.8 767.1a1.4 1.4 0 1 0 0.01 0ZM432.2 887.2a1.4 1.4 0 1 0 0.01 0ZM432.2 890a2 2 0 1 0 0.01 0ZM434.6 891.4a2 2 0 1 0 0.01 0ZM704.9 896.5a2 2 0 1 0 0.01 0ZM705.9 893.8a1.8 1.8 0 1 0 0.01 0ZM708.5 892.1a1.6 1.6 0 1 0 0.01 0ZM480.3 902.1a1.8 1.8 0 1 0 0.01 0ZM576 857.8a1.8 1.8 0 1 0 0.01 0ZM578.9 859.2a1.8 1.8 0 1 0 0.01 0ZM581.1 861.7a1.4 1.4 0 1 0 0.01 0ZM676.7 859.2a1.8 1.8 0 1 0 0.01 0ZM490.5 887.1a1.6 1.6 0 1 0 0.01 0ZM493 885a1.4 1.4 0 1 0 0.01 0ZM648.7 857.4a1.8 1.8 0 1 0 0.01 0ZM462.7 773a1.4 1.4 0 1 0 0.01 0ZM677 877.7a1.4 1.4 0 1 0 0.01 0ZM716.2 898.4a1.6 1.6 0 1 0 0.01 0ZM718.3 896.3a1.4 1.4 0 1 0 0.01 0ZM430.4 852.3a1.4 1.4 0 1 0 0.01 0ZM515.3 753.8a2 2 0 1 0 0.01 0ZM515.7 756.7a1.8 1.8 0 1 0 0.01 0ZM442.9 744.4a1.6 1.6 0 1 0 0.01 0ZM531.6 902.3a1.4 1.4 0 1 0 0.01 0ZM533.4 899.8a1.4 1.4 0 1 0 0.01 0ZM536 898.6a1.4 1.4 0 1 0 0.01 0ZM577.2 836.5a1.4 1.4 0 1 0 0.01 0ZM536.4 825.6a1.8 1.8 0 1 0 0.01 0ZM534.3 827.6a1.6 1.6 0 1 0 0.01 0ZM425.7 875.4a1.6 1.6 0 1 0 0.01 0ZM427.6 872.5a1.4 1.4 0 1 0 0.01 0ZM429.4 761.7a1.6 1.6 0 1 0 0.01 0ZM432.2 759.9a1.6 1.6 0 1 0 0.01 0ZM432.7 756.8a1.4 1.4 0 1 0 0.01 0ZM499.7 692a2 2 0 1 0 0.01 0ZM503 692.9a1.8 1.8 0 1 0 0.01 0ZM492 860.1a1.6 1.6 0 1 0 0.01 0ZM455.1 749.4a1.8 1.8 0 1 0 0.01 0ZM457.1 746.9a1.4 1.4 0 1 0 0.01 0ZM683.2 874.5a1.6 1.6 0 1 0 0.01 0ZM681.1 872.8a1.6 1.6 0 1 0 0.01 0ZM470.8 674.3a1.8 1.8 0 1 0 0.01 0ZM547.5 865.7a1.8 1.8 0 1 0 0.01 0ZM545 866.1a1.6 1.6 0 1 0 0.01 0ZM527.7 725.1a1.8 1.8 0 1 0 0.01 0ZM634.1 865.8a1.4 1.4 0 1 0 0.01 0ZM636.7 865.3a2 2 0 1 0 0.01 0ZM639.4 863.9a2 2 0 1 0 0.01 0ZM469.3 807.9a1.6 1.6 0 1 0 0.01 0ZM469.6 804.9a2 2 0 1 0 0.01 0ZM472.4 803a1.6 1.6 0 1 0 0.01 0ZM456.6 883.4a2 2 0 1 0 0.01 0ZM586.7 850.9a2 2 0 1 0 0.01 0ZM604.9 781.1a2 2 0 1 0 0.01 0ZM570.9 896.3a1.6 1.6 0 1 0 0.01 0ZM573.6 894.6a1.6 1.6 0 1 0 0.01 0ZM439.9 688.3a1.4 1.4 0 1 0 0.01 0ZM441.8 690.6a1.4 1.4 0 1 0 0.01 0ZM441.7 693.3a1.6 1.6 0 1 0 0.01 0ZM611.1 825.3a1.8 1.8 0 1 0 0.01 0ZM635.1 801.1a1.4 1.4 0 1 0 0.01 0ZM623.7 905.6a2 2 0 1 0 0.01 0ZM556.2 755.8a1.6 1.6 0 1 0 0.01 0ZM556.3 798.6a1.4 1.4 0 1 0 0.01 0ZM541.2 897.6a1.6 1.6 0 1 0 0.01 0ZM469.6 806a1.4 1.4 0 1 0 0.01 0ZM472 804.8a1.6 1.6 0 1 0 0.01 0ZM545 902.7a1.6 1.6 0 1 0 0.01 0ZM546.7 900.4a1.8 1.8 0 1 0 0.01 0ZM621.4 796.3a1.8 1.8 0 1 0 0.01 0ZM500.7 795.2a2 2 0 1 0 0.01 0ZM534.9 877a2 2 0 1 0 0.01 0ZM538.8 877.3a1.4 1.4 0 1 0 0.01 0ZM451.9 759.1a1.4 1.4 0 1 0 0.01 0ZM449.7 761.3a1.8 1.8 0 1 0 0.01 0ZM449.6 764.3a2 2 0 1 0 0.01 0ZM627.4 821.8a1.6 1.6 0 1 0 0.01 0ZM603 873.4a1.6 1.6 0 1 0 0.01 0ZM601.6 870.4a1.6 1.6 0 1 0 0.01 0ZM598.7 868.8a2 2 0 1 0 0.01 0ZM677.4 882.1a2 2 0 1 0 0.01 0ZM509.7 865.7a1.6 1.6 0 1 0 0.01 0ZM509.9 868.9a1.6 1.6 0 1 0 0.01 0ZM471.7 886.2a1.6 1.6 0 1 0 0.01 0ZM488.9 886.2a1.4 1.4 0 1 0 0.01 0ZM486.5 888.6a2 2 0 1 0 0.01 0ZM440.5 725.1a1.6 1.6 0 1 0 0.01 0ZM438.8 723.2a1.4 1.4 0 1 0 0.01 0ZM436.8 720.9a1.6 1.6 0 1 0 0.01 0ZM562.9 894.4a2 2 0 1 0 0.01 0ZM560.3 895.1a1.6 1.6 0 1 0 0.01 0ZM507 708.7a1.8 1.8 0 1 0 0.01 0ZM505.1 706.4a2 2 0 1 0 0.01 0ZM610.8 780.4a2 2 0 1 0 0.01 0ZM613.3 778.1a1.6 1.6 0 1 0 0.01 0ZM614.3 775.3a1.8 1.8 0 1 0 0.01 0ZM576.7 811.1a1.8 1.8 0 1 0 0.01 0ZM625.5 826.7a2 2 0 1 0 0.01 0ZM594.5 911.4a1.4 1.4 0 1 0 0.01 0ZM671.3 909.2a1.8 1.8 0 1 0 0.01 0ZM468.1 641a1.4 1.4 0 1 0 0.01 0ZM440 737.2a1.4 1.4 0 1 0 0.01 0ZM623.4 864.1a1.6 1.6 0 1 0 0.01 0ZM625.2 866.6a1.6 1.6 0 1 0 0.01 0ZM654.2 839.4a2 2 0 1 0 0.01 0ZM551.6 893.9a2 2 0 1 0 0.01 0ZM571.7 911.9a1.6 1.6 0 1 0 0.01 0ZM571.9 908.7a1.8 1.8 0 1 0 0.01 0ZM572.7 905.8a1.4 1.4 0 1 0 0.01 0ZM479.4 731.6a2 2 0 1 0 0.01 0ZM494 750.9a2 2 0 1 0 0.01 0ZM496.9 752.1a1.8 1.8 0 1 0 0.01 0ZM496.7 755a1.8 1.8 0 1 0 0.01 0ZM434 735.3a1.4 1.4 0 1 0 0.01 0ZM436.1 733.6a1.8 1.8 0 1 0 0.01 0ZM572.7 757.4a2 2 0 1 0 0.01 0ZM441.6 788.5a1.4 1.4 0 1 0 0.01 0ZM443.6 790.4a1.4 1.4 0 1 0 0.01 0ZM637 853.7a1.6 1.6 0 1 0 0.01 0ZM640 873.3a1.8 1.8 0 1 0 0.01 0ZM642.5 873.2a2 2 0 1 0 0.01 0ZM644.3 870.8a1.6 1.6 0 1 0 0.01 0ZM684.4 913.9a2 2 0 1 0 0.01 0ZM481.4 766.8a1.6 1.6 0 1 0 0.01 0ZM480.1 764.1a1.6 1.6 0 1 0 0.01 0ZM551.1 791.1a1.8 1.8 0 1 0 0.01 0ZM633.5 875.5a1.8 1.8 0 1 0 0.01 0ZM633 878.6a1.4 1.4 0 1 0 0.01 0ZM530.2 839.5a1.6 1.6 0 1 0 0.01 0ZM531.6 837a1.8 1.8 0 1 0 0.01 0ZM534 834.9a1.8 1.8 0 1 0 0.01 0ZM545.1 741.7a1.8 1.8 0 1 0 0.01 0ZM543.3 739.6a1.8 1.8 0 1 0 0.01 0ZM453 667.7a1.6 1.6 0 1 0 0.01 0ZM453.8 670.8a2 2 0 1 0 0.01 0ZM468.4 804.5a1.8 1.8 0 1 0 0.01 0ZM471.7 804.3a1.6 1.6 0 1 0 0.01 0ZM474.8 802.9a1.4 1.4 0 1 0 0.01 0ZM458 885.1a1.8 1.8 0 1 0 0.01 0ZM457.2 882.3a1.6 1.6 0 1 0 0.01 0ZM534.1 841.5a1.4 1.4 0 1 0 0.01 0ZM428.7 814.7a1.4 1.4 0 1 0 0.01 0ZM430.9 816.9a1.6 1.6 0 1 0 0.01 0ZM433.5 707.2a1.4 1.4 0 1 0 0.01 0ZM435 705.1a1.6 1.6 0 1 0 0.01 0ZM436.4 702.1a1.8 1.8 0 1 0 0.01 0ZM522 730a1.6 1.6 0 1 0 0.01 0ZM522.9 727.3a1.4 1.4 0 1 0 0.01 0ZM523.5 724.4a1.8 1.8 0 1 0 0.01 0ZM565.7 911a2 2 0 1 0 0.01 0ZM655.8 866.4a1.6 1.6 0 1 0 0.01 0ZM658 867.5a1.8 1.8 0 1 0 0.01 0ZM704.1 877.4a1.6 1.6 0 1 0 0.01 0ZM559.1 890.1a1.6 1.6 0 1 0 0.01 0ZM456.2 696.4a2 2 0 1 0 0.01 0ZM458 698.8a1.8 1.8 0 1 0 0.01 0ZM456.7 809.2a1.6 1.6 0 1 0 0.01 0ZM453.6 807.7a1.8 1.8 0 1 0 0.01 0ZM481.7 770.7a1.6 1.6 0 1 0 0.01 0ZM471.4 889.4a2 2 0 1 0 0.01 0ZM474.6 888.4a2 2 0 1 0 0.01 0ZM477.6 888.7a2 2 0 1 0 0.01 0ZM442.6 660.7a1.6 1.6 0 1 0 0.01 0ZM620 874.9a1.6 1.6 0 1 0 0.01 0ZM455.8 691.3a1.6 1.6 0 1 0 0.01 0ZM440.4 895.1a1.4 1.4 0 1 0 0.01 0ZM694.1 899.5a1.6 1.6 0 1 0 0.01 0ZM483.3 883.8a1.6 1.6 0 1 0 0.01 0ZM443.8 799.2a1.8 1.8 0 1 0 0.01 0ZM483.7 903.2a1.8 1.8 0 1 0 0.01 0ZM485.1 900.8a1.4 1.4 0 1 0 0.01 0ZM449.8 891.9a1.6 1.6 0 1 0 0.01 0ZM446.6 893.1a2 2 0 1 0 0.01 0ZM481.4 901.6a1.6 1.6 0 1 0 0.01 0ZM526.6 756.3a1.8 1.8 0 1 0 0.01 0ZM525.8 753.6a2 2 0 1 0 0.01 0ZM544.2 768.6a1.6 1.6 0 1 0 0.01 0ZM505.2 802.8a1.6 1.6 0 1 0 0.01 0ZM505.8 805.9a1.8 1.8 0 1 0 0.01 0ZM588 792.3a1.6 1.6 0 1 0 0.01 0ZM589 789.3a2 2 0 1 0 0.01 0ZM591.7 788.2a2 2 0 1 0 0.01 0ZM545.6 763.9a2 2 0 1 0 0.01 0ZM477.3 784.9a1.6 1.6 0 1 0 0.01 0ZM433.5 843.4a2 2 0 1 0 0.01 0ZM436.9 843.3a1.8 1.8 0 1 0 0.01 0ZM664.5 909.1a1.6 1.6 0 1 0 0.01 0ZM594.4 883.5a1.4 1.4 0 1 0 0.01 0ZM495.2 877.5a1.6 1.6 0 1 0 0.01 0ZM495.3 880.2a1.4 1.4 0 1 0 0.01 0ZM428.9 676.4a2 2 0 1 0 0.01 0ZM554.2 741.6a2 2 0 1 0 0.01 0ZM554.1 738.4a2 2 0 1 0 0.01 0ZM487.3 900.5a1.4 1.4 0 1 0 0.01 0ZM686.2 908.3a2 2 0 1 0 0.01 0ZM512.5 826.5a1.6 1.6 0 1 0 0.01 0ZM515.4 826.3a1.8 1.8 0 1 0 0.01 0ZM516.4 823.5a1.8 1.8 0 1 0 0.01 0ZM435.3 698a1.6 1.6 0 1 0 0.01 0ZM432.4 697.1a1.4 1.4 0 1 0 0.01 0ZM655.8 889.3a2 2 0 1 0 0.01 0ZM656.7 892.5a1.4 1.4 0 1 0 0.01 0ZM658.7 894a2 2 0 1 0 0.01 0ZM616.1 863.4a1.8 1.8 0 1 0 0.01 0ZM614 861a2 2 0 1 0 0.01 0ZM468.4 727a1.6 1.6 0 1 0 0.01 0ZM467.3 729.6a1.6 1.6 0 1 0 0.01 0ZM493.4 779.7a2 2 0 1 0 0.01 0ZM495.4 782.3a2 2 0 1 0 0.01 0ZM512.7 827.5a1.8 1.8 0 1 0 0.01 0ZM427.3 653.5a1.4 1.4 0 1 0 0.01 0ZM443.5 696.2a1.6 1.6 0 1 0 0.01 0ZM441.4 698.7a1.4 1.4 0 1 0 0.01 0ZM455.8 738.8a1.8 1.8 0 1 0 0.01 0ZM455.8 736a2 2 0 1 0 0.01 0ZM520.2 776.5a1.4 1.4 0 1 0 0.01 0ZM516.8 776.8a1.8 1.8 0 1 0 0.01 0ZM514.8 778.6a1.8 1.8 0 1 0 0.01 0ZM546.1 881.9a1.6 1.6 0 1 0 0.01 0ZM499.6 857.8a1.6 1.6 0 1 0 0.01 0ZM502.9 857.7a1.4 1.4 0 1 0 0.01 0ZM474.6 686.8a2 2 0 1 0 0.01 0ZM478 685.2a1.4 1.4 0 1 0 0.01 0ZM477.9 804.7a1.4 1.4 0 1 0 0.01 0ZM479.1 801.9a2 2 0 1 0 0.01 0ZM534.6 821.4a1.8 1.8 0 1 0 0.01 0ZM537.2 820.3a2 2 0 1 0 0.01 0ZM538.8 817.2a1.8 1.8 0 1 0 0.01 0ZM645 827.2a1.8 1.8 0 1 0 0.01 0ZM522.1 792.2a1.6 1.6 0 1 0 0.01 0ZM468.6 827.8a1.8 1.8 0 1 0 0.01 0ZM447 670.4a1.6 1.6 0 1 0 0.01 0ZM490.5 684.9a2 2 0 1 0 0.01 0ZM508.6 905.8a1.4 1.4 0 1 0 0.01 0ZM635.7 856.4a1.6 1.6 0 1 0 0.01 0ZM633.1 854.7a2 2 0 1 0 0.01 0ZM630.6 854.4a1.6 1.6 0 1 0 0.01 0ZM509.1 817.3a1.8 1.8 0 1 0 0.01 0ZM498.5 836a1.8 1.8 0 1 0 0.01 0ZM495.4 837.5a2 2 0 1 0 0.01 0ZM493.1 839.1a1.8 1.8 0 1 0 0.01 0ZM625.3 824.5a2 2 0 1 0 0.01 0ZM522.4 831.1a1.6 1.6 0 1 0 0.01 0ZM524.3 829.7a2 2 0 1 0 0.01 0ZM427.9 755.1a1.4 1.4 0 1 0 0.01 0ZM424.7 755.7a1.4 1.4 0 1 0 0.01 0ZM514.1 758.4a1.4 1.4 0 1 0 0.01 0ZM516.5 758.2a2 2 0 1 0 0.01 0ZM549.1 864.6a1.8 1.8 0 1 0 0.01 0ZM546.9 862.5a1.8 1.8 0 1 0 0.01 0ZM544.2 863.7a1.8 1.8 0 1 0 0.01 0ZM571.9 769.3a2 2 0 1 0 0.01 0ZM551.7 762.4a2 2 0 1 0 0.01 0ZM505.4 890.4a1.6 1.6 0 1 0 0.01 0ZM507.1 887.9a1.4 1.4 0 1 0 0.01 0ZM585.5 892.9a1.4 1.4 0 1 0 0.01 0ZM583 895.3a1.6 1.6 0 1 0 0.01 0ZM518.5 876.9a1.6 1.6 0 1 0 0.01 0ZM519.6 787.7a2 2 0 1 0 0.01 0ZM557.1 867a1.4 1.4 0 1 0 0.01 0ZM438.3 644.6a1.4 1.4 0 1 0 0.01 0ZM536.5 893.6a1.4 1.4 0 1 0 0.01 0ZM537.8 891.1a1.6 1.6 0 1 0 0.01 0ZM458.6 880.3a1.6 1.6 0 1 0 0.01 0ZM553.8 767.7a1.6 1.6 0 1 0 0.01 0ZM627.2 817.8a1.8 1.8 0 1 0 0.01 0ZM626.2 815a1.6 1.6 0 1 0 0.01 0ZM623 814.1a1.6 1.6 0 1 0 0.01 0ZM655.7 843a1.8 1.8 0 1 0 0.01 0ZM484.2 894.3a2 2 0 1 0 0.01 0ZM621.7 876.1a1.4 1.4 0 1 0 0.01 0ZM618.8 877a1.6 1.6 0 1 0 0.01 0ZM526.4 746.8a1.6 1.6 0 1 0 0.01 0ZM553 743.9a2 2 0 1 0 0.01 0ZM555.8 738.7a1.4 1.4 0 1 0 0.01 0ZM557.4 741.3a1.6 1.6 0 1 0 0.01 0ZM673.3 904a1.4 1.4 0 1 0 0.01 0ZM447.7 727.9a1.6 1.6 0 1 0 0.01 0ZM562.8 888a1.6 1.6 0 1 0 0.01 0ZM561.3 890.2a1.4 1.4 0 1 0 0.01 0ZM429.9 868.1a1.6 1.6 0 1 0 0.01 0ZM428 870.3a2 2 0 1 0 0.01 0ZM613.1 912.6a2 2 0 1 0 0.01 0ZM646.8 841.1a2 2 0 1 0 0.01 0ZM646.1 838.4a2 2 0 1 0 0.01 0ZM433.8 760.9a1.4 1.4 0 1 0 0.01 0ZM432.1 763.2a1.8 1.8 0 1 0 0.01 0ZM492.9 847.3a2 2 0 1 0 0.01 0ZM495.8 846a1.4 1.4 0 1 0 0.01 0ZM449.9 654.1a1.8 1.8 0 1 0 0.01 0ZM450.2 651.4a1.8 1.8 0 1 0 0.01 0ZM435.2 757a2 2 0 1 0 0.01 0ZM558.4 827.4a1.6 1.6 0 1 0 0.01 0ZM540 780a1.8 1.8 0 1 0 0.01 0ZM426.1 743.9a1.8 1.8 0 1 0 0.01 0ZM425.5 741.3a1.6 1.6 0 1 0 0.01 0ZM527 841.3a2 2 0 1 0 0.01 0ZM528.7 844.4a1.4 1.4 0 1 0 0.01 0ZM611.5 806.4a1.6 1.6 0 1 0 0.01 0ZM612.3 808.9a1.6 1.6 0 1 0 0.01 0ZM649.8 853.9a1.6 1.6 0 1 0 0.01 0ZM647.3 852.4a1.6 1.6 0 1 0 0.01 0ZM515.6 712.6a1.6 1.6 0 1 0 0.01 0ZM450.9 684.5a2 2 0 1 0 0.01 0ZM448.7 683.2a1.8 1.8 0 1 0 0.01 0ZM551.3 883.6a1.8 1.8 0 1 0 0.01 0ZM532 803.5a1.6 1.6 0 1 0 0.01 0ZM531.8 766.3a2 2 0 1 0 0.01 0ZM533.2 769.4a1.6 1.6 0 1 0 0.01 0ZM534.2 772.1a1.6 1.6 0 1 0 0.01 0ZM439.3 811.9a2 2 0 1 0 0.01 0ZM434.8 691.4a1.6 1.6 0 1 0 0.01 0ZM565.8 848.9a1.8 1.8 0 1 0 0.01 0ZM573.2 906.1a1.6 1.6 0 1 0 0.01 0ZM575.2 904.4a1.6 1.6 0 1 0 0.01 0ZM574.7 901.2a1.8 1.8 0 1 0 0.01 0ZM453.3 773.6a2 2 0 1 0 0.01 0ZM503.5 712.5a1.6 1.6 0 1 0 0.01 0ZM504.5 710.2a1.8 1.8 0 1 0 0.01 0ZM714.9 898.6a1.4 1.4 0 1 0 0.01 0ZM716.2 900.4a2 2 0 1 0 0.01 0ZM718.9 902.2a1.8 1.8 0 1 0 0.01 0ZM434.7 649.1a1.6 1.6 0 1 0 0.01 0ZM612.8 814.8a2 2 0 1 0 0.01 0ZM553 821.8a1.4 1.4 0 1 0 0.01 0ZM556.1 821.7a1.4 1.4 0 1 0 0.01 0ZM447.9 642.5a1.6 1.6 0 1 0 0.01 0ZM427.6 708.2a1.4 1.4 0 1 0 0.01 0ZM641.4 840.6a1.6 1.6 0 1 0 0.01 0ZM561.5 751.8a1.6 1.6 0 1 0 0.01 0ZM457.7 671.7a1.8 1.8 0 1 0 0.01 0ZM577 780.2a1.8 1.8 0 1 0 0.01 0ZM575.5 777.5a2 2 0 1 0 0.01 0ZM574.9 774.8a2 2 0 1 0 0.01 0ZM494 767a2 2 0 1 0 0.01 0ZM493.8 769.7a1.4 1.4 0 1 0 0.01 0ZM456.4 759.7a1.8 1.8 0 1 0 0.01 0ZM635.5 875a1.4 1.4 0 1 0 0.01 0ZM632.6 875.4a1.6 1.6 0 1 0 0.01 0ZM629 876.2a2 2 0 1 0 0.01 0ZM477.9 855.8a2 2 0 1 0 0.01 0ZM596.6 849.8a1.4 1.4 0 1 0 0.01 0ZM598.9 851.4a1.4 1.4 0 1 0 0.01 0ZM487.6 882.2a1.6 1.6 0 1 0 0.01 0ZM441.6 875.6a2 2 0 1 0 0.01 0ZM572.5 866.6a1.6 1.6 0 1 0 0.01 0ZM575.3 866.6a1.6 1.6 0 1 0 0.01 0ZM498.8 787.5a1.6 1.6 0 1 0 0.01 0ZM486.2 794.3a1.6 1.6 0 1 0 0.01 0ZM484.6 797a1.6 1.6 0 1 0 0.01 0ZM543.3 753.3a1.8 1.8 0 1 0 0.01 0ZM542.3 756.1a1.8 1.8 0 1 0 0.01 0ZM615.2 910.3a2 2 0 1 0 0.01 0ZM617.9 913a1.4 1.4 0 1 0 0.01 0ZM497.2 696.7a1.4 1.4 0 1 0 0.01 0ZM436 657.6a1.4 1.4 0 1 0 0.01 0ZM452.4 668.3a1.8 1.8 0 1 0 0.01 0ZM450.2 667.2a1.4 1.4 0 1 0 0.01 0ZM447.5 724.6a2 2 0 1 0 0.01 0ZM449.8 726.6a1.6 1.6 0 1 0 0.01 0ZM595.6 882.8a1.6 1.6 0 1 0 0.01 0ZM597.7 885a1.6 1.6 0 1 0 0.01 0ZM435 862.9a1.6 1.6 0 1 0 0.01 0ZM477.5 700.7a1.6 1.6 0 1 0 0.01 0ZM480.1 702.1a1.6 1.6 0 1 0 0.01 0ZM482.4 703.7a1.6 1.6 0 1 0 0.01 0ZM537.7 776.8a1.8 1.8 0 1 0 0.01 0ZM536.1 778.9a1.8 1.8 0 1 0 0.01 0ZM610.9 874.3a1.4 1.4 0 1 0 0.01 0ZM612.4 876.3a2 2 0 1 0 0.01 0ZM476.2 895.6a1.8 1.8 0 1 0 0.01 0ZM475.8 892.9a1.8 1.8 0 1 0 0.01 0ZM519 765.1a1.4 1.4 0 1 0 0.01 0ZM518.2 768.2a2 2 0 1 0 0.01 0ZM517 770.8a1.8 1.8 0 1 0 0.01 0ZM443.5 874.4a1.6 1.6 0 1 0 0.01 0ZM445.5 876.7a1.4 1.4 0 1 0 0.01 0ZM445.1 879.7a1.6 1.6 0 1 0 0.01 0ZM449 890.3a2 2 0 1 0 0.01 0ZM630.2 893.6a1.6 1.6 0 1 0 0.01 0ZM535.2 878.1a2 2 0 1 0 0.01 0ZM491.6 704.3a2 2 0 1 0 0.01 0ZM493.7 702.7a2 2 0 1 0 0.01 0ZM557.8 780.3a1.4 1.4 0 1 0 0.01 0ZM554.6 778.2a2 2 0 1 0 0.01 0ZM553.1 776a1.4 1.4 0 1 0 0.01 0ZM500.3 744.9a2 2 0 1 0 0.01 0ZM636.1 774a1.6 1.6 0 1 0 0.01 0ZM635.9 771.3a1.4 1.4 0 1 0 0.01 0ZM634.9 768.6a1.4 1.4 0 1 0 0.01 0ZM512.4 833.3a1.6 1.6 0 1 0 0.01 0ZM510 831.3a1.8 1.8 0 1 0 0.01 0ZM507.7 830a1.8 1.8 0 1 0 0.01 0ZM686.1 869.9a1.6 1.6 0 1 0 0.01 0ZM686.9 866.8a1.4 1.4 0 1 0 0.01 0ZM647.7 898.3a1.8 1.8 0 1 0 0.01 0ZM676.5 871.8a1.8 1.8 0 1 0 0.01 0ZM676.4 868.5a1.4 1.4 0 1 0 0.01 0ZM521.6 771.8a1.8 1.8 0 1 0 0.01 0ZM444.1 778.2a1.8 1.8 0 1 0 0.01 0ZM446.6 780.1a1.8 1.8 0 1 0 0.01 0ZM449.6 781.6a1.8 1.8 0 1 0 0.01 0ZM440.2 777a1.4 1.4 0 1 0 0.01 0ZM438.7 774.3a1.8 1.8 0 1 0 0.01 0ZM660.6 905.7a1.8 1.8 0 1 0 0.01 0ZM659.5 903a2 2 0 1 0 0.01 0ZM659.8 899.7a2 2 0 1 0 0.01 0ZM661.4 861.7a2 2 0 1 0 0.01 0ZM480.2 817.1a1.6 1.6 0 1 0 0.01 0ZM477.1 818.1a1.6 1.6 0 1 0 0.01 0ZM474 817.4a1.4 1.4 0 1 0 0.01 0ZM428.2 739.9a1.4 1.4 0 1 0 0.01 0ZM445.1 820.9a1.4 1.4 0 1 0 0.01 0ZM470.7 730.9a2 2 0 1 0 0.01 0ZM470.9 733.6a1.4 1.4 0 1 0 0.01 0ZM468.9 735.9a2 2 0 1 0 0.01 0ZM460.5 795.5a2 2 0 1 0 0.01 0ZM458.1 796.7a2 2 0 1 0 0.01 0ZM602.4 883.4a1.6 1.6 0 1 0 0.01 0ZM493 744.3a2 2 0 1 0 0.01 0ZM490.3 744.7a1.6 1.6 0 1 0 0.01 0ZM513.9 753.8a2 2 0 1 0 0.01 0ZM514.1 756.4a1.4 1.4 0 1 0 0.01 0ZM513.4 759.1a1.6 1.6 0 1 0 0.01 0ZM546.5 902.7a1.6 1.6 0 1 0 0.01 0ZM497.1 705.8a1.8 1.8 0 1 0 0.01 0ZM499.7 703.5a1.4 1.4 0 1 0 0.01 0ZM528.9 865.3a2 2 0 1 0 0.01 0ZM516 689.3a1.8 1.8 0 1 0 0.01 0ZM514 690.8a1.4 1.4 0 1 0 0.01 0ZM555.1 849a1.4 1.4 0 1 0 0.01 0ZM552.2 848.5a1.4 1.4 0 1 0 0.01 0ZM426.4 635.6a1.6 1.6 0 1 0 0.01 0ZM627.9 794.1a2 2 0 1 0 0.01 0ZM631.4 795.3a1.6 1.6 0 1 0 0.01 0ZM631.8 798.5a1.4 1.4 0 1 0 0.01 0ZM490.5 707a1.4 1.4 0 1 0 0.01 0ZM572.7 861.1a1.4 1.4 0 1 0 0.01 0ZM546.4 836.3a1.6 1.6 0 1 0 0.01 0ZM548.2 833.8a2 2 0 1 0 0.01 0ZM550.4 832a2 2 0 1 0 0.01 0ZM437.2 827.8a1.4 1.4 0 1 0 0.01 0ZM434.2 826.2a1.6 1.6 0 1 0 0.01 0ZM432.2 824.1a1.6 1.6 0 1 0 0.01 0ZM501.7 763.9a1.6 1.6 0 1 0 0.01 0ZM613.9 787.2a1.4 1.4 0 1 0 0.01 0ZM610.7 788.1a1.6 1.6 0 1 0 0.01 0ZM531.9 859.3a1.8 1.8 0 1 0 0.01 0ZM535 860.8a1.6 1.6 0 1 0 0.01 0ZM673.6 834.4a1.6 1.6 0 1 0 0.01 0ZM670.6 834.3a1.6 1.6 0 1 0 0.01 0ZM463.3 897.4a1.4 1.4 0 1 0 0.01 0ZM461.2 899.4a1.6 1.6 0 1 0 0.01 0ZM427.4 865a1.4 1.4 0 1 0 0.01 0ZM482.5 871.9a1.6 1.6 0 1 0 0.01 0ZM483.3 874.7a2 2 0 1 0 0.01 0ZM452.3 852.4a1.8 1.8 0 1 0 0.01 0ZM465 847.2a1.6 1.6 0 1 0 0.01 0ZM465 843.9a1.6 1.6 0 1 0 0.01 0ZM463.6 841.7a1.4 1.4 0 1 0 0.01 0ZM518.4 810.7a1.4 1.4 0 1 0 0.01 0ZM592 792.2a1.8 1.8 0 1 0 0.01 0ZM549.6 773.4a1.4 1.4 0 1 0 0.01 0ZM550.9 776.2a1.6 1.6 0 1 0 0.01 0ZM553.8 776.9a1.6 1.6 0 1 0 0.01 0ZM502.7 699.9a1.8 1.8 0 1 0 0.01 0ZM505.5 697.7a1.4 1.4 0 1 0 0.01 0ZM430 751.8a1.8 1.8 0 1 0 0.01 0ZM429.2 749.1a1.4 1.4 0 1 0 0.01 0ZM505.7 711.2a1.4 1.4 0 1 0 0.01 0ZM506.4 713.6a1.8 1.8 0 1 0 0.01 0ZM518.4 835.7a1.4 1.4 0 1 0 0.01 0ZM514.7 836.3a1.8 1.8 0 1 0 0.01 0ZM461.8 780.8a1.4 1.4 0 1 0 0.01 0ZM459.5 778.5a1.6 1.6 0 1 0 0.01 0ZM505.1 882.3a1.6 1.6 0 1 0 0.01 0ZM456.9 671.8a1.8 1.8 0 1 0 0.01 0ZM471.6 876.4a1.6 1.6 0 1 0 0.01 0ZM469.6 878.2a1.4 1.4 0 1 0 0.01 0ZM575.3 794.7a1.4 1.4 0 1 0 0.01 0ZM607.5 888.7a1.4 1.4 0 1 0 0.01 0ZM610.2 888.6a1.8 1.8 0 1 0 0.01 0ZM703.7 891.1a2 2 0 1 0 0.01 0ZM707 890.7a1.4 1.4 0 1 0 0.01 0ZM712.4 880.7a1.8 1.8 0 1 0 0.01 0ZM714.4 883.2a1.6 1.6 0 1 0 0.01 0ZM539.2 906.4a1.4 1.4 0 1 0 0.01 0ZM574.8 752.9a1.8 1.8 0 1 0 0.01 0ZM574.4 755.7a1.4 1.4 0 1 0 0.01 0ZM576.1 757.8a1.4 1.4 0 1 0 0.01 0ZM521.8 715.8a2 2 0 1 0 0.01 0ZM524.5 715.2a2 2 0 1 0 0.01 0ZM526.1 712.7a1.6 1.6 0 1 0 0.01 0ZM652.9 819.6a1.6 1.6 0 1 0 0.01 0ZM660.5 883.2a1.4 1.4 0 1 0 0.01 0ZM661.6 881.1a2 2 0 1 0 0.01 0ZM456.8 675.6a1.4 1.4 0 1 0 0.01 0ZM459.3 674.9a2 2 0 1 0 0.01 0ZM462.8 674.7a1.4 1.4 0 1 0 0.01 0ZM591.6 870.5a2 2 0 1 0 0.01 0ZM564.2 826.6a1.8 1.8 0 1 0 0.01 0ZM498.8 764.1a2 2 0 1 0 0.01 0ZM501.9 763.5a1.8 1.8 0 1 0 0.01 0ZM512.9 816.3a1.4 1.4 0 1 0 0.01 0ZM429.8 879.1a2 2 0 1 0 0.01 0ZM449 748.7a1.8 1.8 0 1 0 0.01 0ZM427.3 715.4a2 2 0 1 0 0.01 0ZM428.2 775.6a1.6 1.6 0 1 0 0.01 0ZM557.7 864.3a1.8 1.8 0 1 0 0.01 0ZM561.2 864.4a1.6 1.6 0 1 0 0.01 0ZM710.7 906.9a2 2 0 1 0 0.01 0ZM441.7 778.6a1.4 1.4 0 1 0 0.01 0ZM438.4 779a1.8 1.8 0 1 0 0.01 0ZM635.6 883a1.6 1.6 0 1 0 0.01 0ZM634.1 885.4a2 2 0 1 0 0.01 0ZM631.8 885.7a1.4 1.4 0 1 0 0.01 0ZM658.4 863.9a2 2 0 1 0 0.01 0ZM661 862.5a1.8 1.8 0 1 0 0.01 0ZM664 862.5a1.8 1.8 0 1 0 0.01 0ZM511.1 718.9a1.8 1.8 0 1 0 0.01 0ZM513.6 719.9a1.8 1.8 0 1 0 0.01 0ZM563.3 811.2a2 2 0 1 0 0.01 0ZM649.3 865.6a1.8 1.8 0 1 0 0.01 0ZM569.2 775a1.8 1.8 0 1 0 0.01 0ZM571.8 773.4a1.4 1.4 0 1 0 0.01 0ZM489.1 813.4a1.8 1.8 0 1 0 0.01 0ZM453.9 717.7a1.4 1.4 0 1 0 0.01 0ZM531.5 692.1a1.6 1.6 0 1 0 0.01 0ZM549.8 794.4a1.8 1.8 0 1 0 0.01 0ZM552.8 793.3a1.4 1.4 0 1 0 0.01 0ZM479.1 828.8a1.4 1.4 0 1 0 0.01 0ZM477.2 831.3a1.4 1.4 0 1 0 0.01 0ZM562.5 875.6a1.6 1.6 0 1 0 0.01 0ZM564.5 874.5a2 2 0 1 0 0.01 0ZM567.6 875.8a1.8 1.8 0 1 0 0.01 0ZM438.2 749.6a1.6 1.6 0 1 0 0.01 0ZM441.3 750a1.4 1.4 0 1 0 0.01 0ZM443.7 750.7a2 2 0 1 0 0.01 0ZM588.3 808.4a1.6 1.6 0 1 0 0.01 0ZM586.5 810.6a1.4 1.4 0 1 0 0.01 0ZM583.5 811a1.4 1.4 0 1 0 0.01 0ZM679.3 824a1.8 1.8 0 1 0 0.01 0ZM680.8 826.1a2 2 0 1 0 0.01 0ZM543.1 767.4a1.6 1.6 0 1 0 0.01 0ZM477 896a1.4 1.4 0 1 0 0.01 0ZM478.6 898.3a2 2 0 1 0 0.01 0ZM489.1 786.8a2 2 0 1 0 0.01 0ZM674.7 853.3a1.8 1.8 0 1 0 0.01 0ZM570.6 873.9a1.4 1.4 0 1 0 0.01 0ZM568.8 871.2a1.8 1.8 0 1 0 0.01 0ZM566 870.7a2 2 0 1 0 0.01 0ZM534.5 721.6a1.4 1.4 0 1 0 0.01 0ZM536.3 719.7a1.6 1.6 0 1 0 0.01 0ZM684.7 897.9a1.6 1.6 0 1 0 0.01 0ZM686.9 896.3a1.8 1.8 0 1 0 0.01 0ZM552.9 737.8a2 2 0 1 0 0.01 0ZM446.4 756.9a1.6 1.6 0 1 0 0.01 0ZM445.7 754a1.6 1.6 0 1 0 0.01 0ZM446.6 825.2a2 2 0 1 0 0.01 0ZM446.4 828.4a1.4 1.4 0 1 0 0.01 0ZM435.6 878.9a1.4 1.4 0 1 0 0.01 0ZM435.7 876.3a2 2 0 1 0 0.01 0ZM679.7 911.7a1.4 1.4 0 1 0 0.01 0ZM681.4 913.8a1.4 1.4 0 1 0 0.01 0ZM487 732.1a2 2 0 1 0 0.01 0ZM474.1 819.5a2 2 0 1 0 0.01 0ZM474.6 822.3a1.4 1.4 0 1 0 0.01 0ZM669.6 842.2a2 2 0 1 0 0.01 0ZM667.3 844.3a1.6 1.6 0 1 0 0.01 0ZM625.7 865.6a2 2 0 1 0 0.01 0ZM624 867.7a1.6 1.6 0 1 0 0.01 0ZM462.8 839.2a1.4 1.4 0 1 0 0.01 0ZM466 838a1.4 1.4 0 1 0 0.01 0ZM468.3 837.3a2 2 0 1 0 0.01 0ZM580.5 839.3a1.6 1.6 0 1 0 0.01 0ZM581.7 836.5a1.6 1.6 0 1 0 0.01 0ZM582.8 833.5a1.6 1.6 0 1 0 0.01 0ZM546.5 862.3a2 2 0 1 0 0.01 0ZM544.5 864.9a2 2 0 1 0 0.01 0ZM586.3 902.3a1.4 1.4 0 1 0 0.01 0ZM434.8 690.7a1.8 1.8 0 1 0 0.01 0ZM435.9 693.9a1.6 1.6 0 1 0 0.01 0ZM602.1 854.7a1.6 1.6 0 1 0 0.01 0ZM599 855.4a1.6 1.6 0 1 0 0.01 0ZM575.5 883.1a1.8 1.8 0 1 0 0.01 0ZM565.5 853.5a1.8 1.8 0 1 0 0.01 0ZM444.2 821.6a1.8 1.8 0 1 0 0.01 0ZM570.5 904.3a1.4 1.4 0 1 0 0.01 0ZM512.4 838.6a1.8 1.8 0 1 0 0.01 0ZM565.5 753.9a1.6 1.6 0 1 0 0.01 0ZM564 751.1a1.8 1.8 0 1 0 0.01 0ZM562.6 748.6a2 2 0 1 0 0.01 0ZM456 766.8a1.8 1.8 0 1 0 0.01 0ZM452.8 767.3a2 2 0 1 0 0.01 0ZM635.6 871.9a1.8 1.8 0 1 0 0.01 0ZM692.6 854.4a2 2 0 1 0 0.01 0ZM583.7 900.3a1.8 1.8 0 1 0 0.01 0ZM586.7 898.8a1.6 1.6 0 1 0 0.01 0ZM555.7 905.7a1.4 1.4 0 1 0 0.01 0ZM661.6 852.8a2 2 0 1 0 0.01 0ZM454.1 860.8a1.6 1.6 0 1 0 0.01 0ZM672.9 884.9a1.4 1.4 0 1 0 0.01 0ZM674.6 882.5a1.8 1.8 0 1 0 0.01 0ZM674.6 879.2a2 2 0 1 0 0.01 0ZM494.8 753.3a1.4 1.4 0 1 0 0.01 0ZM647.4 851.8a1.4 1.4 0 1 0 0.01 0ZM477.2 912a1.4 1.4 0 1 0 0.01 0ZM473.9 911.9a1.8 1.8 0 1 0 0.01 0ZM471.3 910.7a2 2 0 1 0 0.01 0ZM461.6 857a1.8 1.8 0 1 0 0.01 0ZM463.2 853.9a1.4 1.4 0 1 0 0.01 0ZM464.1 851.5a1.6 1.6 0 1 0 0.01 0ZM693.5 873.1a1.8 1.8 0 1 0 0.01 0ZM487.1 911.2a2 2 0 1 0 0.01 0ZM631.7 875.4a2 2 0 1 0 0.01 0ZM633.3 878.2a1.8 1.8 0 1 0 0.01 0ZM549.2 851.5a2 2 0 1 0 0.01 0ZM550.7 854.3a1.6 1.6 0 1 0 0.01 0ZM552.7 857.1a1.6 1.6 0 1 0 0.01 0ZM574.5 786.7a2 2 0 1 0 0.01 0ZM575.9 789.6a1.4 1.4 0 1 0 0.01 0ZM499.9 703.6a1.8 1.8 0 1 0 0.01 0ZM515.7 771.8a1.6 1.6 0 1 0 0.01 0ZM518.1 772.3a2 2 0 1 0 0.01 0ZM539.5 761.8a1.8 1.8 0 1 0 0.01 0ZM517.4 888.6a1.6 1.6 0 1 0 0.01 0ZM514.5 887.5a1.6 1.6 0 1 0 0.01 0ZM511.2 888.3a1.8 1.8 0 1 0 0.01 0ZM485.2 827.6a1.6 1.6 0 1 0 0.01 0ZM507.6 737.4a1.4 1.4 0 1 0 0.01 0ZM507.4 740.2a1.6 1.6 0 1 0 0.01 0ZM509.6 742.2a1.4 1.4 0 1 0 0.01 0ZM486.3 869.4a1.4 1.4 0 1 0 0.01 0ZM435 637.5a1.6 1.6 0 1 0 0.01 0ZM434.1 634.6a1.4 1.4 0 1 0 0.01 0ZM434.2 750.7a1.4 1.4 0 1 0 0.01 0ZM614.2 820.9a1.8 1.8 0 1 0 0.01 0ZM547.2 909a2 2 0 1 0 0.01 0ZM546.2 906.4a2 2 0 1 0 0.01 0ZM544.7 904a2 2 0 1 0 0.01 0ZM477.2 867.5a1.6 1.6 0 1 0 0.01 0ZM655.2 844.2a2 2 0 1 0 0.01 0ZM652.6 845.2a2 2 0 1 0 0.01 0ZM548.3 812.7a1.4 1.4 0 1 0 0.01 0ZM585.5 769.3a2 2 0 1 0 0.01 0ZM537.1 833.6a1.4 1.4 0 1 0 0.01 0ZM512.5 769a1.4 1.4 0 1 0 0.01 0ZM514.5 770.9a1.4 1.4 0 1 0 0.01 0ZM437 662.5a1.4 1.4 0 1 0 0.01 0ZM553 769.2a2 2 0 1 0 0.01 0ZM556 767.5a1.4 1.4 0 1 0 0.01 0ZM648.7 857.2a1.4 1.4 0 1 0 0.01 0ZM650.8 858.7a1.6 1.6 0 1 0 0.01 0ZM653.1 857.2a1.6 1.6 0 1 0 0.01 0ZM457.8 877.4a1.8 1.8 0 1 0 0.01 0ZM674.7 896.8a1.4 1.4 0 1 0 0.01 0ZM672.7 894a1.8 1.8 0 1 0 0.01 0ZM447 768.1a2 2 0 1 0 0.01 0ZM444.9 769.9a1.6 1.6 0 1 0 0.01 0ZM474.1 884a2 2 0 1 0 0.01 0ZM548.4 774.1a1.6 1.6 0 1 0 0.01 0ZM546.4 776.3a1.6 1.6 0 1 0 0.01 0ZM523 839.4a1.4 1.4 0 1 0 0.01 0ZM520.7 837.3a2 2 0 1 0 0.01 0ZM700.1 893.5a2 2 0 1 0 0.01 0ZM703.1 895.1a1.8 1.8 0 1 0 0.01 0ZM705.9 894.7a1.8 1.8 0 1 0 0.01 0ZM527.7 768.2a1.8 1.8 0 1 0 0.01 0ZM491.4 705.7a1.4 1.4 0 1 0 0.01 0ZM613 791.2a2 2 0 1 0 0.01 0ZM613.3 794.3a1.8 1.8 0 1 0 0.01 0ZM613.7 797.1a1.4 1.4 0 1 0 0.01 0ZM659.5 847.5a1.8 1.8 0 1 0 0.01 0ZM515.3 868.2a1.6 1.6 0 1 0 0.01 0ZM459 681.9a1.6 1.6 0 1 0 0.01 0ZM457.6 679.3a2 2 0 1 0 0.01 0ZM454.9 679.2a2 2 0 1 0 0.01 0ZM479.8 800.5a1.6 1.6 0 1 0 0.01 0ZM482.7 799.7a1.4 1.4 0 1 0 0.01 0ZM464.5 837.1a1.4 1.4 0 1 0 0.01 0ZM466.7 838.9a2 2 0 1 0 0.01 0ZM699.4 894.5a1.6 1.6 0 1 0 0.01 0ZM700.4 891.6a1.6 1.6 0 1 0 0.01 0ZM698.7 888.9a1.8 1.8 0 1 0 0.01 0ZM500.7 876.9a2 2 0 1 0 0.01 0ZM498.3 875.3a1.6 1.6 0 1 0 0.01 0ZM425 818a1.4 1.4 0 1 0 0.01 0ZM650.5 866.9a1.6 1.6 0 1 0 0.01 0ZM535.9 769.8a1.4 1.4 0 1 0 0.01 0ZM534.1 772.3a1.4 1.4 0 1 0 0.01 0ZM427.4 646.8a1.8 1.8 0 1 0 0.01 0ZM433.1 903.4a1.8 1.8 0 1 0 0.01 0ZM614.4 896.8a2 2 0 1 0 0.01 0ZM612.5 894.3a1.8 1.8 0 1 0 0.01 0ZM609.6 893.3a2 2 0 1 0 0.01 0ZM512 819.1a2 2 0 1 0 0.01 0ZM468.1 896.6a1.4 1.4 0 1 0 0.01 0ZM443.2 818.9a1.6 1.6 0 1 0 0.01 0ZM444.7 821.1a1.8 1.8 0 1 0 0.01 0ZM445.4 824a1.8 1.8 0 1 0 0.01 0ZM558.4 760.3a2 2 0 1 0 0.01 0ZM438.5 690.3a1.8 1.8 0 1 0 0.01 0ZM440.7 692.1a1.6 1.6 0 1 0 0.01 0ZM507.8 814.7a1.4 1.4 0 1 0 0.01 0ZM462.8 740a1.4 1.4 0 1 0 0.01 0ZM462.1 795a1.6 1.6 0 1 0 0.01 0ZM454.5 699.5a1.8 1.8 0 1 0 0.01 0ZM521.1 857.1a1.6 1.6 0 1 0 0.01 0ZM520.7 860.2a2 2 0 1 0 0.01 0ZM467.1 865.6a2 2 0 1 0 0.01 0ZM534.2 862.6a2 2 0 1 0 0.01 0ZM515.2 846.3a1.8 1.8 0 1 0 0.01 0ZM634.1 850.6a1.8 1.8 0 1 0 0.01 0ZM671.8 841.4a1.6 1.6 0 1 0 0.01 0ZM673.5 839.3a2 2 0 1 0 0.01 0ZM626.9 861.3a1.4 1.4 0 1 0 0.01 0ZM552.2 793.2a1.8 1.8 0 1 0 0.01 0ZM638 838.9a1.6 1.6 0 1 0 0.01 0ZM638.1 835.6a1.6 1.6 0 1 0 0.01 0ZM637.9 874.2a2 2 0 1 0 0.01 0ZM673.7 867.5a1.4 1.4 0 1 0 0.01 0ZM671.3 866.6a1.4 1.4 0 1 0 0.01 0ZM671.1 881.3a2 2 0 1 0 0.01 0ZM668.6 882.3a1.6 1.6 0 1 0 0.01 0ZM590.2 804.8a1.6 1.6 0 1 0 0.01 0ZM497.6 869.4a1.6 1.6 0 1 0 0.01 0ZM496.1 866.5a1.8 1.8 0 1 0 0.01 0ZM493.3 865.3a1.8 1.8 0 1 0 0.01 0ZM718.1 897.3a2 2 0 1 0 0.01 0ZM444.9 821.7a2 2 0 1 0 0.01 0ZM441.5 821.8a2 2 0 1 0 0.01 0ZM517.3 873.6a1.8 1.8 0 1 0 0.01 0ZM520 873.7a1.8 1.8 0 1 0 0.01 0ZM523.1 872.7a1.6 1.6 0 1 0 0.01 0ZM452.1 731a1.4 1.4 0 1 0 0.01 0ZM453.2 734.1a1.4 1.4 0 1 0 0.01 0ZM450.7 736.6a2 2 0 1 0 0.01 0ZM543.7 816.2a2 2 0 1 0 0.01 0ZM446.9 888.9a2 2 0 1 0 0.01 0ZM449.6 890.3a1.6 1.6 0 1 0 0.01 0ZM452.4 889.1a1.6 1.6 0 1 0 0.01 0ZM590.1 893.2a2 2 0 1 0 0.01 0ZM580.3 842.6a2 2 0 1 0 0.01 0ZM579 845a2 2 0 1 0 0.01 0ZM576.2 846a1.8 1.8 0 1 0 0.01 0ZM643.1 905.8a1.8 1.8 0 1 0 0.01 0ZM640.7 907.6a1.4 1.4 0 1 0 0.01 0ZM639.9 910.3a2 2 0 1 0 0.01 0ZM683.8 893.4a1.8 1.8 0 1 0 0.01 0ZM623.2 869.3a2 2 0 1 0 0.01 0ZM460 792.2a1.4 1.4 0 1 0 0.01 0ZM678.9 907.7a2 2 0 1 0 0.01 0ZM676.6 900.2a1.4 1.4 0 1 0 0.01 0ZM678.8 898.2a1.8 1.8 0 1 0 0.01 0ZM673.6 815.5a1.4 1.4 0 1 0 0.01 0ZM553.1 764.6a1.8 1.8 0 1 0 0.01 0ZM576.3 896.1a1.8 1.8 0 1 0 0.01 0ZM447.5 766.6a1.8 1.8 0 1 0 0.01 0ZM444.8 767.2a1.8 1.8 0 1 0 0.01 0ZM441.7 767.2a1.8 1.8 0 1 0 0.01 0ZM705.7 893.6a1.4 1.4 0 1 0 0.01 0ZM703.8 891.2a1.4 1.4 0 1 0 0.01 0ZM475.2 854.2a1.4 1.4 0 1 0 0.01 0ZM478 854.1a1.6 1.6 0 1 0 0.01 0ZM550.2 794a1.8 1.8 0 1 0 0.01 0ZM617.6 898.3a1.8 1.8 0 1 0 0.01 0ZM472.7 804.5a1.8 1.8 0 1 0 0.01 0ZM661.7 873.4a1.8 1.8 0 1 0 0.01 0ZM661.5 870.2a1.4 1.4 0 1 0 0.01 0ZM426.4 729.8a1.4 1.4 0 1 0 0.01 0ZM426.2 733.1a1.4 1.4 0 1 0 0.01 0ZM425.4 736.3a1.4 1.4 0 1 0 0.01 0ZM455.7 650.1a1.8 1.8 0 1 0 0.01 0ZM453.5 647.5a2 2 0 1 0 0.01 0ZM453.2 644.8a1.8 1.8 0 1 0 0.01 0ZM445.7 809.2a1.4 1.4 0 1 0 0.01 0ZM553.3 831.5a1.6 1.6 0 1 0 0.01 0ZM586.8 796.6a2 2 0 1 0 0.01 0ZM495.1 709.9a2 2 0 1 0 0.01 0ZM607.9 847.3a2 2 0 1 0 0.01 0ZM607.1 850.2a2 2 0 1 0 0.01 0ZM605.2 851.9a1.8 1.8 0 1 0 0.01 0ZM518.5 829a2 2 0 1 0 0.01 0ZM438.5 624.1a1.8 1.8 0 1 0 0.01 0ZM441.2 624.8a1.8 1.8 0 1 0 0.01 0ZM465.6 906a2 2 0 1 0 0.01 0ZM468.6 903.7a1.4 1.4 0 1 0 0.01 0ZM470.9 904.1a2 2 0 1 0 0.01 0ZM652 822.9a1.4 1.4 0 1 0 0.01 0ZM654.5 824a1.8 1.8 0 1 0 0.01 0ZM624.4 871.3a1.8 1.8 0 1 0 0.01 0ZM500.9 887.6a1.6 1.6 0 1 0 0.01 0ZM426.6 854.5a1.4 1.4 0 1 0 0.01 0ZM467.1 713.2a1.4 1.4 0 1 0 0.01 0ZM469.7 714.2a2 2 0 1 0 0.01 0ZM535.7 845.2a1.8 1.8 0 1 0 0.01 0ZM533.6 847.4a1.4 1.4 0 1 0 0.01 0ZM537.1 732a1.4 1.4 0 1 0 0.01 0ZM533.8 731.5a1.4 1.4 0 1 0 0.01 0ZM532.5 728.7a1.8 1.8 0 1 0 0.01 0ZM426.1 739a1.6 1.6 0 1 0 0.01 0ZM426.7 736.3a1.8 1.8 0 1 0 0.01 0ZM636 841.2a1.6 1.6 0 1 0 0.01 0ZM538.7 779.3a1.6 1.6 0 1 0 0.01 0ZM450.9 777.6a1.6 1.6 0 1 0 0.01 0ZM449.6 780a1.4 1.4 0 1 0 0.01 0ZM527.2 749.9a1.6 1.6 0 1 0 0.01 0ZM528.6 747.7a1.8 1.8 0 1 0 0.01 0ZM669.9 833.4a1.8 1.8 0 1 0 0.01 0ZM668.6 830.7a2 2 0 1 0 0.01 0ZM490.7 837.4a1.4 1.4 0 1 0 0.01 0ZM490.3 840.5a2 2 0 1 0 0.01 0ZM466.9 785.7a2 2 0 1 0 0.01 0ZM554.3 862.6a2 2 0 1 0 0.01 0ZM506.6 719.3a1.8 1.8 0 1 0 0.01 0ZM506.6 716.2a1.8 1.8 0 1 0 0.01 0ZM535.3 833.2a1.4 1.4 0 1 0 0.01 0ZM507.5 839a1.4 1.4 0 1 0 0.01 0ZM507.7 836.3a1.4 1.4 0 1 0 0.01 0ZM505.5 833.7a1.8 1.8 0 1 0 0.01 0ZM526.1 777.2a1.6 1.6 0 1 0 0.01 0ZM522.6 776.6a2 2 0 1 0 0.01 0ZM532.1 874a1.6 1.6 0 1 0 0.01 0ZM448.4 859.7a2 2 0 1 0 0.01 0ZM518.7 912.5a1.4 1.4 0 1 0 0.01 0ZM552.8 761.2a1.6 1.6 0 1 0 0.01 0ZM562 854.5a1.8 1.8 0 1 0 0.01 0ZM511.6 814.8a1.4 1.4 0 1 0 0.01 0ZM510.6 817.7a2 2 0 1 0 0.01 0ZM518.7 752.8a1.8 1.8 0 1 0 0.01 0ZM516.1 751.3a1.4 1.4 0 1 0 0.01 0ZM472.3 839.8a2 2 0 1 0 0.01 0ZM470.3 837.5a2 2 0 1 0 0.01 0ZM468.2 837.7a1.4 1.4 0 1 0 0.01 0ZM624.2 864a1.6 1.6 0 1 0 0.01 0ZM627.4 863.8a1.6 1.6 0 1 0 0.01 0ZM629.2 865.9a2 2 0 1 0 0.01 0ZM456 906.9a1.6 1.6 0 1 0 0.01 0ZM453 907.5a1.6 1.6 0 1 0 0.01 0ZM449.6 906.6a2 2 0 1 0 0.01 0ZM457.1 640.1a1.8 1.8 0 1 0 0.01 0ZM459.8 639.7a1.8 1.8 0 1 0 0.01 0ZM461.6 637a1.6 1.6 0 1 0 0.01 0ZM632.4 821.1a1.6 1.6 0 1 0 0.01 0ZM635 819.2a1.4 1.4 0 1 0 0.01 0ZM634.6 816.4a2 2 0 1 0 0.01 0ZM619.2 861.8a1.4 1.4 0 1 0 0.01 0ZM619.7 865a1.4 1.4 0 1 0 0.01 0ZM690.9 910.6a2 2 0 1 0 0.01 0ZM688.6 912.6a1.8 1.8 0 1 0 0.01 0ZM485.9 694.4a1.8 1.8 0 1 0 0.01 0ZM486.3 697.3a1.6 1.6 0 1 0 0.01 0ZM487.6 700.1a1.8 1.8 0 1 0 0.01 0ZM430.1 742.6a1.6 1.6 0 1 0 0.01 0ZM432.5 742.8a2 2 0 1 0 0.01 0ZM435.4 741a2 2 0 1 0 0.01 0ZM477.5 772.9a2 2 0 1 0 0.01 0ZM479.7 771.3a2 2 0 1 0 0.01 0ZM482.7 769.5a1.6 1.6 0 1 0 0.01 0ZM584.1 806.7a1.8 1.8 0 1 0 0.01 0ZM589 830.8a2 2 0 1 0 0.01 0ZM586.3 831.5a2 2 0 1 0 0.01 0ZM566.6 824a1.4 1.4 0 1 0 0.01 0ZM548.2 770.2a2 2 0 1 0 0.01 0ZM429.1 718.8a2 2 0 1 0 0.01 0ZM559.2 900.1a1.4 1.4 0 1 0 0.01 0ZM558.9 896.9a1.6 1.6 0 1 0 0.01 0ZM619.5 876.1a1.4 1.4 0 1 0 0.01 0ZM448.9 697.8a1.6 1.6 0 1 0 0.01 0ZM487 832.6a1.4 1.4 0 1 0 0.01 0ZM489.7 831.3a1.6 1.6 0 1 0 0.01 0ZM491.4 768a1.6 1.6 0 1 0 0.01 0ZM493.9 769.2a1.8 1.8 0 1 0 0.01 0ZM427.6 795.5a2 2 0 1 0 0.01 0ZM430.3 793.6a1.6 1.6 0 1 0 0.01 0ZM519.5 842.5a1.6 1.6 0 1 0 0.01 0ZM519.6 845.4a1.8 1.8 0 1 0 0.01 0ZM461.4 807.4a1.6 1.6 0 1 0 0.01 0ZM458.9 805.6a2 2 0 1 0 0.01 0ZM662.7 841.4a1.4 1.4 0 1 0 0.01 0ZM663.1 838.9a2 2 0 1 0 0.01 0ZM468.2 876a1.6 1.6 0 1 0 0.01 0ZM501.3 875.2a1.4 1.4 0 1 0 0.01 0ZM464.8 737.2a1.4 1.4 0 1 0 0.01 0ZM453.8 735.3a1.4 1.4 0 1 0 0.01 0ZM451.1 737.8a2 2 0 1 0 0.01 0ZM448.3 738.4a1.8 1.8 0 1 0 0.01 0ZM560.5 806.6a1.8 1.8 0 1 0 0.01 0ZM563.4 805.8a2 2 0 1 0 0.01 0ZM637.4 910.6a1.6 1.6 0 1 0 0.01 0ZM634.2 910.7a1.8 1.8 0 1 0 0.01 0ZM684.1 893.3a1.8 1.8 0 1 0 0.01 0ZM681.8 894.9a1.6 1.6 0 1 0 0.01 0ZM597.7 906.7a1.4 1.4 0 1 0 0.01 0ZM546.7 856.3a1.6 1.6 0 1 0 0.01 0ZM548.8 857.9a1.8 1.8 0 1 0 0.01 0ZM467 790.1a1.6 1.6 0 1 0 0.01 0ZM464.5 789.4a1.4 1.4 0 1 0 0.01 0ZM460.7 789.8a2 2 0 1 0 0.01 0ZM529.5 785.5a1.8 1.8 0 1 0 0.01 0ZM528.8 782.5a2 2 0 1 0 0.01 0ZM632.9 820.5a1.4 1.4 0 1 0 0.01 0ZM587.4 808.9a1.8 1.8 0 1 0 0.01 0ZM448.8 675.7a1.4 1.4 0 1 0 0.01 0ZM446.1 677.6a1.4 1.4 0 1 0 0.01 0ZM556.9 768.9a1.4 1.4 0 1 0 0.01 0ZM539.5 844.3a2 2 0 1 0 0.01 0ZM539.1 847.1a1.8 1.8 0 1 0 0.01 0ZM500.6 883.1a1.8 1.8 0 1 0 0.01 0ZM428.2 786.1a1.8 1.8 0 1 0 0.01 0ZM426.2 783.6a1.8 1.8 0 1 0 0.01 0ZM452.9 824a1.6 1.6 0 1 0 0.01 0ZM450.1 822.8a1.4 1.4 0 1 0 0.01 0ZM564.4 758.4a1.4 1.4 0 1 0 0.01 0ZM566.1 761a1.8 1.8 0 1 0 0.01 0ZM632.1 845.1a1.8 1.8 0 1 0 0.01 0ZM707.9 906.5a1.8 1.8 0 1 0 0.01 0ZM705 906.4a1.6 1.6 0 1 0 0.01 0ZM452.2 777.4a1.8 1.8 0 1 0 0.01 0ZM547 907.2a2 2 0 1 0 0.01 0ZM548 904.3a1.8 1.8 0 1 0 0.01 0ZM432.5 775a1.4 1.4 0 1 0 0.01 0ZM608.5 879.1a2 2 0 1 0 0.01 0ZM432.1 910.7a2 2 0 1 0 0.01 0ZM552.1 816.5a1.8 1.8 0 1 0 0.01 0ZM520.6 769.7a1.6 1.6 0 1 0 0.01 0ZM517.5 770.3a2 2 0 1 0 0.01 0ZM439.5 673.9a1.4 1.4 0 1 0 0.01 0ZM436.4 673.8a1.8 1.8 0 1 0 0.01 0ZM559.9 893.2a2 2 0 1 0 0.01 0ZM561.9 895.4a2 2 0 1 0 0.01 0ZM492.8 879.1a1.6 1.6 0 1 0 0.01 0ZM476 735.1a1.6 1.6 0 1 0 0.01 0ZM478.8 736.5a1.4 1.4 0 1 0 0.01 0ZM564.1 814.9a1.4 1.4 0 1 0 0.01 0ZM566.5 815.9a1.4 1.4 0 1 0 0.01 0ZM528.3 782.8a1.6 1.6 0 1 0 0.01 0ZM527.5 785.9a2 2 0 1 0 0.01 0ZM528.7 788.7a1.6 1.6 0 1 0 0.01 0ZM542.7 880.3a1.4 1.4 0 1 0 0.01 0ZM545.6 881.4a1.6 1.6 0 1 0 0.01 0ZM540.8 755.2a1.6 1.6 0 1 0 0.01 0ZM432.1 782.9a1.4 1.4 0 1 0 0.01 0ZM429.7 780.8a2 2 0 1 0 0.01 0ZM429 778.1a1.6 1.6 0 1 0 0.01 0ZM512.2 751.8a1.4 1.4 0 1 0 0.01 0ZM662.5 899a1.6 1.6 0 1 0 0.01 0ZM662.8 896.2a2 2 0 1 0 0.01 0ZM620.3 886.6a1.8 1.8 0 1 0 0.01 0ZM620.6 889.5a1.8 1.8 0 1 0 0.01 0ZM487.1 846.1a1.8 1.8 0 1 0 0.01 0ZM573.2 836.8a2 2 0 1 0 0.01 0ZM575.2 834.6a1.6 1.6 0 1 0 0.01 0ZM577.6 835.1a1.8 1.8 0 1 0 0.01 0ZM684.8 847.9a1.6 1.6 0 1 0 0.01 0ZM456 626.3a1.4 1.4 0 1 0 0.01 0ZM452.9 624.7a2 2 0 1 0 0.01 0ZM450.4 624.6a1.8 1.8 0 1 0 0.01 0ZM460.4 753.4a1.4 1.4 0 1 0 0.01 0ZM632.4 871.2a1.8 1.8 0 1 0 0.01 0ZM503.9 856.4a2 2 0 1 0 0.01 0ZM501.9 857.2a1.4 1.4 0 1 0 0.01 0ZM498.3 856.3a2 2 0 1 0 0.01 0ZM599.8 781.6a1.4 1.4 0 1 0 0.01 0ZM616.9 897.5a1.8 1.8 0 1 0 0.01 0ZM613.9 898.9a1.8 1.8 0 1 0 0.01 0ZM611.9 900.5a1.4 1.4 0 1 0 0.01 0ZM470.5 647.5a2 2 0 1 0 0.01 0ZM473.9 645.8a1.4 1.4 0 1 0 0.01 0ZM468.1 665.1a1.6 1.6 0 1 0 0.01 0ZM466.8 662a2 2 0 1 0 0.01 0ZM485.1 819.7a2 2 0 1 0 0.01 0ZM541.8 793.4a1.8 1.8 0 1 0 0.01 0ZM544.8 792.6a1.6 1.6 0 1 0 0.01 0ZM547.7 793.1a1.6 1.6 0 1 0 0.01 0ZM622.4 848.1a1.4 1.4 0 1 0 0.01 0ZM620.8 851.2a1.8 1.8 0 1 0 0.01 0ZM715 888.6a1.8 1.8 0 1 0 0.01 0ZM561.1 795.2a1.4 1.4 0 1 0 0.01 0ZM558.8 797.3a1.6 1.6 0 1 0 0.01 0ZM576.2 912.5a2 2 0 1 0 0.01 0ZM577.2 909.2a1.6 1.6 0 1 0 0.01 0ZM659.5 872.9a2 2 0 1 0 0.01 0ZM719.4 887.2a1.8 1.8 0 1 0 0.01 0ZM448.7 874.3a1.6 1.6 0 1 0 0.01 0ZM451.3 875.5a1.4 1.4 0 1 0 0.01 0ZM490.3 700.2a1.8 1.8 0 1 0 0.01 0ZM590.2 856.9a2 2 0 1 0 0.01 0ZM587.7 855.9a1.4 1.4 0 1 0 0.01 0ZM585.5 858.4a1.6 1.6 0 1 0 0.01 0ZM659.8 864.6a1.4 1.4 0 1 0 0.01 0ZM459.3 911.9a2 2 0 1 0 0.01 0ZM495.8 844.4a1.8 1.8 0 1 0 0.01 0ZM494.8 847.6a1.6 1.6 0 1 0 0.01 0ZM688.5 856.3a1.4 1.4 0 1 0 0.01 0ZM685.8 858.7a2 2 0 1 0 0.01 0ZM508 785.3a1.8 1.8 0 1 0 0.01 0ZM508.8 788.3a1.4 1.4 0 1 0 0.01 0ZM506.2 790.6a1.6 1.6 0 1 0 0.01 0ZM459.1 782.9a2 2 0 1 0 0.01 0ZM574.4 906.7a2 2 0 1 0 0.01 0ZM502.1 828.4a1.6 1.6 0 1 0 0.01 0ZM504.8 827.7a1.4 1.4 0 1 0 0.01 0ZM686.1 893.3a1.6 1.6 0 1 0 0.01 0ZM473.8 884.6a1.6 1.6 0 1 0 0.01 0ZM475 887.3a1.4 1.4 0 1 0 0.01 0ZM477.6 887.6a1.4 1.4 0 1 0 0.01 0ZM502.9 889.5a1.8 1.8 0 1 0 0.01 0ZM500.5 887.3a2 2 0 1 0 0.01 0ZM499.9 884.6a1.8 1.8 0 1 0 0.01 0ZM469.9 888.6a2 2 0 1 0 0.01 0ZM465 869.2a1.6 1.6 0 1 0 0.01 0ZM462.1 867.4a1.8 1.8 0 1 0 0.01 0ZM459.3 867.8a1.6 1.6 0 1 0 0.01 0ZM567.5 910.3a1.4 1.4 0 1 0 0.01 0ZM462.9 760.9a1.8 1.8 0 1 0 0.01 0ZM615.1 901.6a1.6 1.6 0 1 0 0.01 0ZM629.2 902.7a2 2 0 1 0 0.01 0ZM462.7 833.9a1.4 1.4 0 1 0 0.01 0ZM462.9 831a1.8 1.8 0 1 0 0.01 0ZM427.1 682.9a1.6 1.6 0 1 0 0.01 0ZM430 683.6a1.4 1.4 0 1 0 0.01 0ZM531.5 741.8a1.4 1.4 0 1 0 0.01 0ZM528.3 740.9a2 2 0 1 0 0.01 0ZM526.2 742.1a1.6 1.6 0 1 0 0.01 0ZM455 716.4a1.4 1.4 0 1 0 0.01 0ZM455.4 719.6a1.6 1.6 0 1 0 0.01 0ZM447.5 890.3a1.6 1.6 0 1 0 0.01 0ZM487.4 657.4a1.8 1.8 0 1 0 0.01 0ZM621 881a2 2 0 1 0 0.01 0ZM439.8 898.8a2 2 0 1 0 0.01 0ZM707.1 901a1.6 1.6 0 1 0 0.01 0ZM704.6 903.2a1.8 1.8 0 1 0 0.01 0ZM702.5 902.5a1.4 1.4 0 1 0 0.01 0ZM650.7 843.7a1.6 1.6 0 1 0 0.01 0ZM654.1 842.8a1.4 1.4 0 1 0 0.01 0ZM656.5 844.8a1.4 1.4 0 1 0 0.01 0ZM434 614.4a2 2 0 1 0 0.01 0ZM557.6 871.2a1.6 1.6 0 1 0 0.01 0ZM546 789.3a2 2 0 1 0 0.01 0ZM543.6 791.3a1.8 1.8 0 1 0 0.01 0ZM695.1 871.1a1.4 1.4 0 1 0 0.01 0ZM696.1 874.3a1.6 1.6 0 1 0 0.01 0ZM695.2 877a2 2 0 1 0 0.01 0ZM567.3 761.8a1.6 1.6 0 1 0 0.01 0ZM476.6 804.1a1.4 1.4 0 1 0 0.01 0ZM577.7 907.9a1.8 1.8 0 1 0 0.01 0ZM542.1 822a1.8 1.8 0 1 0 0.01 0ZM492.1 886.5a1.4 1.4 0 1 0 0.01 0ZM506.2 875a2 2 0 1 0 0.01 0ZM509.5 875.3a1.4 1.4 0 1 0 0.01 0ZM511.5 874.6a2 2 0 1 0 0.01 0ZM436.9 660a1.6 1.6 0 1 0 0.01 0ZM436.8 657.2a1.6 1.6 0 1 0 0.01 0ZM437.8 654.3a1.6 1.6 0 1 0 0.01 0ZM592.8 790.8a1.8 1.8 0 1 0 0.01 0ZM590.1 888.9a1.8 1.8 0 1 0 0.01 0ZM692.6 856.3a1.4 1.4 0 1 0 0.01 0ZM692.1 859a1.6 1.6 0 1 0 0.01 0ZM570.6 891.1a1.6 1.6 0 1 0 0.01 0ZM573.6 892.8a1.4 1.4 0 1 0 0.01 0ZM574.5 895.9a1.6 1.6 0 1 0 0.01 0ZM549 829.7a1.6 1.6 0 1 0 0.01 0ZM597.1 871.2a2 2 0 1 0 0.01 0ZM592.3 888a1.6 1.6 0 1 0 0.01 0ZM592.9 885.2a1.4 1.4 0 1 0 0.01 0ZM590.7 882.5a2 2 0 1 0 0.01 0ZM600.5 869.1a1.4 1.4 0 1 0 0.01 0ZM592.7 912.1a1.8 1.8 0 1 0 0.01 0ZM595.7 911.2a1.8 1.8 0 1 0 0.01 0ZM430.3 855.6a1.4 1.4 0 1 0 0.01 0ZM432.1 854a1.8 1.8 0 1 0 0.01 0ZM432.2 851.2a1.4 1.4 0 1 0 0.01 0ZM456.7 826.3a1.8 1.8 0 1 0 0.01 0ZM457.4 736a1.8 1.8 0 1 0 0.01 0ZM602.2 867.8a1.8 1.8 0 1 0 0.01 0ZM513.6 724.6a1.4 1.4 0 1 0 0.01 0ZM515.4 726.9a1.4 1.4 0 1 0 0.01 0ZM483.1 754.2a1.6 1.6 0 1 0 0.01 0ZM456.7 847.6a1.6 1.6 0 1 0 0.01 0ZM520.9 883.7a1.6 1.6 0 1 0 0.01 0ZM519.1 881.9a1.4 1.4 0 1 0 0.01 0ZM516 881.6a1.8 1.8 0 1 0 0.01 0ZM593.9 827.2a1.6 1.6 0 1 0 0.01 0ZM459.4 831a1.4 1.4 0 1 0 0.01 0ZM458.3 827.7a2 2 0 1 0 0.01 0ZM457.4 825.1a2 2 0 1 0 0.01 0ZM424.6 750.3a2 2 0 1 0 0.01 0ZM468.5 870.4a2 2 0 1 0 0.01 0ZM471.8 870.2a1.4 1.4 0 1 0 0.01 0ZM644.2 905.4a2 2 0 1 0 0.01 0ZM546.5 898.8a1.6 1.6 0 1 0 0.01 0ZM432.6 712.3a2 2 0 1 0 0.01 0ZM435.1 714.5a2 2 0 1 0 0.01 0ZM439.9 784.5a2 2 0 1 0 0.01 0ZM588.7 783.7a1.4 1.4 0 1 0 0.01 0ZM591.2 784.7a2 2 0 1 0 0.01 0ZM593.1 787.6a1.8 1.8 0 1 0 0.01 0ZM463.6 884.8a1.4 1.4 0 1 0 0.01 0ZM459.9 884.9a2 2 0 1 0 0.01 0ZM497.2 880.4a1.6 1.6 0 1 0 0.01 0ZM585.4 802.3a2 2 0 1 0 0.01 0ZM469 754.5a1.6 1.6 0 1 0 0.01 0ZM466.7 756.7a2 2 0 1 0 0.01 0ZM436.7 754.7a2 2 0 1 0 0.01 0ZM437.5 751.6a1.4 1.4 0 1 0 0.01 0ZM449.7 755.2a1.8 1.8 0 1 0 0.01 0ZM448.6 752.8a1.4 1.4 0 1 0 0.01 0ZM482.2 791.4a1.4 1.4 0 1 0 0.01 0ZM489.8 880.1a2 2 0 1 0 0.01 0ZM548.4 893.8a1.6 1.6 0 1 0 0.01 0ZM548.9 890.9a1.6 1.6 0 1 0 0.01 0ZM551.8 889.8a1.6 1.6 0 1 0 0.01 0ZM475.9 690.8a1.8 1.8 0 1 0 0.01 0ZM478.9 692a1.6 1.6 0 1 0 0.01 0ZM480 695a1.8 1.8 0 1 0 0.01 0ZM560.2 832.3a1.6 1.6 0 1 0 0.01 0ZM556.8 831.6a1.8 1.8 0 1 0 0.01 0ZM553.5 831.4a2 2 0 1 0 0.01 0ZM665.4 878.5a1.6 1.6 0 1 0 0.01 0ZM484.1 691.6a1.4 1.4 0 1 0 0.01 0ZM486.2 693.6a1.8 1.8 0 1 0 0.01 0ZM445.8 787.3a2 2 0 1 0 0.01 0ZM449.1 787.1a1.6 1.6 0 1 0 0.01 0ZM542.6 779.4a1.4 1.4 0 1 0 0.01 0ZM468.8 686.8a1.4 1.4 0 1 0 0.01 0ZM466.3 722.9a1.4 1.4 0 1 0 0.01 0ZM473.6 692a2 2 0 1 0 0.01 0ZM476.4 690.9a1.8 1.8 0 1 0 0.01 0ZM476.5 687.7a1.6 1.6 0 1 0 0.01 0ZM548.6 807.7a2 2 0 1 0 0.01 0ZM545.9 808.8a2 2 0 1 0 0.01 0ZM543.3 809.5a1.6 1.6 0 1 0 0.01 0ZM497.3 814.3a1.8 1.8 0 1 0 0.01 0ZM429.2 836.1a1.8 1.8 0 1 0 0.01 0ZM704.7 889.1a1.8 1.8 0 1 0 0.01 0ZM703.3 891.3a1.4 1.4 0 1 0 0.01 0ZM713.9 894a1.6 1.6 0 1 0 0.01 0ZM442 670.4a1.6 1.6 0 1 0 0.01 0ZM437.8 823.5a1.4 1.4 0 1 0 0.01 0ZM565.9 776.8a1.6 1.6 0 1 0 0.01 0ZM565.5 773.8a1.8 1.8 0 1 0 0.01 0ZM585.4 867.9a1.4 1.4 0 1 0 0.01 0ZM702.2 867.6a1.8 1.8 0 1 0 0.01 0ZM702.4 864.9a1.4 1.4 0 1 0 0.01 0ZM619.2 869.1a1.4 1.4 0 1 0 0.01 0ZM574.4 911.9a1.6 1.6 0 1 0 0.01 0ZM599 898.8a1.6 1.6 0 1 0 0.01 0ZM596 900.5a1.8 1.8 0 1 0 0.01 0ZM494.2 705.3a2 2 0 1 0 0.01 0ZM491.5 704.9a2 2 0 1 0 0.01 0ZM538.6 834.4a1.4 1.4 0 1 0 0.01 0ZM478.7 681.7a2 2 0 1 0 0.01 0ZM477.8 678.9a1.8 1.8 0 1 0 0.01 0ZM595.2 912.5a2 2 0 1 0 0.01 0ZM591.5 772.3a1.4 1.4 0 1 0 0.01 0ZM589.3 774.5a2 2 0 1 0 0.01 0ZM587.3 775.9a1.8 1.8 0 1 0 0.01 0ZM666.1 855.9a1.6 1.6 0 1 0 0.01 0ZM688.4 880.1a2 2 0 1 0 0.01 0ZM597.6 853.3a2 2 0 1 0 0.01 0ZM538.8 903.3a1.4 1.4 0 1 0 0.01 0ZM428.7 867.1a1.6 1.6 0 1 0 0.01 0ZM428.1 864.3a2 2 0 1 0 0.01 0ZM468.5 707.3a1.6 1.6 0 1 0 0.01 0ZM484.1 768.1a1.8 1.8 0 1 0 0.01 0ZM483.1 765.6a1.8 1.8 0 1 0 0.01 0ZM485.1 763.6a2 2 0 1 0 0.01 0ZM434.2 906.5a1.4 1.4 0 1 0 0.01 0ZM658.4 879.6a1.6 1.6 0 1 0 0.01 0ZM658.7 876.3a1.6 1.6 0 1 0 0.01 0ZM659.6 873.2a1.8 1.8 0 1 0 0.01 0ZM545.1 835.2a1.8 1.8 0 1 0 0.01 0ZM559.4 869.7a1.6 1.6 0 1 0 0.01 0ZM559.1 866.7a1.8 1.8 0 1 0 0.01 0ZM562.4 744.9a1.4 1.4 0 1 0 0.01 0ZM559.2 744.2a1.6 1.6 0 1 0 0.01 0ZM697.1 913.2a1.4 1.4 0 1 0 0.01 0ZM601.5 850.6a2 2 0 1 0 0.01 0ZM604.4 852.2a1.6 1.6 0 1 0 0.01 0ZM606.3 853.8a2 2 0 1 0 0.01 0ZM579.3 759.5a1.4 1.4 0 1 0 0.01 0ZM604.1 825.8a1.6 1.6 0 1 0 0.01 0ZM605.3 828.2a2 2 0 1 0 0.01 0ZM500.8 780.2a1.6 1.6 0 1 0 0.01 0ZM454.6 778.8a1.6 1.6 0 1 0 0.01 0ZM512.4 814.3a1.4 1.4 0 1 0 0.01 0ZM434.4 755.8a1.4 1.4 0 1 0 0.01 0ZM535.2 798.1a1.8 1.8 0 1 0 0.01 0ZM533.3 799.9a1.6 1.6 0 1 0 0.01 0ZM429.1 801a1.4 1.4 0 1 0 0.01 0ZM432.2 801.5a1.6 1.6 0 1 0 0.01 0ZM443.6 906.4a1.4 1.4 0 1 0 0.01 0ZM445.2 904.6a1.8 1.8 0 1 0 0.01 0ZM447.7 905.9a2 2 0 1 0 0.01 0ZM425.8 774.8a1.4 1.4 0 1 0 0.01 0ZM564.8 883.2a2 2 0 1 0 0.01 0ZM567.7 881.3a1.6 1.6 0 1 0 0.01 0ZM455.6 764.5a2 2 0 1 0 0.01 0ZM651.8 888.3a1.4 1.4 0 1 0 0.01 0ZM527.2 751.5a2 2 0 1 0 0.01 0ZM530.5 752.7a1.4 1.4 0 1 0 0.01 0ZM430.7 706.8a2 2 0 1 0 0.01 0ZM428 706.8a1.8 1.8 0 1 0 0.01 0ZM511.4 771.6a1.8 1.8 0 1 0 0.01 0ZM511.7 768.5a1.6 1.6 0 1 0 0.01 0ZM647.7 824.3a1.8 1.8 0 1 0 0.01 0ZM648.6 821.9a2 2 0 1 0 0.01 0ZM532.4 722.3a2 2 0 1 0 0.01 0ZM532.7 719.1a1.4 1.4 0 1 0 0.01 0ZM533.1 715.9a1.6 1.6 0 1 0 0.01 0ZM558.6 820.2a1.4 1.4 0 1 0 0.01 0ZM555.9 818.4a1.8 1.8 0 1 0 0.01 0ZM510.3 719.3a1.6 1.6 0 1 0 0.01 0ZM507.6 720.4a1.8 1.8 0 1 0 0.01 0ZM505.1 719.9a1.4 1.4 0 1 0 0.01 0ZM502.8 717.5a1.6 1.6 0 1 0 0.01 0ZM462.3 794.9a1.6 1.6 0 1 0 0.01 0ZM464.3 793a1.6 1.6 0 1 0 0.01 0ZM467 792.2a1.4 1.4 0 1 0 0.01 0ZM424.3 761.6a1.8 1.8 0 1 0 0.01 0ZM426.6 759.6a1.4 1.4 0 1 0 0.01 0ZM467.3 669.9a1.8 1.8 0 1 0 0.01 0ZM457.5 751.8a1.8 1.8 0 1 0 0.01 0ZM611.5 788.6a1.8 1.8 0 1 0 0.01 0ZM482.2 689.1a1.6 1.6 0 1 0 0.01 0ZM438.3 911.9a1.4 1.4 0 1 0 0.01 0ZM664.7 908.4a1.4 1.4 0 1 0 0.01 0ZM666.6 906.5a1.4 1.4 0 1 0 0.01 0ZM468.3 718.3a1.8 1.8 0 1 0 0.01 0ZM466.5 720.5a2 2 0 1 0 0.01 0ZM464 720a1.8 1.8 0 1 0 0.01 0ZM590.4 849.5a1.4 1.4 0 1 0 0.01 0ZM589 852a2 2 0 1 0 0.01 0ZM654.4 830.9a1.8 1.8 0 1 0 0.01 0ZM651.5 831.1a1.4 1.4 0 1 0 0.01 0ZM596.7 874.6a1.6 1.6 0 1 0 0.01 0ZM457.8 689.4a2 2 0 1 0 0.01 0ZM573.9 893.7a1.6 1.6 0 1 0 0.01 0ZM571.3 893.1a1.6 1.6 0 1 0 0.01 0ZM568.5 892a1.8 1.8 0 1 0 0.01 0ZM542.5 765.4a1.4 1.4 0 1 0 0.01 0ZM515 733.8a2 2 0 1 0 0.01 0ZM518 734.9a2 2 0 1 0 0.01 0ZM574.4 898.5a1.4 1.4 0 1 0 0.01 0ZM496.9 869.1a1.8 1.8 0 1 0 0.01 0ZM461.1 845.7a1.6 1.6 0 1 0 0.01 0ZM460.6 842.7a1.8 1.8 0 1 0 0.01 0ZM601.2 892a1.8 1.8 0 1 0 0.01 0ZM719.2 879.2a1.6 1.6 0 1 0 0.01 0ZM448.9 717.2a1.8 1.8 0 1 0 0.01 0ZM490.7 742.8a1.6 1.6 0 1 0 0.01 0ZM519.4 785.7a1.6 1.6 0 1 0 0.01 0ZM665.7 846.5a2 2 0 1 0 0.01 0ZM490.4 753.1a1.6 1.6 0 1 0 0.01 0ZM575.1 874.1a2 2 0 1 0 0.01 0ZM572.9 872.3a1.4 1.4 0 1 0 0.01 0ZM569.9 870.3a2 2 0 1 0 0.01 0ZM621.8 808.9a1.6 1.6 0 1 0 0.01 0ZM616.3 801.7a1.4 1.4 0 1 0 0.01 0ZM688.7 892.9a1.6 1.6 0 1 0 0.01 0ZM691.3 893.1a2 2 0 1 0 0.01 0ZM692.9 895.8a1.6 1.6 0 1 0 0.01 0ZM436.7 868.3a1.6 1.6 0 1 0 0.01 0ZM480.3 730.6a2 2 0 1 0 0.01 0ZM480.9 727.8a2 2 0 1 0 0.01 0ZM470.5 689.5a2 2 0 1 0 0.01 0ZM470.2 686.7a2 2 0 1 0 0.01 0ZM460.2 799.8a1.4 1.4 0 1 0 0.01 0ZM462.7 801.2a1.6 1.6 0 1 0 0.01 0ZM491.7 796.2a2 2 0 1 0 0.01 0ZM653 827.3a1.8 1.8 0 1 0 0.01 0ZM491.9 875.3a2 2 0 1 0 0.01 0ZM495 874.9a1.8 1.8 0 1 0 0.01 0ZM478.1 794.8a1.6 1.6 0 1 0 0.01 0ZM464.7 815.9a1.4 1.4 0 1 0 0.01 0ZM427.4 613.2a1.6 1.6 0 1 0 0.01 0ZM438.2 900.9a1.4 1.4 0 1 0 0.01 0ZM650.7 827a2 2 0 1 0 0.01 0ZM653 828.9a1.4 1.4 0 1 0 0.01 0ZM552.1 907.1a1.4 1.4 0 1 0 0.01 0ZM551.6 903.9a1.8 1.8 0 1 0 0.01 0ZM494.2 725a1.6 1.6 0 1 0 0.01 0ZM492.3 728a2 2 0 1 0 0.01 0ZM634.6 817.5a1.4 1.4 0 1 0 0.01 0ZM624.5 855.5a1.6 1.6 0 1 0 0.01 0ZM502.1 830.4a2 2 0 1 0 0.01 0ZM478.4 671.8a2 2 0 1 0 0.01 0ZM478.2 668.8a1.8 1.8 0 1 0 0.01 0ZM470.3 894.7a1.4 1.4 0 1 0 0.01 0ZM673.2 845.7a1.6 1.6 0 1 0 0.01 0ZM487 797.9a2 2 0 1 0 0.01 0ZM486.2 800.5a2 2 0 1 0 0.01 0ZM486.5 803.4a2 2 0 1 0 0.01 0ZM547.3 860a1.6 1.6 0 1 0 0.01 0ZM679.4 881a2 2 0 1 0 0.01 0ZM681.1 883.1a2 2 0 1 0 0.01 0ZM616.8 875.5a1.8 1.8 0 1 0 0.01 0ZM614.3 875.1a1.6 1.6 0 1 0 0.01 0ZM551.3 850a1.4 1.4 0 1 0 0.01 0ZM486.3 698.2a1.8 1.8 0 1 0 0.01 0ZM590 793.7a1.8 1.8 0 1 0 0.01 0ZM592.5 795.5a1.4 1.4 0 1 0 0.01 0ZM594.9 861.8a1.6 1.6 0 1 0 0.01 0ZM597.3 861.6a1.8 1.8 0 1 0 0.01 0ZM600.7 861.2a1.4 1.4 0 1 0 0.01 0ZM437.9 756.5a1.6 1.6 0 1 0 0.01 0ZM570.8 868.1a1.4 1.4 0 1 0 0.01 0ZM569.2 831.8a1.4 1.4 0 1 0 0.01 0ZM565.9 832.9a2 2 0 1 0 0.01 0ZM437 802.5a1.4 1.4 0 1 0 0.01 0ZM655.7 846.8a1.4 1.4 0 1 0 0.01 0ZM654.4 849.4a2 2 0 1 0 0.01 0ZM652.9 851.1a1.4 1.4 0 1 0 0.01 0ZM567.3 728.5a1.6 1.6 0 1 0 0.01 0ZM479.3 777.8a1.8 1.8 0 1 0 0.01 0ZM544 874.9a1.4 1.4 0 1 0 0.01 0ZM546.7 876.7a1.6 1.6 0 1 0 0.01 0ZM620.2 816.8a2 2 0 1 0 0.01 0ZM647.6 834.3a1.6 1.6 0 1 0 0.01 0ZM488.3 707.7a2 2 0 1 0 0.01 0ZM665.7 844.9a1.8 1.8 0 1 0 0.01 0ZM424.1 871.8a2 2 0 1 0 0.01 0ZM705.6 889a2 2 0 1 0 0.01 0ZM619.9 790a1.4 1.4 0 1 0 0.01 0ZM617.3 789.4a1.4 1.4 0 1 0 0.01 0ZM614.1 791.6a2 2 0 1 0 0.01 0ZM431.8 824.2a1.4 1.4 0 1 0 0.01 0ZM429.6 821.9a1.4 1.4 0 1 0 0.01 0ZM426.6 820.5a1.4 1.4 0 1 0 0.01 0ZM471.9 836a1.8 1.8 0 1 0 0.01 0ZM644.1 790.4a1.8 1.8 0 1 0 0.01 0ZM548.1 809.5a2 2 0 1 0 0.01 0ZM549.9 806.4a1.4 1.4 0 1 0 0.01 0ZM548.1 775.7a1.4 1.4 0 1 0 0.01 0ZM545.9 778.3a2 2 0 1 0 0.01 0ZM543.1 778.1a1.6 1.6 0 1 0 0.01 0ZM534.3 856.6a1.8 1.8 0 1 0 0.01 0ZM531.4 856.7a2 2 0 1 0 0.01 0ZM614.6 861.2a1.6 1.6 0 1 0 0.01 0ZM615.6 858.3a2 2 0 1 0 0.01 0ZM559.9 790.1a1.8 1.8 0 1 0 0.01 0ZM561.7 787.8a1.4 1.4 0 1 0 0.01 0ZM476.8 835.1a2 2 0 1 0 0.01 0ZM475 837.5a1.8 1.8 0 1 0 0.01 0ZM514.6 812.1a1.6 1.6 0 1 0 0.01 0ZM511.8 813.6a2 2 0 1 0 0.01 0ZM511.1 742.9a1.6 1.6 0 1 0 0.01 0ZM513.7 745.2a1.4 1.4 0 1 0 0.01 0ZM515.7 746.8a1.6 1.6 0 1 0 0.01 0ZM603.6 830.2a1.6 1.6 0 1 0 0.01 0ZM606.4 863.1a1.8 1.8 0 1 0 0.01 0ZM501 899.2a2 2 0 1 0 0.01 0ZM464.1 701.9a1.6 1.6 0 1 0 0.01 0ZM478.4 786.6a1.8 1.8 0 1 0 0.01 0ZM477.4 784.3a1.6 1.6 0 1 0 0.01 0ZM611.1 818a1.6 1.6 0 1 0 0.01 0ZM611.9 821.1a1.8 1.8 0 1 0 0.01 0ZM610.4 824a2 2 0 1 0 0.01 0ZM480.4 692.5a1.6 1.6 0 1 0 0.01 0ZM483 693.2a1.6 1.6 0 1 0 0.01 0ZM680.4 882.9a2 2 0 1 0 0.01 0ZM684.9 898.4a1.4 1.4 0 1 0 0.01 0ZM681.8 899.9a2 2 0 1 0 0.01 0ZM679.4 899.2a2 2 0 1 0 0.01 0ZM448.1 812.6a2 2 0 1 0 0.01 0ZM539.9 895.4a1.6 1.6 0 1 0 0.01 0ZM485.1 905a1.8 1.8 0 1 0 0.01 0ZM483.8 907.4a1.6 1.6 0 1 0 0.01 0ZM637.9 846.1a1.4 1.4 0 1 0 0.01 0ZM639.4 843.9a1.8 1.8 0 1 0 0.01 0ZM553.1 773.7a2 2 0 1 0 0.01 0ZM468.1 675a1.6 1.6 0 1 0 0.01 0ZM497.4 807.3a2 2 0 1 0 0.01 0ZM461.6 752.5a1.6 1.6 0 1 0 0.01 0ZM534.3 869.6a1.6 1.6 0 1 0 0.01 0ZM536.6 868.6a1.8 1.8 0 1 0 0.01 0ZM490.5 814.9a1.8 1.8 0 1 0 0.01 0ZM640.1 897.9a1.6 1.6 0 1 0 0.01 0ZM637.4 896.2a1.6 1.6 0 1 0 0.01 0ZM635.6 894a1.4 1.4 0 1 0 0.01 0ZM695.7 887.3a1.6 1.6 0 1 0 0.01 0ZM698.6 888a1.4 1.4 0 1 0 0.01 0ZM460.6 750.3a2 2 0 1 0 0.01 0ZM492.6 895.4a2 2 0 1 0 0.01 0ZM493.5 897.9a2 2 0 1 0 0.01 0ZM493.7 901.1a2 2 0 1 0 0.01 0ZM526.4 890.7a2 2 0 1 0 0.01 0ZM495.6 891.7a2 2 0 1 0 0.01 0ZM455.2 664.4a1.4 1.4 0 1 0 0.01 0ZM511.6 720.4a1.8 1.8 0 1 0 0.01 0ZM588.8 873.6a2 2 0 1 0 0.01 0ZM505.6 774.5a1.8 1.8 0 1 0 0.01 0ZM637.4 884.6a2 2 0 1 0 0.01 0ZM546.2 732.9a2 2 0 1 0 0.01 0ZM500 753.4a1.8 1.8 0 1 0 0.01 0ZM544.6 763.5a1.8 1.8 0 1 0 0.01 0ZM457.6 783.9a1.4 1.4 0 1 0 0.01 0ZM563.9 855.7a1.6 1.6 0 1 0 0.01 0ZM564.2 859a1.4 1.4 0 1 0 0.01 0ZM562.4 861.6a1.6 1.6 0 1 0 0.01 0ZM436.8 705.2a1.8 1.8 0 1 0 0.01 0ZM579.5 731.1a1.4 1.4 0 1 0 0.01 0ZM580.9 728.9a1.8 1.8 0 1 0 0.01 0ZM701 873.5a1.4 1.4 0 1 0 0.01 0ZM697.6 873.7a1.8 1.8 0 1 0 0.01 0ZM580.3 765.6a1.4 1.4 0 1 0 0.01 0ZM472.1 902.9a2 2 0 1 0 0.01 0ZM424.7 700.3a1.8 1.8 0 1 0 0.01 0ZM468.3 768.1a1.4 1.4 0 1 0 0.01 0ZM470.7 768a2 2 0 1 0 0.01 0ZM593.9 866.6a1.8 1.8 0 1 0 0.01 0ZM596.4 868.9a1.6 1.6 0 1 0 0.01 0ZM599.2 870.6a1.4 1.4 0 1 0 0.01 0ZM582.7 825.4a1.4 1.4 0 1 0 0.01 0ZM585.6 824a1.6 1.6 0 1 0 0.01 0ZM586.2 821.1a1.6 1.6 0 1 0 0.01 0ZM506.8 743.3a1.8 1.8 0 1 0 0.01 0ZM612.7 822a1.6 1.6 0 1 0 0.01 0ZM610.9 824.6a2 2 0 1 0 0.01 0ZM611.5 827.3a2 2 0 1 0 0.01 0ZM594.6 818.5a1.8 1.8 0 1 0 0.01 0ZM679 863.8a2 2 0 1 0 0.01 0ZM679.7 867.1a1.4 1.4 0 1 0 0.01 0ZM702.5 870.4a1.8 1.8 0 1 0 0.01 0ZM705.4 870.7a1.8 1.8 0 1 0 0.01 0ZM677.8 902.7a2 2 0 1 0 0.01 0ZM433.1 859a1.6 1.6 0 1 0 0.01 0ZM653.3 874.9a1.6 1.6 0 1 0 0.01 0ZM649.7 875a2 2 0 1 0 0.01 0ZM541.2 808.6a1.4 1.4 0 1 0 0.01 0ZM538.9 822.1a2 2 0 1 0 0.01 0ZM594.6 880.1a1.4 1.4 0 1 0 0.01 0ZM446.6 693.4a1.6 1.6 0 1 0 0.01 0ZM449.2 694.3a1.8 1.8 0 1 0 0.01 0ZM620.7 878.6a2 2 0 1 0 0.01 0ZM451.2 893.3a1.6 1.6 0 1 0 0.01 0ZM548.4 882.6a1.6 1.6 0 1 0 0.01 0ZM518.2 901a2 2 0 1 0 0.01 0ZM705.1 873.9a1.8 1.8 0 1 0 0.01 0ZM492 834.7a1.8 1.8 0 1 0 0.01 0ZM490.3 832a1.4 1.4 0 1 0 0.01 0ZM488 830.5a1.4 1.4 0 1 0 0.01 0ZM484.3 830.8a2 2 0 1 0 0.01 0ZM590.8 772.1a1.8 1.8 0 1 0 0.01 0ZM452.2 911.7a2 2 0 1 0 0.01 0ZM560.5 750.5a1.8 1.8 0 1 0 0.01 0ZM558.7 752.4a1.6 1.6 0 1 0 0.01 0ZM700.4 901.7a2 2 0 1 0 0.01 0ZM700.4 898.7a2 2 0 1 0 0.01 0ZM698.7 896.6a2 2 0 1 0 0.01 0ZM568.2 772.3a1.6 1.6 0 1 0 0.01 0ZM520.8 721.7a1.8 1.8 0 1 0 0.01 0ZM466.2 822.7a1.6 1.6 0 1 0 0.01 0ZM559.1 912.9a1.6 1.6 0 1 0 0.01 0ZM560.7 910.2a1.6 1.6 0 1 0 0.01 0ZM451.1 663.3a2 2 0 1 0 0.01 0ZM450 666.3a1.4 1.4 0 1 0 0.01 0ZM556.3 912a2 2 0 1 0 0.01 0ZM535.8 799.3a1.8 1.8 0 1 0 0.01 0ZM485.8 793.8a2 2 0 1 0 0.01 0ZM505.3 753.6a1.8 1.8 0 1 0 0.01 0ZM565.9 794.5a2 2 0 1 0 0.01 0ZM445.2 876a1.6 1.6 0 1 0 0.01 0ZM571 908.3a2 2 0 1 0 0.01 0ZM689.6 862.6a1.8 1.8 0 1 0 0.01 0ZM571.5 868.3a1.8 1.8 0 1 0 0.01 0ZM573.8 866.2a2 2 0 1 0 0.01 0ZM576.5 865a2 2 0 1 0 0.01 0ZM449.8 628.7a2 2 0 1 0 0.01 0ZM451.3 631.9a1.6 1.6 0 1 0 0.01 0ZM438.9 773.3a1.8 1.8 0 1 0 0.01 0ZM511.9 901a1.8 1.8 0 1 0 0.01 0ZM502.8 789a1.4 1.4 0 1 0 0.01 0ZM433.2 845.9a1.4 1.4 0 1 0 0.01 0ZM464.4 691.7a2 2 0 1 0 0.01 0ZM701.3 884.6a2 2 0 1 0 0.01 0ZM449.3 788.6a2 2 0 1 0 0.01 0ZM691.3 895.7a1.8 1.8 0 1 0 0.01 0ZM693.1 893.4a1.4 1.4 0 1 0 0.01 0ZM695.4 893.5a1.8 1.8 0 1 0 0.01 0ZM426.2 851.3a1.8 1.8 0 1 0 0.01 0ZM424.9 853.6a1.4 1.4 0 1 0 0.01 0ZM641.3 842.6a1.4 1.4 0 1 0 0.01 0ZM606 780.8a1.6 1.6 0 1 0 0.01 0ZM576.6 883.7a2 2 0 1 0 0.01 0ZM429 673a2 2 0 1 0 0.01 0ZM425.9 672.2a2 2 0 1 0 0.01 0ZM472.2 769.7a1.4 1.4 0 1 0 0.01 0ZM469.7 771.8a1.8 1.8 0 1 0 0.01 0ZM468.7 774.2a1.4 1.4 0 1 0 0.01 0ZM470.9 899.5a1.4 1.4 0 1 0 0.01 0ZM469.7 896.4a1.6 1.6 0 1 0 0.01 0ZM453.6 775.2a1.8 1.8 0 1 0 0.01 0ZM454 778.5a1.4 1.4 0 1 0 0.01 0ZM482.5 882a1.8 1.8 0 1 0 0.01 0ZM483.1 884.9a2 2 0 1 0 0.01 0ZM587.8 863.8a2 2 0 1 0 0.01 0ZM681.7 849a1.6 1.6 0 1 0 0.01 0ZM678.9 849.3a1.6 1.6 0 1 0 0.01 0ZM501.1 730.9a1.6 1.6 0 1 0 0.01 0ZM627.4 857a1.4 1.4 0 1 0 0.01 0ZM562.6 825.5a1.8 1.8 0 1 0 0.01 0ZM573.6 864.8a1.8 1.8 0 1 0 0.01 0ZM426.2 696.8a2 2 0 1 0 0.01 0ZM452.9 802.4a1.6 1.6 0 1 0 0.01 0ZM493.7 802.5a1.8 1.8 0 1 0 0.01 0ZM492.5 799.6a2 2 0 1 0 0.01 0ZM494.5 796.5a1.4 1.4 0 1 0 0.01 0ZM712.3 909.8a1.4 1.4 0 1 0 0.01 0ZM440 866.3a1.6 1.6 0 1 0 0.01 0ZM440.4 863.2a2 2 0 1 0 0.01 0ZM441.9 860.6a1.4 1.4 0 1 0 0.01 0ZM496.7 725.4a2 2 0 1 0 0.01 0ZM594.3 854.3a1.4 1.4 0 1 0 0.01 0ZM592.8 791.7a1.6 1.6 0 1 0 0.01 0ZM593.5 794.3a1.6 1.6 0 1 0 0.01 0ZM593.3 797.6a1.8 1.8 0 1 0 0.01 0ZM449.5 749.8a1.6 1.6 0 1 0 0.01 0ZM452.2 750.8a1.4 1.4 0 1 0 0.01 0ZM596.3 764.6a1.6 1.6 0 1 0 0.01 0ZM527.3 716.9a1.6 1.6 0 1 0 0.01 0ZM524.6 715.2a1.4 1.4 0 1 0 0.01 0ZM515.2 740.7a1.4 1.4 0 1 0 0.01 0ZM516.6 739a2 2 0 1 0 0.01 0ZM520.4 740.2a1.4 1.4 0 1 0 0.01 0ZM570.9 813.6a1.8 1.8 0 1 0 0.01 0ZM569.7 816.6a1.8 1.8 0 1 0 0.01 0ZM514.7 906.4a1.6 1.6 0 1 0 0.01 0ZM486 698.4a2 2 0 1 0 0.01 0ZM489.1 844.1a1.8 1.8 0 1 0 0.01 0ZM634.5 869.6a2 2 0 1 0 0.01 0ZM632.6 868.1a1.6 1.6 0 1 0 0.01 0ZM426.9 614.3a1.6 1.6 0 1 0 0.01 0ZM489.5 746.7a2 2 0 1 0 0.01 0ZM428.8 904.1a1.4 1.4 0 1 0 0.01 0ZM496.8 839.2a1.6 1.6 0 1 0 0.01 0ZM499.7 839.8a1.8 1.8 0 1 0 0.01 0ZM502.4 838.2a1.6 1.6 0 1 0 0.01 0ZM459 726.2a1.8 1.8 0 1 0 0.01 0ZM445.3 721.3a1.4 1.4 0 1 0 0.01 0ZM448.5 720.4a1.4 1.4 0 1 0 0.01 0ZM482.2 783.6a1.6 1.6 0 1 0 0.01 0ZM628.3 840.7a2 2 0 1 0 0.01 0ZM517.4 784.2a1.8 1.8 0 1 0 0.01 0ZM683.9 892.7a1.8 1.8 0 1 0 0.01 0ZM478.1 674.2a2 2 0 1 0 0.01 0ZM480.4 672.6a2 2 0 1 0 0.01 0ZM482 670a1.8 1.8 0 1 0 0.01 0ZM475.7 721.1a1.4 1.4 0 1 0 0.01 0ZM472.3 719.9a2 2 0 1 0 0.01 0ZM642 895.5a1.4 1.4 0 1 0 0.01 0ZM504.7 722.3a1.6 1.6 0 1 0 0.01 0ZM505.1 725.2a2 2 0 1 0 0.01 0ZM466.7 865.1a1.6 1.6 0 1 0 0.01 0ZM466.5 867.7a1.6 1.6 0 1 0 0.01 0ZM468.1 869.9a1.8 1.8 0 1 0 0.01 0ZM643 837.8a2 2 0 1 0 0.01 0ZM645.8 839.5a1.4 1.4 0 1 0 0.01 0ZM575.4 779.1a2 2 0 1 0 0.01 0ZM599.2 789.8a1.4 1.4 0 1 0 0.01 0ZM492.9 825.3a1.4 1.4 0 1 0 0.01 0ZM524.9 791.8a1.8 1.8 0 1 0 0.01 0ZM489 725.7a1.6 1.6 0 1 0 0.01 0ZM431.2 636.3a1.4 1.4 0 1 0 0.01 0ZM433.4 637.8a1.4 1.4 0 1 0 0.01 0ZM434.5 640.4a2 2 0 1 0 0.01 0ZM674.4 850.6a1.4 1.4 0 1 0 0.01 0ZM671.3 849.2a1.8 1.8 0 1 0 0.01 0ZM450.1 687.8a1.8 1.8 0 1 0 0.01 0ZM448.8 685.5a1.6 1.6 0 1 0 0.01 0ZM460.8 643.7a2 2 0 1 0 0.01 0ZM612.6 848.5a1.8 1.8 0 1 0 0.01 0ZM612.8 851.7a1.8 1.8 0 1 0 0.01 0ZM585.3 840.8a1.6 1.6 0 1 0 0.01 0ZM583 842.6a1.6 1.6 0 1 0 0.01 0ZM600.1 827.8a2 2 0 1 0 0.01 0ZM602.1 825.3a1.4 1.4 0 1 0 0.01 0ZM677.7 882.2a1.8 1.8 0 1 0 0.01 0ZM500 887.5a2 2 0 1 0 0.01 0ZM503.3 886.5a2 2 0 1 0 0.01 0ZM506.5 885a1.8 1.8 0 1 0 0.01 0ZM487.7 813a1.6 1.6 0 1 0 0.01 0ZM537.4 760.8a1.6 1.6 0 1 0 0.01 0ZM470.7 872.4a1.4 1.4 0 1 0 0.01 0ZM470.8 869.5a2 2 0 1 0 0.01 0ZM469.8 866.5a1.6 1.6 0 1 0 0.01 0ZM699.9 870.9a1.6 1.6 0 1 0 0.01 0ZM699.8 867.7a1.8 1.8 0 1 0 0.01 0ZM521.7 860.5a1.8 1.8 0 1 0 0.01 0ZM523.7 857.9a1.8 1.8 0 1 0 0.01 0ZM524.9 854.6a1.4 1.4 0 1 0 0.01 0ZM611.6 782.2a1.4 1.4 0 1 0 0.01 0ZM608 782.7a2 2 0 1 0 0.01 0ZM488.7 702.4a2 2 0 1 0 0.01 0ZM642.5 810.1a2 2 0 1 0 0.01 0ZM532.2 881a1.6 1.6 0 1 0 0.01 0ZM532 884.2a2 2 0 1 0 0.01 0ZM622.9 911.1a1.8 1.8 0 1 0 0.01 0ZM620.1 910a1.4 1.4 0 1 0 0.01 0ZM492.9 909.4a2 2 0 1 0 0.01 0ZM435.7 772.1a2 2 0 1 0 0.01 0ZM432.8 771.9a1.8 1.8 0 1 0 0.01 0ZM436.8 656a1.8 1.8 0 1 0 0.01 0ZM436.3 812a1.6 1.6 0 1 0 0.01 0ZM516.5 803.4a1.8 1.8 0 1 0 0.01 0ZM573.2 863.3a1.8 1.8 0 1 0 0.01 0ZM570.3 863.7a2 2 0 1 0 0.01 0ZM639.5 904.5a1.8 1.8 0 1 0 0.01 0ZM659.2 873.5a1.8 1.8 0 1 0 0.01 0ZM656.1 873.9a2 2 0 1 0 0.01 0ZM653.1 874.8a2 2 0 1 0 0.01 0ZM639.3 901.3a1.4 1.4 0 1 0 0.01 0ZM636 902.4a1.6 1.6 0 1 0 0.01 0ZM458.2 817.2a1.6 1.6 0 1 0 0.01 0ZM461.3 816.7a1.6 1.6 0 1 0 0.01 0ZM574.1 881.2a1.8 1.8 0 1 0 0.01 0ZM575.3 878.6a1.8 1.8 0 1 0 0.01 0ZM632.7 898.2a1.8 1.8 0 1 0 0.01 0ZM629.4 897.2a2 2 0 1 0 0.01 0ZM546.1 852.8a1.8 1.8 0 1 0 0.01 0ZM658.6 841.1a2 2 0 1 0 0.01 0ZM491.9 722.1a1.8 1.8 0 1 0 0.01 0ZM577.3 755.6a1.8 1.8 0 1 0 0.01 0ZM529.6 744.4a1.4 1.4 0 1 0 0.01 0ZM529.8 741.8a1.8 1.8 0 1 0 0.01 0ZM673.3 880.7a1.4 1.4 0 1 0 0.01 0ZM676.2 881.2a1.8 1.8 0 1 0 0.01 0ZM678.2 878.7a1.8 1.8 0 1 0 0.01 0ZM650.1 846.5a1.8 1.8 0 1 0 0.01 0ZM652.7 847.9a1.6 1.6 0 1 0 0.01 0ZM494.5 804a1.4 1.4 0 1 0 0.01 0ZM495.9 801.8a1.6 1.6 0 1 0 0.01 0ZM495.5 798.9a1.4 1.4 0 1 0 0.01 0ZM431.5 865.5a1.8 1.8 0 1 0 0.01 0ZM463.7 770.2a1.6 1.6 0 1 0 0.01 0ZM461 770.4a1.4 1.4 0 1 0 0.01 0ZM458.2 771.7a1.8 1.8 0 1 0 0.01 0ZM524.5 825.7a1.4 1.4 0 1 0 0.01 0ZM496.3 839.3a1.4 1.4 0 1 0 0.01 0ZM497.6 837.2a1.6 1.6 0 1 0 0.01 0ZM552 799.3a2 2 0 1 0 0.01 0ZM551.9 802.4a1.8 1.8 0 1 0 0.01 0ZM557 788.9a1.6 1.6 0 1 0 0.01 0ZM524.1 712.3a2 2 0 1 0 0.01 0ZM489.7 813.9a1.6 1.6 0 1 0 0.01 0ZM538.7 892.1a2 2 0 1 0 0.01 0ZM495.9 888.5a2 2 0 1 0 0.01 0ZM494.5 886.3a1.4 1.4 0 1 0 0.01 0ZM491.1 885.5a2 2 0 1 0 0.01 0ZM455.4 817.7a1.8 1.8 0 1 0 0.01 0ZM549.9 863.6a1.6 1.6 0 1 0 0.01 0ZM547.9 861.7a1.4 1.4 0 1 0 0.01 0ZM551.2 887.1a1.6 1.6 0 1 0 0.01 0ZM439.6 768.9a1.4 1.4 0 1 0 0.01 0ZM436.9 770.6a2 2 0 1 0 0.01 0ZM670.2 834.4a1.8 1.8 0 1 0 0.01 0ZM547.1 781.4a1.8 1.8 0 1 0 0.01 0ZM545.5 779.4a1.6 1.6 0 1 0 0.01 0ZM458.4 725.6a1.6 1.6 0 1 0 0.01 0ZM554.5 851.3a2 2 0 1 0 0.01 0ZM452.1 860.8a1.6 1.6 0 1 0 0.01 0ZM570.3 822.5a2 2 0 1 0 0.01 0ZM645.2 845.7a2 2 0 1 0 0.01 0ZM642.2 846.3a2 2 0 1 0 0.01 0ZM425.9 656.4a1.8 1.8 0 1 0 0.01 0ZM504.9 727.4a1.6 1.6 0 1 0 0.01 0ZM503.2 724.8a1.4 1.4 0 1 0 0.01 0ZM500.2 725.4a1.8 1.8 0 1 0 0.01 0ZM675.1 898a2 2 0 1 0 0.01 0ZM709.3 885.5a2 2 0 1 0 0.01 0ZM500.7 740.1a1.6 1.6 0 1 0 0.01 0ZM568.7 783a2 2 0 1 0 0.01 0ZM569.4 785.5a1.6 1.6 0 1 0 0.01 0ZM470.9 703.9a2 2 0 1 0 0.01 0ZM466.1 912.9a1.6 1.6 0 1 0 0.01 0ZM468.5 912.2a1.8 1.8 0 1 0 0.01 0ZM476.3 810.6a2 2 0 1 0 0.01 0ZM477.6 813a2 2 0 1 0 0.01 0ZM504.6 848.5a1.4 1.4 0 1 0 0.01 0ZM502 846.8a1.8 1.8 0 1 0 0.01 0ZM498.8 847.5a2 2 0 1 0 0.01 0ZM688.4 891.6a2 2 0 1 0 0.01 0ZM496 740.7a1.6 1.6 0 1 0 0.01 0ZM497 737.7a1.8 1.8 0 1 0 0.01 0ZM513 711.5a1.4 1.4 0 1 0 0.01 0ZM515.5 713.2a1.8 1.8 0 1 0 0.01 0ZM461.4 775.8a2 2 0 1 0 0.01 0ZM538.6 766.5a1.6 1.6 0 1 0 0.01 0ZM627.8 799.6a1.6 1.6 0 1 0 0.01 0ZM626.3 801.8a1.6 1.6 0 1 0 0.01 0ZM622.8 801.8a2 2 0 1 0 0.01 0ZM567.8 761.4a1.4 1.4 0 1 0 0.01 0ZM457.6 867.5a1.6 1.6 0 1 0 0.01 0ZM455.1 865.3a2 2 0 1 0 0.01 0ZM462.6 791.9a1.8 1.8 0 1 0 0.01 0ZM465.4 790.8a1.4 1.4 0 1 0 0.01 0ZM492.8 795.9a1.8 1.8 0 1 0 0.01 0ZM579.7 819.4a1.8 1.8 0 1 0 0.01 0ZM581.7 817.5a2 2 0 1 0 0.01 0ZM584.3 815.9a2 2 0 1 0 0.01 0ZM546.1 794.6a1.4 1.4 0 1 0 0.01 0ZM472.7 836.5a2 2 0 1 0 0.01 0ZM474.1 833.9a1.8 1.8 0 1 0 0.01 0ZM581.7 800.2a1.6 1.6 0 1 0 0.01 0ZM541.5 892.6a1.6 1.6 0 1 0 0.01 0ZM540.2 895.3a1.8 1.8 0 1 0 0.01 0ZM537.5 896.9a1.8 1.8 0 1 0 0.01 0ZM545 813.5a1.8 1.8 0 1 0 0.01 0ZM543.1 811.2a1.8 1.8 0 1 0 0.01 0ZM540.7 811.2a1.4 1.4 0 1 0 0.01 0ZM449.9 912.4a1.8 1.8 0 1 0 0.01 0ZM460.1 775.2a1.4 1.4 0 1 0 0.01 0ZM682.6 864.9a2 2 0 1 0 0.01 0ZM683.7 867.6a1.6 1.6 0 1 0 0.01 0ZM561.3 885.9a2 2 0 1 0 0.01 0ZM561.5 888.7a2 2 0 1 0 0.01 0ZM560.7 891.1a1.6 1.6 0 1 0 0.01 0ZM633.6 858.7a1.6 1.6 0 1 0 0.01 0ZM605.4 836.6a1.8 1.8 0 1 0 0.01 0ZM602.6 836.3a1.6 1.6 0 1 0 0.01 0ZM597.5 837.1a1.6 1.6 0 1 0 0.01 0ZM600.8 836.9a1.6 1.6 0 1 0 0.01 0ZM457.4 695.4a2 2 0 1 0 0.01 0ZM428.8 905.7a1.8 1.8 0 1 0 0.01 0ZM428.7 908.3a1.4 1.4 0 1 0 0.01 0ZM449 911.4a1.6 1.6 0 1 0 0.01 0ZM452 911.7a1.6 1.6 0 1 0 0.01 0ZM429.4 812.4a1.8 1.8 0 1 0 0.01 0ZM511.1 802.7a1.4 1.4 0 1 0 0.01 0ZM524.1 830.7a1.6 1.6 0 1 0 0.01 0ZM522.4 828.7a1.4 1.4 0 1 0 0.01 0ZM511.5 848.9a1.4 1.4 0 1 0 0.01 0ZM525.9 868.5a1.6 1.6 0 1 0 0.01 0ZM685 910.1a1.8 1.8 0 1 0 0.01 0ZM685.4 907.5a2 2 0 1 0 0.01 0ZM676.4 913.4a1.8 1.8 0 1 0 0.01 0ZM526.4 903.9a2 2 0 1 0 0.01 0ZM525 905.7a1.4 1.4 0 1 0 0.01 0ZM522.7 907.5a1.6 1.6 0 1 0 0.01 0ZM622.5 798.2a1.6 1.6 0 1 0 0.01 0ZM692.9 907.8a1.8 1.8 0 1 0 0.01 0ZM695.8 907.8a2 2 0 1 0 0.01 0ZM442.7 834a2 2 0 1 0 0.01 0ZM593.7 879.9a1.4 1.4 0 1 0 0.01 0ZM436.3 886.4a1.6 1.6 0 1 0 0.01 0ZM435 883.6a1.6 1.6 0 1 0 0.01 0ZM432.6 882a1.8 1.8 0 1 0 0.01 0ZM479.3 899a1.8 1.8 0 1 0 0.01 0ZM653.9 815.6a1.4 1.4 0 1 0 0.01 0ZM438.4 744.5a1.8 1.8 0 1 0 0.01 0ZM434.5 741.1a2 2 0 1 0 0.01 0ZM642.1 814.5a1.4 1.4 0 1 0 0.01 0ZM644.4 812.6a1.6 1.6 0 1 0 0.01 0ZM646.5 811.1a2 2 0 1 0 0.01 0ZM568.8 770.7a1.6 1.6 0 1 0 0.01 0ZM539.3 733.2a1.4 1.4 0 1 0 0.01 0ZM540.7 735.5a1.6 1.6 0 1 0 0.01 0ZM463.9 721.5a2 2 0 1 0 0.01 0ZM493 749.9a1.4 1.4 0 1 0 0.01 0ZM601 897.8a1.6 1.6 0 1 0 0.01 0ZM649 899.1a1.4 1.4 0 1 0 0.01 0ZM646.4 901.4a2 2 0 1 0 0.01 0ZM471.6 648.8a2 2 0 1 0 0.01 0ZM473.5 651.9a1.6 1.6 0 1 0 0.01 0ZM476.1 651.9a1.8 1.8 0 1 0 0.01 0ZM472.9 721.6a1.8 1.8 0 1 0 0.01 0ZM562 902.1a1.8 1.8 0 1 0 0.01 0ZM483.1 837.4a1.8 1.8 0 1 0 0.01 0ZM657.5 829.2a1.6 1.6 0 1 0 0.01 0ZM505.6 888.6a2 2 0 1 0 0.01 0ZM508.9 888.8a1.6 1.6 0 1 0 0.01 0ZM678.8 860.3a2 2 0 1 0 0.01 0ZM676.4 861.1a1.4 1.4 0 1 0 0.01 0ZM579.8 900.1a1.8 1.8 0 1 0 0.01 0ZM583 900.1a1.6 1.6 0 1 0 0.01 0ZM499.9 743.1a2 2 0 1 0 0.01 0ZM448.1 749.3a1.6 1.6 0 1 0 0.01 0ZM450.5 747.8a1.6 1.6 0 1 0 0.01 0ZM440 696.5a2 2 0 1 0 0.01 0ZM441.3 699.4a2 2 0 1 0 0.01 0ZM441.8 702.1a1.4 1.4 0 1 0 0.01 0ZM460.2 873.8a1.6 1.6 0 1 0 0.01 0ZM458 876.3a1.6 1.6 0 1 0 0.01 0ZM430.7 721.5a2 2 0 1 0 0.01 0ZM682.9 888.5a1.6 1.6 0 1 0 0.01 0ZM685.7 887.7a1.8 1.8 0 1 0 0.01 0ZM671.3 873.3a1.4 1.4 0 1 0 0.01 0ZM699 909.9a2 2 0 1 0 0.01 0ZM700.3 912.8a2 2 0 1 0 0.01 0ZM681 842.3a2 2 0 1 0 0.01 0ZM679.8 844.2a1.4 1.4 0 1 0 0.01 0ZM517.5 761.8a1.6 1.6 0 1 0 0.01 0ZM667.3 878.2a2 2 0 1 0 0.01 0ZM683 883.1a1.6 1.6 0 1 0 0.01 0ZM680.7 886a2 2 0 1 0 0.01 0ZM678.4 885.5a1.4 1.4 0 1 0 0.01 0ZM679 874.9a1.6 1.6 0 1 0 0.01 0ZM681.9 875.3a2 2 0 1 0 0.01 0ZM532.8 794.2a1.4 1.4 0 1 0 0.01 0ZM534.1 791.4a1.4 1.4 0 1 0 0.01 0ZM504.6 753a1.8 1.8 0 1 0 0.01 0ZM440.4 875.8a1.6 1.6 0 1 0 0.01 0ZM438.4 873.6a1.4 1.4 0 1 0 0.01 0ZM620.7 863.5a2 2 0 1 0 0.01 0ZM618.5 862.7a1.6 1.6 0 1 0 0.01 0ZM441.2 771.6a1.6 1.6 0 1 0 0.01 0ZM451.2 845.1a1.6 1.6 0 1 0 0.01 0ZM448.1 845.6a1.8 1.8 0 1 0 0.01 0ZM626.6 887.9a1.8 1.8 0 1 0 0.01 0ZM514.6 876.6a1.6 1.6 0 1 0 0.01 0ZM517.3 876.5a1.8 1.8 0 1 0 0.01 0ZM704 909.3a1.4 1.4 0 1 0 0.01 0ZM706.5 908.4a1.8 1.8 0 1 0 0.01 0ZM709.4 908.6a1.6 1.6 0 1 0 0.01 0ZM487.2 845.4a1.8 1.8 0 1 0 0.01 0ZM511.6 705.4a1.8 1.8 0 1 0 0.01 0ZM511.5 708.4a2 2 0 1 0 0.01 0ZM485.7 710a2 2 0 1 0 0.01 0ZM670.5 879.4a1.8 1.8 0 1 0 0.01 0ZM669.4 881.6a1.4 1.4 0 1 0 0.01 0ZM669.6 884.5a1.6 1.6 0 1 0 0.01 0ZM477.6 806.1a1.8 1.8 0 1 0 0.01 0ZM480.4 804.8a1.8 1.8 0 1 0 0.01 0ZM653 904a1.4 1.4 0 1 0 0.01 0ZM654.1 901.8a1.8 1.8 0 1 0 0.01 0ZM523 764a1.6 1.6 0 1 0 0.01 0ZM521.3 760.8a2 2 0 1 0 0.01 0ZM673.6 867.5a1.8 1.8 0 1 0 0.01 0ZM440.4 831.2a1.4 1.4 0 1 0 0.01 0ZM442.7 831.8a2 2 0 1 0 0.01 0ZM445.9 833a1.6 1.6 0 1 0 0.01 0ZM470.5 669.7a2 2 0 1 0 0.01 0ZM459.4 801a1.8 1.8 0 1 0 0.01 0ZM490.2 767.1a1.4 1.4 0 1 0 0.01 0ZM428.7 712.1a1.4 1.4 0 1 0 0.01 0ZM425.8 712.9a1.6 1.6 0 1 0 0.01 0ZM488.1 763.5a1.8 1.8 0 1 0 0.01 0ZM488.7 760.7a2 2 0 1 0 0.01 0ZM537.4 846.1a1.4 1.4 0 1 0 0.01 0ZM538 843.6a2 2 0 1 0 0.01 0ZM471.7 774.7a1.4 1.4 0 1 0 0.01 0ZM474.4 774.6a1.8 1.8 0 1 0 0.01 0ZM499.7 830.8a2 2 0 1 0 0.01 0ZM445.1 719.2a2 2 0 1 0 0.01 0ZM437.2 730.5a1.4 1.4 0 1 0 0.01 0ZM438.5 732.9a2 2 0 1 0 0.01 0ZM618.7 835.8a1.4 1.4 0 1 0 0.01 0ZM442.9 690a1.6 1.6 0 1 0 0.01 0ZM440.8 688.4a1.6 1.6 0 1 0 0.01 0ZM557.5 893.7a1.8 1.8 0 1 0 0.01 0ZM559.6 892.1a1.8 1.8 0 1 0 0.01 0ZM561.6 889.6a1.6 1.6 0 1 0 0.01 0ZM624.3 815.6a2 2 0 1 0 0.01 0ZM625.5 818.8a1.4 1.4 0 1 0 0.01 0ZM677.7 858.6a1.8 1.8 0 1 0 0.01 0ZM676.5 856.3a1.4 1.4 0 1 0 0.01 0ZM683 887.3a1.4 1.4 0 1 0 0.01 0ZM448.2 906.5a1.4 1.4 0 1 0 0.01 0ZM577.3 857.9a2 2 0 1 0 0.01 0ZM581 856.7a1.4 1.4 0 1 0 0.01 0ZM450.1 864.5a2 2 0 1 0 0.01 0ZM447.1 865.5a2 2 0 1 0 0.01 0ZM639.7 884.2a1.6 1.6 0 1 0 0.01 0ZM480.9 728.1a1.6 1.6 0 1 0 0.01 0ZM478.1 726.2a1.6 1.6 0 1 0 0.01 0ZM475.4 726.7a1.6 1.6 0 1 0 0.01 0ZM449 690.7a1.8 1.8 0 1 0 0.01 0ZM538.4 832.9a1.8 1.8 0 1 0 0.01 0ZM432.5 822a1.6 1.6 0 1 0 0.01 0ZM429.6 823.7a2 2 0 1 0 0.01 0ZM440.8 859.3a1.6 1.6 0 1 0 0.01 0ZM516.3 778.9a1.8 1.8 0 1 0 0.01 0ZM445.9 630.3a1.8 1.8 0 1 0 0.01 0ZM446.6 627.2a2 2 0 1 0 0.01 0ZM437.8 709.3a1.8 1.8 0 1 0 0.01 0ZM706.5 891.8a1.8 1.8 0 1 0 0.01 0ZM706.6 888.4a2 2 0 1 0 0.01 0ZM512.7 862.3a1.4 1.4 0 1 0 0.01 0ZM529.8 839.7a1.4 1.4 0 1 0 0.01 0ZM474.8 879.1a2 2 0 1 0 0.01 0ZM476.3 877a2 2 0 1 0 0.01 0ZM478.2 874a1.6 1.6 0 1 0 0.01 0ZM459 764.6a2 2 0 1 0 0.01 0ZM479.1 870.2a2 2 0 1 0 0.01 0ZM479.1 867.5a1.4 1.4 0 1 0 0.01 0ZM526.1 720.5a2 2 0 1 0 0.01 0ZM525.9 723.7a1.4 1.4 0 1 0 0.01 0ZM527.5 725.6a2 2 0 1 0 0.01 0ZM431.7 688a1.4 1.4 0 1 0 0.01 0ZM433.1 686.1a2 2 0 1 0 0.01 0ZM436.1 686.4a1.8 1.8 0 1 0 0.01 0ZM544.8 832.8a1.6 1.6 0 1 0 0.01 0ZM642.5 863.6a1.6 1.6 0 1 0 0.01 0ZM505.5 818.2a2 2 0 1 0 0.01 0ZM503.7 819.8a1.6 1.6 0 1 0 0.01 0ZM501.1 820.6a1.4 1.4 0 1 0 0.01 0ZM475.9 873.6a1.4 1.4 0 1 0 0.01 0ZM604 814.1a1.4 1.4 0 1 0 0.01 0ZM551.6 837.5a2 2 0 1 0 0.01 0ZM554 835.5a1.6 1.6 0 1 0 0.01 0ZM539.7 762.1a1.8 1.8 0 1 0 0.01 0ZM539.3 759.3a1.6 1.6 0 1 0 0.01 0ZM670.8 881.2a1.4 1.4 0 1 0 0.01 0ZM669.9 878.4a1.6 1.6 0 1 0 0.01 0ZM613.9 786.8a1.8 1.8 0 1 0 0.01 0ZM616.4 787.8a2 2 0 1 0 0.01 0ZM428.6 841.6a2 2 0 1 0 0.01 0ZM643.9 866.4a1.8 1.8 0 1 0 0.01 0ZM518.5 729.7a1.4 1.4 0 1 0 0.01 0ZM592.3 882.8a1.4 1.4 0 1 0 0.01 0ZM594.4 883.6a2 2 0 1 0 0.01 0ZM597.6 883.5a1.8 1.8 0 1 0 0.01 0ZM449.9 811.2a1.8 1.8 0 1 0 0.01 0ZM452.4 811.2a2 2 0 1 0 0.01 0ZM460.3 805.4a2 2 0 1 0 0.01 0ZM655.5 905.1a1.6 1.6 0 1 0 0.01 0ZM608.3 883.5a1.8 1.8 0 1 0 0.01 0ZM608.9 886.3a1.6 1.6 0 1 0 0.01 0ZM437 793.2a1.4 1.4 0 1 0 0.01 0ZM469.4 890.6a1.4 1.4 0 1 0 0.01 0ZM550.9 897.6a1.8 1.8 0 1 0 0.01 0ZM461.2 723.3a2 2 0 1 0 0.01 0ZM459.5 726.1a2 2 0 1 0 0.01 0ZM604.7 867.9a2 2 0 1 0 0.01 0ZM603.8 870.2a1.8 1.8 0 1 0 0.01 0ZM435.9 774.5a1.6 1.6 0 1 0 0.01 0ZM695.3 894.2a1.4 1.4 0 1 0 0.01 0ZM439.4 889.8a1.4 1.4 0 1 0 0.01 0ZM566.9 885.5a1.6 1.6 0 1 0 0.01 0ZM565.1 888.2a1.4 1.4 0 1 0 0.01 0ZM447.1 816a1.6 1.6 0 1 0 0.01 0ZM515.4 801.3a2 2 0 1 0 0.01 0ZM499.6 718.4a1.8 1.8 0 1 0 0.01 0ZM498.4 720.7a1.6 1.6 0 1 0 0.01 0ZM538.9 796.3a1.6 1.6 0 1 0 0.01 0ZM578.4 837.4a1.4 1.4 0 1 0 0.01 0ZM580.8 837a1.6 1.6 0 1 0 0.01 0ZM584.2 837.6a1.4 1.4 0 1 0 0.01 0ZM595.3 818.5a1.4 1.4 0 1 0 0.01 0ZM592.4 817a1.8 1.8 0 1 0 0.01 0ZM588.5 795.7a1.6 1.6 0 1 0 0.01 0ZM426.2 671.5a1.8 1.8 0 1 0 0.01 0ZM427.9 669.7a2 2 0 1 0 0.01 0ZM430.5 668.5a2 2 0 1 0 0.01 0ZM527.3 888.6a1.6 1.6 0 1 0 0.01 0ZM530 889.4a1.4 1.4 0 1 0 0.01 0ZM532.8 888.7a1.4 1.4 0 1 0 0.01 0ZM626.7 864.6a1.4 1.4 0 1 0 0.01 0ZM629.5 864.2a1.6 1.6 0 1 0 0.01 0ZM687.9 863.9a1.6 1.6 0 1 0 0.01 0ZM666.3 912.4a1.8 1.8 0 1 0 0.01 0ZM668.8 911.3a2 2 0 1 0 0.01 0ZM474.8 821.5a1.6 1.6 0 1 0 0.01 0ZM538.9 727.7a2 2 0 1 0 0.01 0ZM658.6 895.7a1.8 1.8 0 1 0 0.01 0ZM424.9 676.9a1.8 1.8 0 1 0 0.01 0ZM427.7 678.4a1.4 1.4 0 1 0 0.01 0ZM427.9 838.5a1.6 1.6 0 1 0 0.01 0ZM426.3 835.6a1.8 1.8 0 1 0 0.01 0ZM425.7 832.5a1.8 1.8 0 1 0 0.01 0ZM675.2 882.8a1.4 1.4 0 1 0 0.01 0ZM428.9 828.9a1.6 1.6 0 1 0 0.01 0ZM687.9 891.6a1.8 1.8 0 1 0 0.01 0ZM510.9 898.8a1.8 1.8 0 1 0 0.01 0ZM644.2 883.5a2 2 0 1 0 0.01 0ZM647 881.9a1.8 1.8 0 1 0 0.01 0ZM464.1 900.3a2 2 0 1 0 0.01 0ZM467 900.9a1.6 1.6 0 1 0 0.01 0ZM467.5 904.1a1.8 1.8 0 1 0 0.01 0ZM694 893a2 2 0 1 0 0.01 0ZM557.5 890.3a1.8 1.8 0 1 0 0.01 0ZM623.8 864.2a1.4 1.4 0 1 0 0.01 0ZM620.7 864.4a1.8 1.8 0 1 0 0.01 0ZM562.8 877.3a2 2 0 1 0 0.01 0ZM565.9 878.1a1.6 1.6 0 1 0 0.01 0ZM590 754.3a1.6 1.6 0 1 0 0.01 0ZM593.4 754.5a1.6 1.6 0 1 0 0.01 0ZM580.2 902.9a2 2 0 1 0 0.01 0ZM506.6 772.4a1.4 1.4 0 1 0 0.01 0ZM467.7 772.9a1.4 1.4 0 1 0 0.01 0ZM464.9 772.2a1.4 1.4 0 1 0 0.01 0ZM613.7 787a1.4 1.4 0 1 0 0.01 0ZM469.7 685a1.8 1.8 0 1 0 0.01 0ZM470 681.8a2 2 0 1 0 0.01 0ZM705.7 867.8a1.4 1.4 0 1 0 0.01 0ZM705.4 864.8a1.8 1.8 0 1 0 0.01 0ZM708.4 863.1a1.4 1.4 0 1 0 0.01 0ZM584.9 862.2a1.8 1.8 0 1 0 0.01 0ZM542.8 828.9a1.6 1.6 0 1 0 0.01 0ZM659.5 905.6a1.4 1.4 0 1 0 0.01 0ZM661.5 903.9a2 2 0 1 0 0.01 0ZM614.3 843.1a1.6 1.6 0 1 0 0.01 0ZM450.2 695.4a1.6 1.6 0 1 0 0.01 0ZM452.4 697.5a2 2 0 1 0 0.01 0ZM431.9 885.9a1.6 1.6 0 1 0 0.01 0ZM433 888.4a1.8 1.8 0 1 0 0.01 0ZM631.4 811.6a1.6 1.6 0 1 0 0.01 0ZM628.1 812.3a2 2 0 1 0 0.01 0ZM627.3 814.8a1.4 1.4 0 1 0 0.01 0ZM573.7 815.3a1.4 1.4 0 1 0 0.01 0ZM435.3 899.6a1.8 1.8 0 1 0 0.01 0ZM437.7 898a2 2 0 1 0 0.01 0ZM498.1 799.7a1.4 1.4 0 1 0 0.01 0ZM500.7 801.2a1.4 1.4 0 1 0 0.01 0ZM503.7 802.2a1.6 1.6 0 1 0 0.01 0ZM516.6 841.2a1.8 1.8 0 1 0 0.01 0ZM517.6 844a1.4 1.4 0 1 0 0.01 0ZM529.7 868.6a2 2 0 1 0 0.01 0ZM530.6 865.5a1.8 1.8 0 1 0 0.01 0ZM533.8 865.1a1.4 1.4 0 1 0 0.01 0ZM619 804.8a2 2 0 1 0 0.01 0ZM621.4 802.7a1.6 1.6 0 1 0 0.01 0ZM623.7 800.2a1.6 1.6 0 1 0 0.01 0ZM570 870a2 2 0 1 0 0.01 0ZM443.8 739.8a1.4 1.4 0 1 0 0.01 0ZM444.9 737.3a2 2 0 1 0 0.01 0ZM657.6 879.4a2 2 0 1 0 0.01 0ZM660.8 879a1.8 1.8 0 1 0 0.01 0ZM525.8 756.5a1.4 1.4 0 1 0 0.01 0ZM472.2 798.6a2 2 0 1 0 0.01 0ZM474.1 801a2 2 0 1 0 0.01 0ZM582.8 827.6a1.6 1.6 0 1 0 0.01 0ZM583.8 825a1.4 1.4 0 1 0 0.01 0ZM583 822.1a1.4 1.4 0 1 0 0.01 0ZM573.3 830.5a2 2 0 1 0 0.01 0ZM576.1 830.2a1.8 1.8 0 1 0 0.01 0ZM455.9 673.8a2 2 0 1 0 0.01 0ZM458.7 673a1.8 1.8 0 1 0 0.01 0ZM461.9 672.3a1.8 1.8 0 1 0 0.01 0ZM540 748.9a1.4 1.4 0 1 0 0.01 0ZM536.6 749.6a1.8 1.8 0 1 0 0.01 0ZM658.7 908.3a1.8 1.8 0 1 0 0.01 0ZM545.3 752a1.4 1.4 0 1 0 0.01 0ZM466.7 733.2a1.6 1.6 0 1 0 0.01 0ZM458.5 627.5a1.8 1.8 0 1 0 0.01 0ZM471.7 716.7a2 2 0 1 0 0.01 0ZM473.9 718.6a1.6 1.6 0 1 0 0.01 0ZM706.5 866.5a1.6 1.6 0 1 0 0.01 0ZM431.6 795.9a1.8 1.8 0 1 0 0.01 0ZM433.3 793.3a1.8 1.8 0 1 0 0.01 0ZM584 809.1a2 2 0 1 0 0.01 0ZM587.2 810.4a1.8 1.8 0 1 0 0.01 0ZM548.9 825.2a1.6 1.6 0 1 0 0.01 0ZM503.1 784a1.6 1.6 0 1 0 0.01 0ZM560.4 865.8a1.8 1.8 0 1 0 0.01 0ZM434.8 876.5a1.8 1.8 0 1 0 0.01 0ZM432.1 874.9a2 2 0 1 0 0.01 0ZM433 871.9a1.6 1.6 0 1 0 0.01 0ZM653.7 871.3a2 2 0 1 0 0.01 0ZM559.5 796.3a1.4 1.4 0 1 0 0.01 0ZM557.1 798.4a1.6 1.6 0 1 0 0.01 0ZM452.9 759.1a1.6 1.6 0 1 0 0.01 0ZM454.2 761.6a2 2 0 1 0 0.01 0ZM455.4 764.8a1.6 1.6 0 1 0 0.01 0ZM459.1 890.4a1.4 1.4 0 1 0 0.01 0ZM458.6 893.6a2 2 0 1 0 0.01 0ZM460.9 827.7a1.6 1.6 0 1 0 0.01 0ZM462.9 829.6a1.8 1.8 0 1 0 0.01 0ZM463.4 832.8a1.6 1.6 0 1 0 0.01 0ZM462.4 695.9a1.4 1.4 0 1 0 0.01 0ZM652.4 838.2a1.8 1.8 0 1 0 0.01 0ZM653.4 841.5a1.4 1.4 0 1 0 0.01 0ZM549.4 876.1a2 2 0 1 0 0.01 0ZM605.6 884a2 2 0 1 0 0.01 0ZM607.9 886.1a2 2 0 1 0 0.01 0ZM506.7 729.1a1.8 1.8 0 1 0 0.01 0ZM563 763.2a1.4 1.4 0 1 0 0.01 0ZM443.6 721.8a2 2 0 1 0 0.01 0ZM484.7 784.8a2 2 0 1 0 0.01 0ZM482.8 786.9a1.6 1.6 0 1 0 0.01 0ZM672.9 859.3a2 2 0 1 0 0.01 0ZM499.3 732.3a1.6 1.6 0 1 0 0.01 0ZM509.9 905a2 2 0 1 0 0.01 0ZM561.3 830.1a1.4 1.4 0 1 0 0.01 0ZM452 872.1a1.4 1.4 0 1 0 0.01 0ZM466.9 722.7a1.4 1.4 0 1 0 0.01 0ZM649.1 897.2a1.8 1.8 0 1 0 0.01 0ZM693.9 864.8a1.6 1.6 0 1 0 0.01 0ZM598.7 784.3a2 2 0 1 0 0.01 0ZM585.3 786.3a1.8 1.8 0 1 0 0.01 0ZM584.6 789.2a1.6 1.6 0 1 0 0.01 0ZM536.9 900.8a2 2 0 1 0 0.01 0ZM532.4 727.3a1.8 1.8 0 1 0 0.01 0ZM432.5 837.6a1.6 1.6 0 1 0 0.01 0ZM433.6 840.6a1.6 1.6 0 1 0 0.01 0ZM431.2 842.3a2 2 0 1 0 0.01 0ZM477.1 713.4a1.4 1.4 0 1 0 0.01 0ZM674.1 893.5a1.4 1.4 0 1 0 0.01 0ZM440.9 764.6a1.6 1.6 0 1 0 0.01 0ZM567.9 779a2 2 0 1 0 0.01 0ZM566.1 780.8a2 2 0 1 0 0.01 0ZM563.9 783.4a2 2 0 1 0 0.01 0ZM511.8 770.9a1.6 1.6 0 1 0 0.01 0ZM436.7 711.7a1.8 1.8 0 1 0 0.01 0ZM439.2 712.5a1.8 1.8 0 1 0 0.01 0ZM676.5 849.2a1.4 1.4 0 1 0 0.01 0ZM674.4 851.6a1.6 1.6 0 1 0 0.01 0ZM673.6 854.5a1.4 1.4 0 1 0 0.01 0ZM540.9 877.6a1.8 1.8 0 1 0 0.01 0ZM541.6 880.6a1.6 1.6 0 1 0 0.01 0ZM428.6 653.4a1.6 1.6 0 1 0 0.01 0ZM487.4 892.8a2 2 0 1 0 0.01 0ZM684 870.8a1.8 1.8 0 1 0 0.01 0ZM682.2 873.4a1.4 1.4 0 1 0 0.01 0ZM547.4 839.6a1.6 1.6 0 1 0 0.01 0ZM480.1 675.1a1.4 1.4 0 1 0 0.01 0ZM627 888.2a1.6 1.6 0 1 0 0.01 0ZM626 885.7a1.6 1.6 0 1 0 0.01 0ZM623.7 883.4a1.8 1.8 0 1 0 0.01 0ZM446.4 805.1a1.6 1.6 0 1 0 0.01 0ZM428.7 621.8a1.4 1.4 0 1 0 0.01 0ZM435.2 753.7a1.6 1.6 0 1 0 0.01 0ZM624.5 882.1a2 2 0 1 0 0.01 0ZM627 884.3a1.6 1.6 0 1 0 0.01 0ZM588.6 798.7a1.8 1.8 0 1 0 0.01 0ZM586.5 820a1.8 1.8 0 1 0 0.01 0ZM452.6 882.7a1.4 1.4 0 1 0 0.01 0ZM450.5 880.5a1.4 1.4 0 1 0 0.01 0ZM447.5 879a2 2 0 1 0 0.01 0ZM487.8 729.1a2 2 0 1 0 0.01 0ZM521.2 882.4a1.8 1.8 0 1 0 0.01 0ZM522.1 885.3a2 2 0 1 0 0.01 0ZM525.8 885.4a1.4 1.4 0 1 0 0.01 0ZM668.8 839.6a1.6 1.6 0 1 0 0.01 0ZM667.8 842a1.4 1.4 0 1 0 0.01 0ZM645.5 820.1a1.8 1.8 0 1 0 0.01 0ZM648.3 819.3a2 2 0 1 0 0.01 0ZM627.3 817.6a1.6 1.6 0 1 0 0.01 0ZM614.1 814.7a2 2 0 1 0 0.01 0ZM617.3 816.3a1.6 1.6 0 1 0 0.01 0ZM618.2 818.7a1.8 1.8 0 1 0 0.01 0ZM433.9 804.1a1.6 1.6 0 1 0 0.01 0ZM428.9 720.6a2 2 0 1 0 0.01 0ZM506.3 882.2a1.4 1.4 0 1 0 0.01 0ZM503.4 883.4a1.6 1.6 0 1 0 0.01 0ZM502.7 886.5a1.4 1.4 0 1 0 0.01 0ZM595.7 794.8a1.4 1.4 0 1 0 0.01 0ZM597.4 793.2a1.8 1.8 0 1 0 0.01 0ZM560.1 903.1a1.8 1.8 0 1 0 0.01 0ZM558.2 905.4a1.6 1.6 0 1 0 0.01 0ZM658.2 862.7a2 2 0 1 0 0.01 0ZM599.7 911a2 2 0 1 0 0.01 0ZM712.4 890.5a1.8 1.8 0 1 0 0.01 0ZM481.5 801.3a1.8 1.8 0 1 0 0.01 0ZM479.5 799.1a1.4 1.4 0 1 0 0.01 0ZM500.1 766.5a2 2 0 1 0 0.01 0ZM502.7 768.5a2 2 0 1 0 0.01 0ZM601.2 897.5a1.4 1.4 0 1 0 0.01 0ZM603.3 895.6a1.4 1.4 0 1 0 0.01 0ZM427.5 761.6a1.6 1.6 0 1 0 0.01 0ZM428 800.4a2 2 0 1 0 0.01 0ZM515.3 772.2a1.6 1.6 0 1 0 0.01 0ZM512.6 769.9a1.8 1.8 0 1 0 0.01 0ZM512.5 766.8a2 2 0 1 0 0.01 0ZM460.7 912.3a1.8 1.8 0 1 0 0.01 0ZM507.4 884.4a1.8 1.8 0 1 0 0.01 0ZM509.1 887a1.8 1.8 0 1 0 0.01 0ZM441 792.9a1.8 1.8 0 1 0 0.01 0ZM443.7 794.2a1.4 1.4 0 1 0 0.01 0ZM504.5 758.2a1.6 1.6 0 1 0 0.01 0ZM545.9 846.5a1.4 1.4 0 1 0 0.01 0ZM543 845.3a1.6 1.6 0 1 0 0.01 0ZM719.5 882.1a1.8 1.8 0 1 0 0.01 0ZM719.1 879.2a1.6 1.6 0 1 0 0.01 0ZM443 839.2a1.4 1.4 0 1 0 0.01 0ZM572.1 789.3a2 2 0 1 0 0.01 0ZM461 809.9a1.6 1.6 0 1 0 0.01 0ZM464 811.1a1.4 1.4 0 1 0 0.01 0ZM524.8 765.5a1.4 1.4 0 1 0 0.01 0ZM524.2 762.6a1.6 1.6 0 1 0 0.01 0ZM654.8 845.9a1.4 1.4 0 1 0 0.01 0ZM526.3 748.4a1.4 1.4 0 1 0 0.01 0ZM478.8 721.7a1.8 1.8 0 1 0 0.01 0ZM479.8 743.1a2 2 0 1 0 0.01 0ZM505.8 771a1.6 1.6 0 1 0 0.01 0ZM627.4 908.2a1.4 1.4 0 1 0 0.01 0ZM565.4 813.5a1.8 1.8 0 1 0 0.01 0ZM564.4 810.8a2 2 0 1 0 0.01 0ZM562.4 808.7a1.4 1.4 0 1 0 0.01 0ZM481.8 717.5a1.6 1.6 0 1 0 0.01 0ZM484.4 716a1.4 1.4 0 1 0 0.01 0ZM483.6 713.1a2 2 0 1 0 0.01 0ZM444.2 905.2a2 2 0 1 0 0.01 0ZM617.4 903.4a2 2 0 1 0 0.01 0ZM565.5 853.7a2 2 0 1 0 0.01 0ZM567.5 856a2 2 0 1 0 0.01 0ZM435.1 789.2a2 2 0 1 0 0.01 0ZM507.3 816.1a1.4 1.4 0 1 0 0.01 0ZM507.2 819.1a1.4 1.4 0 1 0 0.01 0ZM505 821.3a1.4 1.4 0 1 0 0.01 0ZM648.1 886a2 2 0 1 0 0.01 0ZM459 787a1.4 1.4 0 1 0 0.01 0ZM453.6 752a1.6 1.6 0 1 0 0.01 0ZM451.6 753.8a1.4 1.4 0 1 0 0.01 0ZM622.3 813a2 2 0 1 0 0.01 0ZM457.2 866.9a2 2 0 1 0 0.01 0ZM456.3 864a1.6 1.6 0 1 0 0.01 0ZM650.5 824.7a1.4 1.4 0 1 0 0.01 0ZM670.8 910.1a2 2 0 1 0 0.01 0ZM476.3 843.9a1.4 1.4 0 1 0 0.01 0ZM478.3 729a1.6 1.6 0 1 0 0.01 0ZM476.2 702.4a2 2 0 1 0 0.01 0ZM646.2 908.9a1.8 1.8 0 1 0 0.01 0ZM647.2 906.1a1.6 1.6 0 1 0 0.01 0ZM448.7 852.9a1.6 1.6 0 1 0 0.01 0ZM450.5 850.8a1.8 1.8 0 1 0 0.01 0ZM456.8 857.5a1.4 1.4 0 1 0 0.01 0ZM459.2 856.1a1.4 1.4 0 1 0 0.01 0ZM504.1 767.6a1.8 1.8 0 1 0 0.01 0ZM527.8 775.2a2 2 0 1 0 0.01 0ZM531.8 903.9a1.6 1.6 0 1 0 0.01 0ZM532.6 901.4a1.6 1.6 0 1 0 0.01 0ZM569.9 847.7a1.8 1.8 0 1 0 0.01 0ZM508.7 905.8a1.6 1.6 0 1 0 0.01 0ZM520.6 722.4a1.4 1.4 0 1 0 0.01 0ZM538.1 893.4a1.4 1.4 0 1 0 0.01 0ZM713.3 888.7a1.6 1.6 0 1 0 0.01 0ZM556.2 779.1a1.6 1.6 0 1 0 0.01 0ZM554.4 782a1.6 1.6 0 1 0 0.01 0ZM701.8 878.8a2 2 0 1 0 0.01 0ZM466.7 909a1.8 1.8 0 1 0 0.01 0ZM467 906.1a1.4 1.4 0 1 0 0.01 0ZM515.8 851.5a1.8 1.8 0 1 0 0.01 0ZM513.5 852.7a1.4 1.4 0 1 0 0.01 0ZM426.8 735.8a2 2 0 1 0 0.01 0ZM569 803.3a2 2 0 1 0 0.01 0ZM571.8 805.2a2 2 0 1 0 0.01 0ZM516.2 839.9a1.4 1.4 0 1 0 0.01 0ZM518.9 840.3a1.8 1.8 0 1 0 0.01 0ZM438.9 727.2a1.6 1.6 0 1 0 0.01 0ZM588.8 782.8a2 2 0 1 0 0.01 0ZM505.1 741.4a1.4 1.4 0 1 0 0.01 0ZM598.7 891.2a1.8 1.8 0 1 0 0.01 0ZM596.4 889.8a1.4 1.4 0 1 0 0.01 0ZM593 889.6a1.4 1.4 0 1 0 0.01 0ZM510.9 831.4a1.8 1.8 0 1 0 0.01 0ZM513.7 833.6a1.6 1.6 0 1 0 0.01 0ZM683.7 863.8a1.6 1.6 0 1 0 0.01 0ZM684.8 866.3a1.4 1.4 0 1 0 0.01 0ZM625 909.1a1.8 1.8 0 1 0 0.01 0ZM717.1 891.3a1.8 1.8 0 1 0 0.01 0ZM719.1 893.9a1.8 1.8 0 1 0 0.01 0ZM657.7 897.1a2 2 0 1 0 0.01 0ZM660.6 896a1.8 1.8 0 1 0 0.01 0ZM664.2 909.4a2 2 0 1 0 0.01 0ZM533.3 843a1.6 1.6 0 1 0 0.01 0ZM575.4 894.1a1.4 1.4 0 1 0 0.01 0ZM576.7 897a1.4 1.4 0 1 0 0.01 0ZM463.7 813.1a1.4 1.4 0 1 0 0.01 0ZM555.8 816.5a1.4 1.4 0 1 0 0.01 0ZM471 751.4a2 2 0 1 0 0.01 0ZM701.4 892.4a1.4 1.4 0 1 0 0.01 0ZM475.9 779.1a2 2 0 1 0 0.01 0ZM700.2 897.6a1.8 1.8 0 1 0 0.01 0ZM671.9 847.5a1.4 1.4 0 1 0 0.01 0ZM562.4 900.2a1.6 1.6 0 1 0 0.01 0ZM488.2 903.2a2 2 0 1 0 0.01 0ZM427 864.9a2 2 0 1 0 0.01 0ZM425.4 867.5a1.6 1.6 0 1 0 0.01 0ZM450.9 760.8a2 2 0 1 0 0.01 0ZM608.3 823.7a2 2 0 1 0 0.01 0ZM610.8 824.8a2 2 0 1 0 0.01 0ZM614.5 824.6a1.4 1.4 0 1 0 0.01 0ZM430 763.9a1.6 1.6 0 1 0 0.01 0ZM613.5 908.2a2 2 0 1 0 0.01 0ZM462.7 755.9a1.8 1.8 0 1 0 0.01 0ZM495.5 822.8a1.4 1.4 0 1 0 0.01 0ZM493.4 820a2 2 0 1 0 0.01 0ZM558.5 873.7a1.8 1.8 0 1 0 0.01 0ZM558.1 870.5a1.6 1.6 0 1 0 0.01 0ZM479 780.2a1.4 1.4 0 1 0 0.01 0ZM479 783.1a1.4 1.4 0 1 0 0.01 0ZM703.3 893.4a1.6 1.6 0 1 0 0.01 0ZM691.3 861.7a2 2 0 1 0 0.01 0ZM498.6 883.6a2 2 0 1 0 0.01 0ZM496.3 885.2a1.4 1.4 0 1 0 0.01 0ZM494.4 887.5a1.6 1.6 0 1 0 0.01 0ZM431.2 817.9a1.6 1.6 0 1 0 0.01 0ZM429.9 814.9a1.6 1.6 0 1 0 0.01 0ZM491.4 905.3a1.8 1.8 0 1 0 0.01 0ZM493.7 903.8a1.8 1.8 0 1 0 0.01 0ZM431.6 756.4a1.6 1.6 0 1 0 0.01 0ZM606.9 886.9a1.6 1.6 0 1 0 0.01 0ZM609.4 885.6a1.6 1.6 0 1 0 0.01 0ZM474.5 814.6a2 2 0 1 0 0.01 0ZM472.5 812.8a1.8 1.8 0 1 0 0.01 0ZM617.9 799.6a2 2 0 1 0 0.01 0ZM497.9 773.6a1.6 1.6 0 1 0 0.01 0ZM499.9 772a2 2 0 1 0 0.01 0ZM518.8 823.2a1.6 1.6 0 1 0 0.01 0ZM522.2 822.9a1.6 1.6 0 1 0 0.01 0ZM523.6 825.3a1.4 1.4 0 1 0 0.01 0ZM467.4 747.3a1.8 1.8 0 1 0 0.01 0ZM465.8 745.6a1.4 1.4 0 1 0 0.01 0ZM444.4 626.5a2 2 0 1 0 0.01 0ZM447.4 625a1.4 1.4 0 1 0 0.01 0ZM591.6 795a1.4 1.4 0 1 0 0.01 0ZM487.6 822.4a1.6 1.6 0 1 0 0.01 0ZM489.7 824a1.8 1.8 0 1 0 0.01 0ZM492.9 824.9a1.6 1.6 0 1 0 0.01 0ZM430.8 681.8a1.6 1.6 0 1 0 0.01 0ZM475.3 826.4a1.6 1.6 0 1 0 0.01 0ZM514.3 780.9a1.6 1.6 0 1 0 0.01 0ZM514.4 784.1a1.8 1.8 0 1 0 0.01 0ZM512.6 786a1.6 1.6 0 1 0 0.01 0ZM480.4 758a1.6 1.6 0 1 0 0.01 0ZM456.2 855.4a2 2 0 1 0 0.01 0ZM459.4 854.6a1.4 1.4 0 1 0 0.01 0ZM585.1 773.5a1.8 1.8 0 1 0 0.01 0ZM447.5 777.7a2 2 0 1 0 0.01 0ZM576.9 759a1.4 1.4 0 1 0 0.01 0ZM578.1 761.5a1.6 1.6 0 1 0 0.01 0ZM467.7 845.5a1.4 1.4 0 1 0 0.01 0ZM465.1 847a1.8 1.8 0 1 0 0.01 0ZM462.5 847.9a1.8 1.8 0 1 0 0.01 0ZM494.2 866.1a1.4 1.4 0 1 0 0.01 0ZM694.5 862.5a1.6 1.6 0 1 0 0.01 0ZM695.1 859.8a1.4 1.4 0 1 0 0.01 0ZM690.1 896.6a1.6 1.6 0 1 0 0.01 0ZM687.8 898.9a2 2 0 1 0 0.01 0ZM523.5 908.9a1.8 1.8 0 1 0 0.01 0ZM521.5 911.3a2 2 0 1 0 0.01 0ZM572.8 830.3a1.8 1.8 0 1 0 0.01 0ZM572.3 827.1a1.6 1.6 0 1 0 0.01 0ZM452 717.3a2 2 0 1 0 0.01 0ZM449.9 718.8a1.8 1.8 0 1 0 0.01 0ZM447.2 717.5a1.4 1.4 0 1 0 0.01 0ZM430.6 775.3a1.4 1.4 0 1 0 0.01 0ZM430.5 777.9a1.4 1.4 0 1 0 0.01 0ZM686.1 865a1.4 1.4 0 1 0 0.01 0ZM686.1 868.3a1.4 1.4 0 1 0 0.01 0ZM453.4 688.3a2 2 0 1 0 0.01 0ZM451.7 685.4a2 2 0 1 0 0.01 0ZM452.6 682.8a1.4 1.4 0 1 0 0.01 0ZM550.6 848.6a1.8 1.8 0 1 0 0.01 0ZM548.4 850.4a2 2 0 1 0 0.01 0ZM573.1 853.4a1.4 1.4 0 1 0 0.01 0ZM641.4 866.1a1.6 1.6 0 1 0 0.01 0ZM642.2 863.5a1.8 1.8 0 1 0 0.01 0ZM477.2 697.1a1.4 1.4 0 1 0 0.01 0ZM626.6 863.7a1.8 1.8 0 1 0 0.01 0ZM624.4 865.4a1.6 1.6 0 1 0 0.01 0ZM621.6 867.1a1.4 1.4 0 1 0 0.01 0ZM491.6 714.5a1.8 1.8 0 1 0 0.01 0ZM468.9 678.5a1.8 1.8 0 1 0 0.01 0ZM466 679.6a2 2 0 1 0 0.01 0ZM454.9 757.2a1.4 1.4 0 1 0 0.01 0ZM438.6 806.7a2 2 0 1 0 0.01 0ZM442.4 806.3a1.4 1.4 0 1 0 0.01 0ZM442.7 803.6a1.8 1.8 0 1 0 0.01 0ZM579.4 890.7a1.6 1.6 0 1 0 0.01 0ZM580.2 893.6a1.4 1.4 0 1 0 0.01 0ZM481.6 732.4a1.8 1.8 0 1 0 0.01 0ZM523.8 830.1a1.6 1.6 0 1 0 0.01 0ZM526.2 829.7a1.8 1.8 0 1 0 0.01 0ZM529.2 829.8a2 2 0 1 0 0.01 0ZM666.5 854.6a2 2 0 1 0 0.01 0ZM665.3 856.5a1.4 1.4 0 1 0 0.01 0ZM433 736.5a2 2 0 1 0 0.01 0ZM433.7 739.6a2 2 0 1 0 0.01 0ZM485.3 713.6a1.6 1.6 0 1 0 0.01 0ZM520 756.5a1.4 1.4 0 1 0 0.01 0ZM687.4 900a1.4 1.4 0 1 0 0.01 0ZM537.1 740.8a2 2 0 1 0 0.01 0ZM502 823.2a1.4 1.4 0 1 0 0.01 0ZM499.3 825a2 2 0 1 0 0.01 0ZM466.6 689.2a1.8 1.8 0 1 0 0.01 0ZM469.2 690.3a1.8 1.8 0 1 0 0.01 0ZM473.6 891a1.4 1.4 0 1 0 0.01 0ZM475.5 888.6a1.4 1.4 0 1 0 0.01 0ZM477.8 886.8a1.4 1.4 0 1 0 0.01 0ZM613.3 839.7a2 2 0 1 0 0.01 0ZM613.3 842.5a2 2 0 1 0 0.01 0ZM636 890.9a1.4 1.4 0 1 0 0.01 0ZM507.8 764.3a1.6 1.6 0 1 0 0.01 0ZM510.3 763.6a2 2 0 1 0 0.01 0ZM573 828.7a1.6 1.6 0 1 0 0.01 0ZM541.7 791.8a2 2 0 1 0 0.01 0ZM541.1 794.3a2 2 0 1 0 0.01 0ZM584 913.8a1.6 1.6 0 1 0 0.01 0ZM586.6 912.1a1.4 1.4 0 1 0 0.01 0ZM588.9 911.4a1.6 1.6 0 1 0 0.01 0ZM466.3 823.1a1.4 1.4 0 1 0 0.01 0ZM465.8 820.3a1.4 1.4 0 1 0 0.01 0ZM464.8 817.6a2 2 0 1 0 0.01 0ZM491.7 733.3a2 2 0 1 0 0.01 0ZM489.4 731a2 2 0 1 0 0.01 0ZM432.2 653.6a1.6 1.6 0 1 0 0.01 0ZM537.5 773.3a1.6 1.6 0 1 0 0.01 0ZM496.9 704.7a1.6 1.6 0 1 0 0.01 0ZM495.6 701.7a1.6 1.6 0 1 0 0.01 0ZM492.4 701.8a2 2 0 1 0 0.01 0ZM486.2 764a1.8 1.8 0 1 0 0.01 0ZM511.1 857.3a1.4 1.4 0 1 0 0.01 0ZM479.5 696.9a2 2 0 1 0 0.01 0ZM480.6 694.3a1.6 1.6 0 1 0 0.01 0ZM479.2 692a1.8 1.8 0 1 0 0.01 0ZM537.4 911.5a2 2 0 1 0 0.01 0ZM484.7 807.5a2 2 0 1 0 0.01 0ZM484.4 810.4a1.8 1.8 0 1 0 0.01 0ZM590.1 897.1a1.6 1.6 0 1 0 0.01 0ZM683.3 853.8a1.6 1.6 0 1 0 0.01 0ZM683 851.1a1.8 1.8 0 1 0 0.01 0ZM685.7 849.4a1.4 1.4 0 1 0 0.01 0ZM430.3 891.5a1.6 1.6 0 1 0 0.01 0ZM432 888.9a1.8 1.8 0 1 0 0.01 0ZM502.9 837.1a1.4 1.4 0 1 0 0.01 0ZM548.3 697.3a1.4 1.4 0 1 0 0.01 0ZM546.4 694.4a1.6 1.6 0 1 0 0.01 0ZM679.8 899.4a1.8 1.8 0 1 0 0.01 0ZM682.5 901.1a1.4 1.4 0 1 0 0.01 0ZM540.6 867.1a1.8 1.8 0 1 0 0.01 0ZM495.3 696.3a1.6 1.6 0 1 0 0.01 0ZM498.3 695.6a1.4 1.4 0 1 0 0.01 0ZM453.9 643.8a2 2 0 1 0 0.01 0ZM710.6 905.4a2 2 0 1 0 0.01 0ZM427.4 738.8a1.8 1.8 0 1 0 0.01 0ZM430.4 736.6a1.4 1.4 0 1 0 0.01 0ZM455.9 681.8a1.6 1.6 0 1 0 0.01 0ZM518 879.4a1.4 1.4 0 1 0 0.01 0ZM517.6 882.4a1.6 1.6 0 1 0 0.01 0ZM603.6 878.8a1.8 1.8 0 1 0 0.01 0ZM600.9 878.5a1.4 1.4 0 1 0 0.01 0ZM489 830.7a2 2 0 1 0 0.01 0ZM492 832a1.6 1.6 0 1 0 0.01 0ZM440.6 699.3a1.8 1.8 0 1 0 0.01 0ZM443.6 699.9a1.6 1.6 0 1 0 0.01 0ZM446.4 700.6a1.6 1.6 0 1 0 0.01 0ZM639.6 831.1a1.6 1.6 0 1 0 0.01 0ZM619.1 902.4a1.4 1.4 0 1 0 0.01 0ZM619.2 899.7a1.4 1.4 0 1 0 0.01 0ZM620.2 897.1a1.8 1.8 0 1 0 0.01 0ZM564.3 884.1a1.6 1.6 0 1 0 0.01 0ZM508.7 808.1a2 2 0 1 0 0.01 0ZM573.6 797.3a1.6 1.6 0 1 0 0.01 0ZM619.4 904.8a1.8 1.8 0 1 0 0.01 0ZM620.6 902.3a1.6 1.6 0 1 0 0.01 0ZM457 749.5a2 2 0 1 0 0.01 0ZM525.7 820.6a2 2 0 1 0 0.01 0ZM525 817.9a1.6 1.6 0 1 0 0.01 0ZM452.9 832.8a2 2 0 1 0 0.01 0ZM455.8 832.7a1.8 1.8 0 1 0 0.01 0ZM498.9 829.1a1.4 1.4 0 1 0 0.01 0ZM497.7 831.7a1.6 1.6 0 1 0 0.01 0ZM450.1 667.5a1.4 1.4 0 1 0 0.01 0ZM449.6 664.6a1.6 1.6 0 1 0 0.01 0ZM448.7 661.7a2 2 0 1 0 0.01 0ZM433.8 836.2a1.6 1.6 0 1 0 0.01 0ZM480.9 688.6a1.4 1.4 0 1 0 0.01 0ZM482.4 686.1a1.6 1.6 0 1 0 0.01 0ZM429.2 875.6a1.8 1.8 0 1 0 0.01 0ZM426.5 876.5a1.6 1.6 0 1 0 0.01 0ZM457.2 801.3a1.8 1.8 0 1 0 0.01 0ZM616.9 806a1.4 1.4 0 1 0 0.01 0ZM447.4 668.5a1.6 1.6 0 1 0 0.01 0ZM622.7 895.6a1.8 1.8 0 1 0 0.01 0ZM623.3 893a1.8 1.8 0 1 0 0.01 0ZM626.6 892.5a1.4 1.4 0 1 0 0.01 0ZM439.1 788.2a1.8 1.8 0 1 0 0.01 0ZM456.5 728.3a2 2 0 1 0 0.01 0ZM513 724.6a1.8 1.8 0 1 0 0.01 0ZM516 724.2a2 2 0 1 0 0.01 0ZM530.5 814.1a2 2 0 1 0 0.01 0ZM479.6 864.3a1.8 1.8 0 1 0 0.01 0ZM558.4 887.1a1.6 1.6 0 1 0 0.01 0ZM560.4 889.4a1.4 1.4 0 1 0 0.01 0ZM456.2 809.1a1.4 1.4 0 1 0 0.01 0ZM620.8 790a1.4 1.4 0 1 0 0.01 0ZM622.1 787.3a1.8 1.8 0 1 0 0.01 0ZM525.3 855.3a1.8 1.8 0 1 0 0.01 0ZM595.8 810.1a2 2 0 1 0 0.01 0ZM596.6 806.7a1.4 1.4 0 1 0 0.01 0ZM561.6 913.3a1.6 1.6 0 1 0 0.01 0ZM543.4 806.2a2 2 0 1 0 0.01 0ZM483.5 708.9a1.4 1.4 0 1 0 0.01 0ZM480.4 706.6a2 2 0 1 0 0.01 0ZM588.1 844.3a2 2 0 1 0 0.01 0ZM493 872.5a2 2 0 1 0 0.01 0ZM487 806.9a1.6 1.6 0 1 0 0.01 0ZM431.9 861.8a1.4 1.4 0 1 0 0.01 0ZM432.6 865a1.6 1.6 0 1 0 0.01 0ZM546.9 866a1.4 1.4 0 1 0 0.01 0ZM545.4 862.9a2 2 0 1 0 0.01 0ZM497.5 757.9a1.4 1.4 0 1 0 0.01 0ZM440 644.6a1.6 1.6 0 1 0 0.01 0ZM439.9 641.7a2 2 0 1 0 0.01 0ZM633.7 884.1a1.4 1.4 0 1 0 0.01 0ZM636.4 883.9a1.6 1.6 0 1 0 0.01 0ZM638.3 886.3a1.8 1.8 0 1 0 0.01 0ZM659.5 878.1a1.4 1.4 0 1 0 0.01 0ZM438.8 900.3a2 2 0 1 0 0.01 0ZM438.6 902.9a1.4 1.4 0 1 0 0.01 0ZM427.8 882.8a2 2 0 1 0 0.01 0ZM426.1 881.4a1.4 1.4 0 1 0 0.01 0ZM544 892.3a1.4 1.4 0 1 0 0.01 0ZM663.5 881.9a1.8 1.8 0 1 0 0.01 0ZM479 866.2a2 2 0 1 0 0.01 0ZM482.5 867.5a1.6 1.6 0 1 0 0.01 0ZM476 855.8a1.8 1.8 0 1 0 0.01 0ZM479.2 857.6a1.4 1.4 0 1 0 0.01 0ZM577.7 893.7a1.8 1.8 0 1 0 0.01 0ZM711 897.2a1.6 1.6 0 1 0 0.01 0ZM443.3 834.1a2 2 0 1 0 0.01 0ZM443.1 831.2a2 2 0 1 0 0.01 0ZM484.8 705.8a2 2 0 1 0 0.01 0ZM580.9 864.6a1.6 1.6 0 1 0 0.01 0ZM602.7 895.6a1.8 1.8 0 1 0 0.01 0ZM600.3 893.8a1.8 1.8 0 1 0 0.01 0ZM433.2 771.9a1.6 1.6 0 1 0 0.01 0ZM434.7 769.8a1.6 1.6 0 1 0 0.01 0ZM437.8 770.5a1.8 1.8 0 1 0 0.01 0ZM563.2 807.7a2 2 0 1 0 0.01 0ZM467.1 766.7a1.4 1.4 0 1 0 0.01 0ZM469.8 768.7a1.4 1.4 0 1 0 0.01 0ZM539 910.3a2 2 0 1 0 0.01 0ZM542.1 911.5a1.4 1.4 0 1 0 0.01 0ZM561.5 790.3a2 2 0 1 0 0.01 0ZM541.4 890.1a1.8 1.8 0 1 0 0.01 0ZM543.5 891.6a1.8 1.8 0 1 0 0.01 0ZM543.4 894.9a1.4 1.4 0 1 0 0.01 0ZM646.3 811.8a2 2 0 1 0 0.01 0ZM529.9 769.1a1.8 1.8 0 1 0 0.01 0ZM527.1 769.6a2 2 0 1 0 0.01 0ZM525.3 771.8a1.6 1.6 0 1 0 0.01 0ZM475.3 841.4a2 2 0 1 0 0.01 0ZM475.3 838.1a1.6 1.6 0 1 0 0.01 0ZM472.4 837a2 2 0 1 0 0.01 0ZM546.8 905.5a1.6 1.6 0 1 0 0.01 0ZM546.2 902.2a2 2 0 1 0 0.01 0ZM544.7 899.9a1.4 1.4 0 1 0 0.01 0ZM469.3 709.9a1.8 1.8 0 1 0 0.01 0ZM471.3 712.3a2 2 0 1 0 0.01 0ZM474.6 713.6a1.8 1.8 0 1 0 0.01 0ZM589.9 822.9a2 2 0 1 0 0.01 0ZM587.8 824.3a1.6 1.6 0 1 0 0.01 0ZM589.6 913.6a1.6 1.6 0 1 0 0.01 0ZM591.5 912a1.8 1.8 0 1 0 0.01 0ZM508.4 830.9a2 2 0 1 0 0.01 0ZM507.9 833.8a1.8 1.8 0 1 0 0.01 0ZM598 898.3a2 2 0 1 0 0.01 0ZM595.5 898.3a1.8 1.8 0 1 0 0.01 0ZM592.1 899.4a2 2 0 1 0 0.01 0ZM429.7 737.4a2 2 0 1 0 0.01 0ZM462.2 802.6a2 2 0 1 0 0.01 0ZM461.7 805.8a1.8 1.8 0 1 0 0.01 0ZM459.1 807.2a1.6 1.6 0 1 0 0.01 0ZM515.1 735.6a1.4 1.4 0 1 0 0.01 0ZM517.1 736.3a2 2 0 1 0 0.01 0ZM427.5 886.5a1.6 1.6 0 1 0 0.01 0ZM526.8 866.5a1.8 1.8 0 1 0 0.01 0ZM524.7 867.4a1.4 1.4 0 1 0 0.01 0ZM521.4 867.5a2 2 0 1 0 0.01 0ZM487.7 658.8a1.4 1.4 0 1 0 0.01 0ZM489.2 661.4a2 2 0 1 0 0.01 0ZM492.8 661.4a1.6 1.6 0 1 0 0.01 0ZM445.9 746.6a2 2 0 1 0 0.01 0ZM508.9 744.6a1.8 1.8 0 1 0 0.01 0ZM509.5 747.6a2 2 0 1 0 0.01 0ZM511.5 749.5a2 2 0 1 0 0.01 0ZM484.7 881.9a1.4 1.4 0 1 0 0.01 0ZM448.8 782.5a1.6 1.6 0 1 0 0.01 0ZM447.6 784.7a1.4 1.4 0 1 0 0.01 0ZM567.5 851.8a2 2 0 1 0 0.01 0ZM473.5 743.2a1.8 1.8 0 1 0 0.01 0ZM456.5 855.5a1.4 1.4 0 1 0 0.01 0ZM453.7 853.5a1.8 1.8 0 1 0 0.01 0ZM450.5 854.4a1.8 1.8 0 1 0 0.01 0ZM685.7 906.1a1.8 1.8 0 1 0 0.01 0ZM440.9 878.5a1.6 1.6 0 1 0 0.01 0ZM442.6 876.3a1.4 1.4 0 1 0 0.01 0ZM567.3 911.8a1.6 1.6 0 1 0 0.01 0ZM569.9 913.6a1.6 1.6 0 1 0 0.01 0ZM684.9 879.2a2 2 0 1 0 0.01 0ZM556.5 862.8a1.6 1.6 0 1 0 0.01 0ZM584.3 824.1a1.4 1.4 0 1 0 0.01 0ZM433.3 755.6a1.6 1.6 0 1 0 0.01 0ZM434.2 757.9a2 2 0 1 0 0.01 0ZM437.7 758.7a1.4 1.4 0 1 0 0.01 0ZM631.9 846.5a1.4 1.4 0 1 0 0.01 0ZM523.3 751.6a1.6 1.6 0 1 0 0.01 0ZM641.3 834.4a1.8 1.8 0 1 0 0.01 0ZM644 834.8a1.8 1.8 0 1 0 0.01 0ZM468.6 741.2a1.4 1.4 0 1 0 0.01 0ZM468.5 744.6a2 2 0 1 0 0.01 0ZM607.1 830.5a1.8 1.8 0 1 0 0.01 0ZM458.3 653.4a1.4 1.4 0 1 0 0.01 0ZM454.8 651.9a2 2 0 1 0 0.01 0ZM670.8 831.1a1.8 1.8 0 1 0 0.01 0ZM668.9 832.9a1.6 1.6 0 1 0 0.01 0ZM665.7 832.1a2 2 0 1 0 0.01 0ZM508.2 769.9a1.4 1.4 0 1 0 0.01 0ZM577.1 757.5a2 2 0 1 0 0.01 0ZM556.8 834.3a1.6 1.6 0 1 0 0.01 0ZM559.4 833.8a1.8 1.8 0 1 0 0.01 0ZM561.7 832.4a2 2 0 1 0 0.01 0ZM489.4 846a1.6 1.6 0 1 0 0.01 0ZM492.2 844.8a1.6 1.6 0 1 0 0.01 0ZM468.5 871.4a1.6 1.6 0 1 0 0.01 0ZM592.6 784a1.8 1.8 0 1 0 0.01 0ZM441.7 718.8a1.4 1.4 0 1 0 0.01 0ZM467.4 890.1a1.4 1.4 0 1 0 0.01 0ZM464.8 892.9a2 2 0 1 0 0.01 0ZM541.7 748.2a1.4 1.4 0 1 0 0.01 0ZM643.7 840.6a1.8 1.8 0 1 0 0.01 0ZM562.5 791.5a1.8 1.8 0 1 0 0.01 0ZM565.4 792.1a1.6 1.6 0 1 0 0.01 0ZM567.1 793.9a2 2 0 1 0 0.01 0ZM505.4 710.3a1.8 1.8 0 1 0 0.01 0ZM451 705.6a1.8 1.8 0 1 0 0.01 0ZM478.7 763.1a1.4 1.4 0 1 0 0.01 0ZM476.4 760.9a1.4 1.4 0 1 0 0.01 0ZM578.2 847.4a1.8 1.8 0 1 0 0.01 0ZM594.7 779.7a1.8 1.8 0 1 0 0.01 0ZM596.3 776.8a2 2 0 1 0 0.01 0ZM599.1 776a1.8 1.8 0 1 0 0.01 0ZM573.9 886a1.8 1.8 0 1 0 0.01 0ZM701.6 888.1a1.8 1.8 0 1 0 0.01 0ZM572 799.9a2 2 0 1 0 0.01 0ZM454.2 756.3a1.8 1.8 0 1 0 0.01 0ZM457.4 754.6a1.6 1.6 0 1 0 0.01 0ZM662.1 859a1.6 1.6 0 1 0 0.01 0ZM664.6 860.2a2 2 0 1 0 0.01 0ZM667.3 858.2a1.8 1.8 0 1 0 0.01 0ZM572 875.7a1.4 1.4 0 1 0 0.01 0ZM486.6 788.2a1.6 1.6 0 1 0 0.01 0ZM433.2 817.3a2 2 0 1 0 0.01 0ZM433.3 814.4a1.4 1.4 0 1 0 0.01 0ZM630.3 837.3a1.6 1.6 0 1 0 0.01 0ZM633 836.1a1.8 1.8 0 1 0 0.01 0ZM633.8 833a1.4 1.4 0 1 0 0.01 0ZM527.8 857.4a1.8 1.8 0 1 0 0.01 0ZM615.1 870.6a2 2 0 1 0 0.01 0ZM618.3 869.3a1.6 1.6 0 1 0 0.01 0ZM619 866.5a1.4 1.4 0 1 0 0.01 0ZM425.9 690.7a1.4 1.4 0 1 0 0.01 0ZM428.6 689.2a1.4 1.4 0 1 0 0.01 0ZM430.2 690.8a2 2 0 1 0 0.01 0ZM545.6 868.4a2 2 0 1 0 0.01 0ZM548.6 870a2 2 0 1 0 0.01 0ZM601.4 878a1.6 1.6 0 1 0 0.01 0ZM598 876.9a1.8 1.8 0 1 0 0.01 0ZM597.1 873.7a1.6 1.6 0 1 0 0.01 0ZM493.3 701.2a1.6 1.6 0 1 0 0.01 0ZM493.6 697.9a1.8 1.8 0 1 0 0.01 0ZM611.2 802.4a1.8 1.8 0 1 0 0.01 0ZM608.2 800.6a2 2 0 1 0 0.01 0ZM606 802.4a1.4 1.4 0 1 0 0.01 0ZM468.3 711.2a1.8 1.8 0 1 0 0.01 0ZM550.5 867.3a1.8 1.8 0 1 0 0.01 0ZM447 816.9a1.4 1.4 0 1 0 0.01 0ZM651.3 806.7a2 2 0 1 0 0.01 0ZM558.8 883.4a1.6 1.6 0 1 0 0.01 0ZM547.3 881.8a1.4 1.4 0 1 0 0.01 0ZM549.5 880.6a1.8 1.8 0 1 0 0.01 0ZM552.3 881.5a1.4 1.4 0 1 0 0.01 0ZM480.5 698.1a1.4 1.4 0 1 0 0.01 0ZM580 907.2a1.6 1.6 0 1 0 0.01 0ZM578.3 904.4a2 2 0 1 0 0.01 0ZM440.9 757.3a2 2 0 1 0 0.01 0ZM442.8 759.4a1.6 1.6 0 1 0 0.01 0ZM460.4 654.2a2 2 0 1 0 0.01 0ZM462.5 656.5a1.6 1.6 0 1 0 0.01 0ZM465.4 656.2a1.6 1.6 0 1 0 0.01 0ZM454 812.6a1.4 1.4 0 1 0 0.01 0ZM579.1 884.3a2 2 0 1 0 0.01 0ZM554.5 851.3a1.6 1.6 0 1 0 0.01 0ZM457 693.4a2 2 0 1 0 0.01 0ZM477 879.7a1.4 1.4 0 1 0 0.01 0ZM458 704.9a1.6 1.6 0 1 0 0.01 0ZM459.8 707.2a2 2 0 1 0 0.01 0ZM633.5 843.1a1.8 1.8 0 1 0 0.01 0ZM631.4 844.4a1.4 1.4 0 1 0 0.01 0ZM462.5 787.4a1.4 1.4 0 1 0 0.01 0ZM461.2 785a1.8 1.8 0 1 0 0.01 0ZM492.5 811.1a1.6 1.6 0 1 0 0.01 0ZM494.7 808.3a1.4 1.4 0 1 0 0.01 0ZM662.6 847.5a1.6 1.6 0 1 0 0.01 0ZM483.5 760.8a1.6 1.6 0 1 0 0.01 0ZM484.9 762.8a1.8 1.8 0 1 0 0.01 0ZM455.2 868.4a1.8 1.8 0 1 0 0.01 0ZM451.8 868.4a2 2 0 1 0 0.01 0ZM532.8 883a1.8 1.8 0 1 0 0.01 0ZM658.1 830.5a1.4 1.4 0 1 0 0.01 0ZM505.9 852.7a1.6 1.6 0 1 0 0.01 0ZM544.4 788.9a1.8 1.8 0 1 0 0.01 0ZM547.3 790.7a1.8 1.8 0 1 0 0.01 0ZM505.6 769.5a2 2 0 1 0 0.01 0ZM504.3 772.1a1.4 1.4 0 1 0 0.01 0ZM518.1 767.3a1.8 1.8 0 1 0 0.01 0ZM501.3 912.1a1.8 1.8 0 1 0 0.01 0ZM459.3 880a1.8 1.8 0 1 0 0.01 0ZM461.9 881.4a2 2 0 1 0 0.01 0ZM465.3 881.2a1.4 1.4 0 1 0 0.01 0ZM426.6 838.3a1.4 1.4 0 1 0 0.01 0ZM545.5 835.3a2 2 0 1 0 0.01 0ZM544.2 838a1.4 1.4 0 1 0 0.01 0ZM543.6 840.9a1.8 1.8 0 1 0 0.01 0ZM558.2 909a1.6 1.6 0 1 0 0.01 0ZM561.4 908.7a1.6 1.6 0 1 0 0.01 0ZM562.4 906.1a1.8 1.8 0 1 0 0.01 0ZM501.3 738.6a1.8 1.8 0 1 0 0.01 0ZM503.2 741a2 2 0 1 0 0.01 0ZM502.7 744a1.4 1.4 0 1 0 0.01 0ZM615.6 882.9a1.8 1.8 0 1 0 0.01 0ZM612.9 883.2a1.6 1.6 0 1 0 0.01 0ZM611.9 857.2a1.6 1.6 0 1 0 0.01 0ZM557.4 794.8a1.4 1.4 0 1 0 0.01 0ZM560 794.1a2 2 0 1 0 0.01 0ZM428.3 877.5a2 2 0 1 0 0.01 0ZM426.4 879.6a1.4 1.4 0 1 0 0.01 0ZM586.7 787.6a1.8 1.8 0 1 0 0.01 0ZM519.5 896.1a1.8 1.8 0 1 0 0.01 0ZM470.1 913.7a1.8 1.8 0 1 0 0.01 0ZM432.6 649.8a2 2 0 1 0 0.01 0ZM429.4 650.4a2 2 0 1 0 0.01 0ZM572.3 897.8a1.4 1.4 0 1 0 0.01 0ZM573.1 900.4a1.8 1.8 0 1 0 0.01 0ZM445.2 762.5a1.4 1.4 0 1 0 0.01 0ZM447.2 763.9a1.8 1.8 0 1 0 0.01 0ZM603.1 839.6a2 2 0 1 0 0.01 0ZM600.8 839a1.6 1.6 0 1 0 0.01 0ZM651.8 841.8a1.8 1.8 0 1 0 0.01 0ZM651.8 845a1.8 1.8 0 1 0 0.01 0ZM648.4 846.2a2 2 0 1 0 0.01 0ZM625.2 841.9a1.6 1.6 0 1 0 0.01 0ZM621.5 842.5a2 2 0 1 0 0.01 0ZM504.3 761a1.6 1.6 0 1 0 0.01 0ZM503.1 758a1.6 1.6 0 1 0 0.01 0ZM622.3 801.6a2 2 0 1 0 0.01 0ZM466.4 735.5a2 2 0 1 0 0.01 0ZM464 774.9a1.8 1.8 0 1 0 0.01 0ZM462.1 773.2a1.4 1.4 0 1 0 0.01 0ZM567.2 840.7a1.6 1.6 0 1 0 0.01 0ZM479.2 814.5a1.4 1.4 0 1 0 0.01 0ZM520 831.6a2 2 0 1 0 0.01 0ZM517.7 830.1a2 2 0 1 0 0.01 0ZM515.1 830.1a1.6 1.6 0 1 0 0.01 0ZM528.6 888a1.8 1.8 0 1 0 0.01 0ZM531.2 886.7a1.8 1.8 0 1 0 0.01 0ZM533.4 884.4a1.4 1.4 0 1 0 0.01 0ZM450.6 676.8a1.4 1.4 0 1 0 0.01 0ZM437 888a1.4 1.4 0 1 0 0.01 0ZM542.5 713.7a1.4 1.4 0 1 0 0.01 0ZM439.5 709.5a1.6 1.6 0 1 0 0.01 0ZM441.6 707.3a2 2 0 1 0 0.01 0ZM595.4 829.6a1.8 1.8 0 1 0 0.01 0ZM585.4 828.8a1.8 1.8 0 1 0 0.01 0ZM582.9 828.8a1.4 1.4 0 1 0 0.01 0ZM581.5 825.7a1.4 1.4 0 1 0 0.01 0ZM608.4 815.2a1.8 1.8 0 1 0 0.01 0ZM532.1 805.8a1.8 1.8 0 1 0 0.01 0ZM535.3 807a1.8 1.8 0 1 0 0.01 0ZM507 776.4a1.6 1.6 0 1 0 0.01 0ZM504.2 778.2a1.6 1.6 0 1 0 0.01 0ZM503.5 781a2 2 0 1 0 0.01 0ZM599.7 859.1a2 2 0 1 0 0.01 0ZM690.2 865.6a1.4 1.4 0 1 0 0.01 0ZM692.8 866.8a1.6 1.6 0 1 0 0.01 0ZM430.2 762a1.4 1.4 0 1 0 0.01 0ZM431.7 764.3a1.8 1.8 0 1 0 0.01 0ZM598.2 758.8a1.8 1.8 0 1 0 0.01 0ZM638.1 865.2a1.4 1.4 0 1 0 0.01 0ZM427.3 656.4a1.8 1.8 0 1 0 0.01 0ZM427.3 653.2a1.4 1.4 0 1 0 0.01 0ZM468 823.3a1.6 1.6 0 1 0 0.01 0ZM440.8 908.3a1.8 1.8 0 1 0 0.01 0ZM600.2 786.7a1.8 1.8 0 1 0 0.01 0ZM598.9 783.9a1.8 1.8 0 1 0 0.01 0ZM516.1 856.3a1.8 1.8 0 1 0 0.01 0ZM513.1 858a2 2 0 1 0 0.01 0ZM527.9 719.2a1.6 1.6 0 1 0 0.01 0ZM554.8 851.3a1.4 1.4 0 1 0 0.01 0ZM537.5 836.8a2 2 0 1 0 0.01 0ZM537.7 839.5a1.4 1.4 0 1 0 0.01 0ZM627 865.7a2 2 0 1 0 0.01 0ZM534.4 734.6a1.8 1.8 0 1 0 0.01 0ZM486.4 779.9a1.4 1.4 0 1 0 0.01 0ZM483.9 777.6a1.4 1.4 0 1 0 0.01 0ZM506.7 747.2a2 2 0 1 0 0.01 0ZM518.6 866.8a2 2 0 1 0 0.01 0ZM486.3 889.5a1.4 1.4 0 1 0 0.01 0ZM600 837.8a1.8 1.8 0 1 0 0.01 0ZM591.2 844.8a1.6 1.6 0 1 0 0.01 0ZM588.1 843.6a1.6 1.6 0 1 0 0.01 0ZM487.2 882.1a1.8 1.8 0 1 0 0.01 0ZM701.7 890.7a2 2 0 1 0 0.01 0ZM704.5 889a1.6 1.6 0 1 0 0.01 0ZM692.4 857.2a1.8 1.8 0 1 0 0.01 0ZM695.3 859.4a1.4 1.4 0 1 0 0.01 0ZM591.1 830a1.4 1.4 0 1 0 0.01 0ZM587.8 828.6a2 2 0 1 0 0.01 0ZM660.1 906.4a2 2 0 1 0 0.01 0ZM439.8 881.1a2 2 0 1 0 0.01 0ZM438.7 878.1a2 2 0 1 0 0.01 0ZM454.9 740.7a1.4 1.4 0 1 0 0.01 0ZM649.4 892.3a1.8 1.8 0 1 0 0.01 0ZM651.6 894.4a1.4 1.4 0 1 0 0.01 0ZM653.4 896.5a1.4 1.4 0 1 0 0.01 0ZM472.3 758.7a1.8 1.8 0 1 0 0.01 0ZM473.7 761.5a1.4 1.4 0 1 0 0.01 0ZM569.9 839.1a2 2 0 1 0 0.01 0ZM571.7 831.3a1.8 1.8 0 1 0 0.01 0ZM572.8 834.3a2 2 0 1 0 0.01 0ZM462.7 756.3a1.8 1.8 0 1 0 0.01 0ZM648.2 906.5a1.6 1.6 0 1 0 0.01 0ZM649.1 909.1a1.4 1.4 0 1 0 0.01 0ZM646.5 911a1.8 1.8 0 1 0 0.01 0ZM428.6 624.5a2 2 0 1 0 0.01 0ZM432.1 624.2a1.6 1.6 0 1 0 0.01 0ZM519.8 729.9a1.8 1.8 0 1 0 0.01 0ZM520.5 727.2a1.6 1.6 0 1 0 0.01 0ZM522.5 725a2 2 0 1 0 0.01 0ZM439.1 868.3a1.4 1.4 0 1 0 0.01 0ZM558.4 778.1a1.4 1.4 0 1 0 0.01 0ZM555.6 779.7a1.8 1.8 0 1 0 0.01 0ZM540.6 721.8a1.6 1.6 0 1 0 0.01 0ZM529.8 901.2a1.6 1.6 0 1 0 0.01 0ZM655 804.4a1.6 1.6 0 1 0 0.01 0ZM443.8 714.5a1.4 1.4 0 1 0 0.01 0ZM564.2 769a1.8 1.8 0 1 0 0.01 0ZM566.7 768.4a2 2 0 1 0 0.01 0ZM502.4 820.9a1.4 1.4 0 1 0 0.01 0ZM692.6 910a1.8 1.8 0 1 0 0.01 0ZM690.4 911.5a1.4 1.4 0 1 0 0.01 0ZM687.4 913a1.4 1.4 0 1 0 0.01 0ZM647.6 834.4a1.4 1.4 0 1 0 0.01 0ZM541.4 770.5a1.4 1.4 0 1 0 0.01 0ZM470.3 847.1a2 2 0 1 0 0.01 0ZM670.6 879.5a1.4 1.4 0 1 0 0.01 0ZM673.8 878.5a1.4 1.4 0 1 0 0.01 0ZM676.2 876.9a1.4 1.4 0 1 0 0.01 0ZM572.7 765.8a1.6 1.6 0 1 0 0.01 0ZM466.1 763.5a1.8 1.8 0 1 0 0.01 0ZM452 663.6a2 2 0 1 0 0.01 0ZM451.4 660.4a2 2 0 1 0 0.01 0ZM441.3 883.7a2 2 0 1 0 0.01 0ZM438.8 885a1.4 1.4 0 1 0 0.01 0ZM435.7 886.8a1.8 1.8 0 1 0 0.01 0ZM489.2 784.3a1.4 1.4 0 1 0 0.01 0ZM520.4 866.8a2 2 0 1 0 0.01 0ZM518.4 868a1.6 1.6 0 1 0 0.01 0ZM516 870a1.8 1.8 0 1 0 0.01 0ZM544.6 731.2a2 2 0 1 0 0.01 0ZM607.1 865.7a1.6 1.6 0 1 0 0.01 0ZM494.1 803.7a1.6 1.6 0 1 0 0.01 0ZM496.6 804.8a1.4 1.4 0 1 0 0.01 0ZM628.2 883.4a1.4 1.4 0 1 0 0.01 0ZM631.2 883.7a1.4 1.4 0 1 0 0.01 0ZM633.2 881.4a1.6 1.6 0 1 0 0.01 0ZM476.8 827.8a1.6 1.6 0 1 0 0.01 0ZM510.2 720.5a2 2 0 1 0 0.01 0ZM477.2 895.6a1.4 1.4 0 1 0 0.01 0ZM478 898.5a2 2 0 1 0 0.01 0ZM477.3 901.8a2 2 0 1 0 0.01 0ZM539.5 826.1a1.4 1.4 0 1 0 0.01 0ZM496.5 866.6a1.6 1.6 0 1 0 0.01 0ZM497.2 863.7a1.8 1.8 0 1 0 0.01 0ZM583.2 791a1.6 1.6 0 1 0 0.01 0ZM583.2 788.3a1.6 1.6 0 1 0 0.01 0ZM581 787a1.4 1.4 0 1 0 0.01 0ZM693.9 884.4a1.6 1.6 0 1 0 0.01 0ZM605.2 840.1a2 2 0 1 0 0.01 0ZM606 837.5a1.8 1.8 0 1 0 0.01 0ZM509.6 870.1a1.6 1.6 0 1 0 0.01 0ZM508.3 867.3a1.8 1.8 0 1 0 0.01 0ZM466.4 772.3a1.4 1.4 0 1 0 0.01 0ZM465.6 769a1.6 1.6 0 1 0 0.01 0ZM630.8 909.1a1.4 1.4 0 1 0 0.01 0ZM627.6 911a1.8 1.8 0 1 0 0.01 0ZM535.4 748.5a2 2 0 1 0 0.01 0ZM565.4 757.7a2 2 0 1 0 0.01 0ZM444.4 898.9a1.6 1.6 0 1 0 0.01 0ZM443 896.4a1.6 1.6 0 1 0 0.01 0ZM440.2 896a1.8 1.8 0 1 0 0.01 0ZM453.8 818.7a1.4 1.4 0 1 0 0.01 0ZM516.8 732.4a1.8 1.8 0 1 0 0.01 0ZM515.1 730.7a1.6 1.6 0 1 0 0.01 0ZM512 728.8a2 2 0 1 0 0.01 0ZM589.8 820.6a1.6 1.6 0 1 0 0.01 0ZM700.3 898.7a2 2 0 1 0 0.01 0ZM703 899.5a2 2 0 1 0 0.01 0ZM468.3 872.2a2 2 0 1 0 0.01 0ZM470.5 870.2a2 2 0 1 0 0.01 0ZM471.9 867.6a2 2 0 1 0 0.01 0Z" fill="#f2aaa2" stroke="#e8685c" stroke-width="1.3" stroke-opacity="0.8"/>
<path d="M622 753C624.2 754.8 630.6 759.8 635 763.5C639.4 767.2 643.7 770.9 648.1 775.2C652.5 779.6 656.9 784.6 661.2 789.6C665.6 794.6 669.9 800.1 674.2 805.3C678.6 810.5 682.9 815.7 687.3 820.9C691.6 826.1 695.9 831.6 700.3 836.6C704.6 841.6 710.1 847.7 713.4 851C716.7 854.3 717.9 854.7 720 856.2C722.1 857.7 725 859.4 726 860L726 868C723.9 866.8 717.7 864 713.4 861C709.1 858 704.6 853.8 700.3 850C695.9 846.2 691.6 842.1 687.3 838C682.9 833.9 678.6 829.4 674.2 825.5C669.9 821.6 665.6 818.4 661.2 814.5C656.9 810.6 651.3 805.4 648.1 802C644.9 798.6 644.2 798 642 794C639.8 790 637.2 783 635 778C632.8 773 630.8 767.7 629 764C627.2 760.3 624.8 757.3 624 756Z" fill="#fff"/>
<path d="M626.8 760.7a1.6 1.9 0 1 0 0.01 0ZM629.2 762.4a1.9 1.5 0 1 0 0.01 0ZM631.9 764.8a1.4 1.6 0 1 0 0.01 0ZM634.2 766.5a2.1 1.3 0 1 0 0.01 0ZM635.7 768.7a2.6 1.7 0 1 0 0.01 0ZM638.3 771.2a2.3 1.3 0 1 0 0.01 0ZM641.3 773.6a2.2 1.5 0 1 0 0.01 0ZM643 774.6a1.7 1.7 0 1 0 0.01 0ZM645.1 776.9a2.2 1.9 0 1 0 0.01 0ZM647.6 779.1a2.4 1.9 0 1 0 0.01 0ZM650.1 782a1.8 1.5 0 1 0 0.01 0ZM651.8 783.1a2.1 1.3 0 1 0 0.01 0ZM654.8 786.3a1.9 1.8 0 1 0 0.01 0ZM658 789.4a1.5 1.5 0 1 0 0.01 0ZM659.1 791.1a2 1.5 0 1 0 0.01 0ZM661.3 794.7a2.3 1.5 0 1 0 0.01 0ZM664.1 798.2a2.4 1.9 0 1 0 0.01 0ZM666.7 799.8a1.8 2 0 1 0 0.01 0ZM668.8 803.2a1.5 1.5 0 1 0 0.01 0ZM671.5 806.2a2.2 1.9 0 1 0 0.01 0ZM673.8 809.4a1.8 1.6 0 1 0 0.01 0ZM675.4 810.5a2 1.3 0 1 0 0.01 0ZM678 814.6a2 1.2 0 1 0 0.01 0ZM679.6 816.2a2.3 1.4 0 1 0 0.01 0ZM683.7 819.8a1.4 1.6 0 1 0 0.01 0ZM685.1 823.4a2.3 1.4 0 1 0 0.01 0ZM687.4 824.8a1.6 1.3 0 1 0 0.01 0ZM690.6 828.9a1.7 1.6 0 1 0 0.01 0ZM692.9 831a1.6 1.5 0 1 0 0.01 0ZM694.7 834.3a2.3 1.6 0 1 0 0.01 0ZM697 837.1a1.8 1.5 0 1 0 0.01 0ZM699 839.6a1.5 1.3 0 1 0 0.01 0ZM701.1 841.5a1.9 1.5 0 1 0 0.01 0ZM703.7 844.3a2.3 1.9 0 1 0 0.01 0ZM706.4 847.4a2.2 1.8 0 1 0 0.01 0ZM709 849.5a1.4 1.9 0 1 0 0.01 0ZM710.8 852a2.1 1.7 0 1 0 0.01 0ZM713.6 854.4a1.6 1.9 0 1 0 0.01 0ZM716.4 855.8a1.4 1.2 0 1 0 0.01 0ZM718.2 857.4a1.5 1.6 0 1 0 0.01 0ZM634.9 775.1a2.8 2 0 1 0 0.01 0ZM630.6 768.3a2.9 1.4 0 1 0 0.01 0ZM712.3 858.4a2.6 1.9 0 1 0 0.01 0ZM659.5 794a1.5 1.3 0 1 0 0.01 0ZM709.9 855.5a2 2.2 0 1 0 0.01 0ZM676.6 820a1.4 2.3 0 1 0 0.01 0ZM651.8 790a2 1.8 0 1 0 0.01 0ZM688.2 829.9a2.3 1.8 0 1 0 0.01 0ZM648 792.5a1.5 1.9 0 1 0 0.01 0ZM651 795.1a1.7 2 0 1 0 0.01 0ZM665.7 808.4a2.2 1.7 0 1 0 0.01 0ZM695.5 841.2a1.4 1.3 0 1 0 0.01 0ZM673.3 818.6a2.6 2 0 1 0 0.01 0ZM657.7 798.9a2.3 1.3 0 1 0 0.01 0ZM688.1 827.7a2.2 1.7 0 1 0 0.01 0ZM671.2 817.3a2.5 1.9 0 1 0 0.01 0ZM670.4 814.5a2.4 1.5 0 1 0 0.01 0ZM666.3 804.3a2.9 1.7 0 1 0 0.01 0ZM679.4 825.7a2 1.7 0 1 0 0.01 0ZM631 767.1a1.9 1.9 0 1 0 0.01 0ZM691.3 835a1.8 2.3 0 1 0 0.01 0ZM694.8 837.7a2.8 1.7 0 1 0 0.01 0ZM634.4 772.9a2.2 1.9 0 1 0 0.01 0ZM689 832a2.8 1.3 0 1 0 0.01 0ZM629 764.6a1.5 1.9 0 1 0 0.01 0ZM642.6 780a1.9 1.8 0 1 0 0.01 0ZM638.3 779.7a2.4 1.5 0 1 0 0.01 0ZM719.8 861.3a1.4 2.4 0 1 0 0.01 0ZM664.7 807.3a2.6 2.2 0 1 0 0.01 0ZM691.7 839.6a2.9 2.4 0 1 0 0.01 0ZM678.7 819.2a1.9 2 0 1 0 0.01 0ZM694.3 838.7a1.4 1.5 0 1 0 0.01 0ZM663.9 808.5a2.3 2.1 0 1 0 0.01 0ZM714.5 859.2a2.6 1.5 0 1 0 0.01 0ZM693.8 841a2.5 1.5 0 1 0 0.01 0ZM713 856.9a2.3 1.6 0 1 0 0.01 0ZM669.5 815.3a2.3 2.3 0 1 0 0.01 0ZM705.4 848.7a2.8 2.3 0 1 0 0.01 0ZM646.4 791.5a2.5 2 0 1 0 0.01 0ZM642.3 787.6a1.9 1.8 0 1 0 0.01 0ZM627.8 763.6a2.9 1.6 0 1 0 0.01 0ZM713.7 856.9a2.5 1.7 0 1 0 0.01 0ZM688.5 828.2a2.3 1.8 0 1 0 0.01 0ZM654 796.1a1.6 1.5 0 1 0 0.01 0ZM634 771.8a1.5 2.3 0 1 0 0.01 0ZM717.2 859.9a2.8 1.2 0 1 0 0.01 0ZM689.1 835.4a2.7 1.9 0 1 0 0.01 0ZM643.3 788.7a2.6 1.6 0 1 0 0.01 0ZM661.1 799.9a2.5 1.3 0 1 0 0.01 0ZM699.7 844.2a2 1.7 0 1 0 0.01 0ZM662.2 801.2a2.1 1.3 0 1 0 0.01 0ZM651.3 792.3a2.1 1.2 0 1 0 0.01 0ZM671.2 812.2a1.9 1.3 0 1 0 0.01 0ZM668.8 814.5a1.7 1.3 0 1 0 0.01 0ZM643.8 783a2.3 1.7 0 1 0 0.01 0ZM698.1 844.4a2.8 2.4 0 1 0 0.01 0ZM709.3 852.2a1.6 2.1 0 1 0 0.01 0ZM714 859.5a2.6 1.5 0 1 0 0.01 0ZM671.2 814.3a2.4 1.9 0 1 0 0.01 0ZM688.9 830a2.1 1.8 0 1 0 0.01 0ZM634.9 770.3a2.4 1.7 0 1 0 0.01 0ZM667.7 815.2a2.8 1.9 0 1 0 0.01 0ZM682.8 829.4a3 1.9 0 1 0 0.01 0ZM670 807.3a2.6 1.3 0 1 0 0.01 0ZM652.7 789.2a2.8 2 0 1 0 0.01 0ZM680.4 817.8a1.7 2.3 0 1 0 0.01 0ZM638.7 776.2a1.8 1.4 0 1 0 0.01 0ZM637.8 779.8a2.1 1.5 0 1 0 0.01 0ZM700.8 845.4a2.4 1.4 0 1 0 0.01 0ZM627.5 761.7a1.4 2.2 0 1 0 0.01 0ZM663.9 800.6a2.6 1.5 0 1 0 0.01 0ZM699.7 845.6a2.7 1.3 0 1 0 0.01 0ZM697.7 841.2a2.9 2.2 0 1 0 0.01 0ZM626.5 762.2a2.9 1.9 0 1 0 0.01 0ZM666 808.2a1.5 1.8 0 1 0 0.01 0Z" fill="none" stroke="#7f7f7f" stroke-width="1.6"/>
<path d="M661.2 816.1a1.8 1.8 0 1 0 0.01 0ZM616.6 754.5a1.8 1.8 0 1 0 0.01 0ZM659.5 800.8a1.8 1.8 0 1 0 0.01 0ZM671.1 820a1.8 1.8 0 1 0 0.01 0ZM635.3 777.6a1.8 1.8 0 1 0 0.01 0ZM676.1 813.3a1.8 1.8 0 1 0 0.01 0ZM669.7 815.3a1.8 1.8 0 1 0 0.01 0ZM667.7 805.7a1.8 1.8 0 1 0 0.01 0ZM659.2 798.4a1.8 1.8 0 1 0 0.01 0ZM691.7 833a1.8 1.8 0 1 0 0.01 0ZM628.5 763.1a1.8 1.8 0 1 0 0.01 0ZM678.2 814.9a1.8 1.8 0 1 0 0.01 0ZM625.4 759.9a1.8 1.8 0 1 0 0.01 0ZM643.6 794.6a1.8 1.8 0 1 0 0.01 0ZM688.2 834.6a1.8 1.8 0 1 0 0.01 0ZM662.8 800a1.8 1.8 0 1 0 0.01 0ZM654.6 808.8a1.8 1.8 0 1 0 0.01 0ZM706.9 853a1.8 1.8 0 1 0 0.01 0ZM699 845.4a1.8 1.8 0 1 0 0.01 0ZM691.7 830.7a1.8 1.8 0 1 0 0.01 0ZM705.8 855.5a1.8 1.8 0 1 0 0.01 0ZM689.8 839.6a1.8 1.8 0 1 0 0.01 0ZM677.6 815.9a1.8 1.8 0 1 0 0.01 0ZM642.3 782.8a1.8 1.8 0 1 0 0.01 0ZM677 819.9a1.8 1.8 0 1 0 0.01 0Z" fill="#ea6b5f" fill-opacity="0.8"/>
<path d="M424 607.5C424.5 607.9 425.2 609 427.2 609.6C429.2 610.2 433.2 610.4 436 611C438.8 611.6 441.9 612.1 444.1 613.3C446.3 614.5 447.4 616.6 449 618C450.6 619.4 452.1 621.3 453.7 621.7C455.3 622.1 457.1 620 458.6 620.5C460.2 621 461.4 623.6 463 625C464.6 626.4 465.7 627.2 468.2 628.9C470.7 630.5 475.4 633.1 477.8 634.9C480.2 636.7 480.3 637.2 482.7 639.8C485.1 642.4 488.7 647.2 492.3 650.6C495.9 654 500.3 657.2 504.3 660.2C508.3 663.2 511.9 665.7 516.4 668.7C520.9 671.7 526.6 675.4 531.1 678.4C535.6 681.4 539.2 683.9 543.2 686.9C547.2 689.9 551.2 693.1 555.2 696.5C559.2 699.9 563.3 703.9 567.3 707.3C571.3 710.7 575.3 713.6 579.3 716.8C583.3 720 587.4 723.1 591.4 726.6C595.4 730.1 599.5 734.1 603.4 737.5C607.3 740.9 611.9 744.5 615 747.1C618.1 749.7 620.8 752 622 753" fill="none" stroke="#7f7f7f" stroke-width="2.6"/>
<path d="M506.3 684.6C506.8 684 507.9 681.8 509 681C510.1 680.2 511.2 679.9 513 679.8C514.8 679.7 517.5 680.3 520 680.5C522.5 680.7 525.3 680.5 528 681.2C530.7 681.9 533.5 683.2 536 684.5C538.5 685.8 540 686.6 543.2 688.9C546.4 691.2 551.2 695.1 555.2 698.5C559.2 701.9 563.3 705.9 567.3 709.3C571.3 712.7 575.3 715.6 579.3 718.8C583.3 722 587.9 725.5 591.4 728.6C594.9 731.7 598.1 735.3 600 737.5C601.9 739.7 603 740.6 603 742C603 743.4 601 744.7 600 746C599 747.3 597 748.2 597 750C597 751.8 598.5 754.1 600 757C601.5 759.9 602.3 763.2 606 767.5C609.7 771.8 613 774.4 622 782.5C631 790.6 648.7 805.9 660 816C671.3 826.1 681.2 835.1 690 843C698.8 850.9 709.2 860.1 713 863.5L713 866.5C709.2 863.6 698.8 856.3 690 849C681.2 841.7 671.3 832.6 660 822.5C648.7 812.4 630.9 797.2 622 788.5C613.1 779.8 612.6 776 606.7 770.2C600.8 764.4 593.3 759.1 586.6 753.6C579.9 748.1 573.3 743 566.6 737.5C559.9 732 553.2 726.1 546.5 720.4C539.8 714.7 533.1 709.2 526.4 703.4C519.7 697.5 509.6 688.3 506.3 685.3Z" fill="#b8caec" stroke="#6fa6ee" stroke-width="1.8" stroke-linejoin="round"/>
<path d="M520 688C522.3 688.3 529.3 688.3 534 690C538.7 691.7 543.7 695 548 698C552.3 701 556 704.7 560 708C564 711.3 568.3 714.7 572 718C575.7 721.3 579.7 724.8 582 728C584.3 731.2 586.7 735.3 586 737C585.3 738.7 581.3 739.2 578 738C574.7 736.8 570.3 733.2 566 730C561.7 726.8 556.7 722.7 552 719C547.3 715.3 542.7 711.7 538 708C533.3 704.3 526.3 698.8 524 697Z" fill="#b6b6d9" opacity="0.9"/>
<path d="M534.4 708.4C537.1 710.2 544.6 715.1 550.5 719.5C556.4 723.9 563.4 729.5 570 735C576.6 740.5 584 747.2 590 752.5C596 757.8 600.7 761.5 606 766.5C611.3 771.5 613 774.2 622 782.5C631 790.8 648.7 806.3 660 816.5C671.3 826.7 681.3 835.6 690 843.5C698.7 851.4 708.3 860.6 712 864L712 866C708.3 862.9 698.7 855.1 690 847.5C681.3 839.9 671.3 830.7 660 820.5C648.7 810.3 631 794.9 622 786.5C613 778.1 611.3 775.1 606 770C600.7 764.9 596 761.1 590 756C584 750.9 576.6 744.9 570 739.5C563.4 734.1 556.4 728.6 550.5 723.5C544.6 718.4 537.1 711.4 534.4 709Z" fill="#3d73d8"/>
</g>
<path d="M179.8 2.2v16M179.8 305.7v-16M278.4 2.2v16M278.4 305.7v-16M376.9 2.2v16M376.9 305.7v-16M155.2 2.2v8.4M155.2 305.7v-8.4M204.5 2.2v8.4M204.5 305.7v-8.4M229.1 2.2v8.4M229.1 305.7v-8.4M253.7 2.2v8.4M253.7 305.7v-8.4M303 2.2v8.4M303 305.7v-8.4M327.6 2.2v8.4M327.6 305.7v-8.4M352.2 2.2v8.4M352.2 305.7v-8.4M401.5 2.2v8.4M401.5 305.7v-8.4M179.8 305.7v16M179.8 609.2v-16M278.4 305.7v16M278.4 609.2v-16M376.9 305.7v16M376.9 609.2v-16M155.2 305.7v8.4M155.2 609.2v-8.4M204.5 305.7v8.4M204.5 609.2v-8.4M229.1 305.7v8.4M229.1 609.2v-8.4M253.7 305.7v8.4M253.7 609.2v-8.4M303 305.7v8.4M303 609.2v-8.4M327.6 305.7v8.4M327.6 609.2v-8.4M352.2 305.7v8.4M352.2 609.2v-8.4M401.5 305.7v8.4M401.5 609.2v-8.4M179.8 609.2v16M179.8 912.5v-16M278.4 609.2v16M278.4 912.5v-16M376.9 609.2v16M376.9 912.5v-16M155.2 609.2v8.4M155.2 912.5v-8.4M204.5 609.2v8.4M204.5 912.5v-8.4M229.1 609.2v8.4M229.1 912.5v-8.4M253.7 609.2v8.4M253.7 912.5v-8.4M303 609.2v8.4M303 912.5v-8.4M327.6 609.2v8.4M327.6 912.5v-8.4M352.2 609.2v8.4M352.2 912.5v-8.4M401.5 609.2v8.4M401.5 912.5v-8.4M482 305.7v16M482 609.2v-16M561.8 305.7v16M561.8 609.2v-16M641.7 305.7v16M641.7 609.2v-16M434.1 305.7v8.4M434.1 609.2v-8.4M450.1 305.7v8.4M450.1 609.2v-8.4M466 305.7v8.4M466 609.2v-8.4M498 305.7v8.4M498 609.2v-8.4M513.9 305.7v8.4M513.9 609.2v-8.4M529.9 305.7v8.4M529.9 609.2v-8.4M545.9 305.7v8.4M545.9 609.2v-8.4M577.8 305.7v8.4M577.8 609.2v-8.4M593.8 305.7v8.4M593.8 609.2v-8.4M609.7 305.7v8.4M609.7 609.2v-8.4M625.7 305.7v8.4M625.7 609.2v-8.4M657.6 305.7v8.4M657.6 609.2v-8.4M673.6 305.7v8.4M673.6 609.2v-8.4M689.6 305.7v8.4M689.6 609.2v-8.4M705.5 305.7v8.4M705.5 609.2v-8.4M482 609.2v16M482 912.5v-16M561.8 609.2v16M561.8 912.5v-16M641.7 609.2v16M641.7 912.5v-16M434.1 609.2v8.4M434.1 912.5v-8.4M450.1 609.2v8.4M450.1 912.5v-8.4M466 609.2v8.4M466 912.5v-8.4M498 609.2v8.4M498 912.5v-8.4M513.9 609.2v8.4M513.9 912.5v-8.4M529.9 609.2v8.4M529.9 912.5v-8.4M545.9 609.2v8.4M545.9 912.5v-8.4M577.8 609.2v8.4M577.8 912.5v-8.4M593.8 609.2v8.4M593.8 912.5v-8.4M609.7 609.2v8.4M609.7 912.5v-8.4M625.7 609.2v8.4M625.7 912.5v-8.4M657.6 609.2v8.4M657.6 912.5v-8.4M673.6 609.2v8.4M673.6 912.5v-8.4M689.6 609.2v8.4M689.6 912.5v-8.4M705.5 609.2v8.4M705.5 912.5v-8.4M825.1 609.2v16M825.1 912.5v-16M928.8 609.2v16M928.8 912.5v-16M747.4 609.2v8.4M747.4 912.5v-8.4M773.3 609.2v8.4M773.3 912.5v-8.4M799.2 609.2v8.4M799.2 912.5v-8.4M851.1 609.2v8.4M851.1 912.5v-8.4M877 609.2v8.4M877 912.5v-8.4M902.9 609.2v8.4M902.9 912.5v-8.4M954.7 609.2v8.4M954.7 912.5v-8.4M980.6 609.2v8.4M980.6 912.5v-8.4M1006.5 609.2v8.4M1006.5 912.5v-8.4M130.6 551.8h16M426.1 551.8h-16M130.6 469.8h16M426.1 469.8h-16M130.6 387.7h16M426.1 387.7h-16M130.6 601h8.4M426.1 601h-8.4M130.6 584.6h8.4M426.1 584.6h-8.4M130.6 568.2h8.4M426.1 568.2h-8.4M130.6 535.4h8.4M426.1 535.4h-8.4M130.6 519h8.4M426.1 519h-8.4M130.6 502.6h8.4M426.1 502.6h-8.4M130.6 486.2h8.4M426.1 486.2h-8.4M130.6 453.3h8.4M426.1 453.3h-8.4M130.6 436.9h8.4M426.1 436.9h-8.4M130.6 420.5h8.4M426.1 420.5h-8.4M130.6 404.1h8.4M426.1 404.1h-8.4M130.6 371.3h8.4M426.1 371.3h-8.4M130.6 354.9h8.4M426.1 354.9h-8.4M130.6 338.5h8.4M426.1 338.5h-8.4M130.6 322.1h8.4M426.1 322.1h-8.4M130.6 806.1h16M426.1 806.1h-16M130.6 699.7h16M426.1 699.7h-16M130.6 885.9h8.4M426.1 885.9h-8.4M130.6 859.3h8.4M426.1 859.3h-8.4M130.6 832.7h8.4M426.1 832.7h-8.4M130.6 779.5h8.4M426.1 779.5h-8.4M130.6 752.9h8.4M426.1 752.9h-8.4M130.6 726.3h8.4M426.1 726.3h-8.4M130.6 673.1h8.4M426.1 673.1h-8.4M130.6 646.4h8.4M426.1 646.4h-8.4M130.6 619.8h8.4M426.1 619.8h-8.4M426.1 806.1h16M721.5 806.1h-16M426.1 699.7h16M721.5 699.7h-16M426.1 885.9h8.4M721.5 885.9h-8.4M426.1 859.3h8.4M721.5 859.3h-8.4M426.1 832.7h8.4M721.5 832.7h-8.4M426.1 779.5h8.4M721.5 779.5h-8.4M426.1 752.9h8.4M721.5 752.9h-8.4M426.1 726.3h8.4M721.5 726.3h-8.4M426.1 673.1h8.4M721.5 673.1h-8.4M426.1 646.4h8.4M721.5 646.4h-8.4M426.1 619.8h8.4M721.5 619.8h-8.4" stroke="#000" stroke-width="2.3" fill="none"/>
<path d="M130.6 2.2H426.1V305.7H130.6ZM130.6 305.7H426.1V609.2H130.6ZM426.1 305.7H721.5V609.2H426.1ZM130.6 609.2H426.1V912.5H130.6ZM426.1 609.2H721.5V912.5H426.1ZM721.5 609.2H1016.9V912.5H721.5Z" stroke="#000" stroke-width="2.3" fill="none" stroke-linejoin="miter"/>
<line x1="185.5" y1="305.7" x2="185.5" y2="149.5" stroke="#e0321f" stroke-width="2.9" stroke-dasharray="10.2 4.4"/>
<line x1="382.4" y1="305.7" x2="382.4" y2="148.3" stroke="#e0321f" stroke-width="2.9" stroke-dasharray="10.2 4.4"/>
<line x1="204" y1="305.7" x2="204" y2="142.6" stroke="#006fec" stroke-width="2.9" stroke-dasharray="10.2 4.4"/>
<line x1="403" y1="305.7" x2="403" y2="141" stroke="#006fec" stroke-width="2.9" stroke-dasharray="10.2 4.4"/>
<path d="M128 155.5C128.7 155.6 130 155.5 132.3 156.1C134.6 156.7 138.6 158.5 142 159.2C145.4 159.9 149.1 160.4 152.6 160.4C156.1 160.4 159.3 160.3 163.1 159.2C166.9 158.1 171.4 155.9 175.2 153.9C179 151.9 182.4 149.7 185.7 147.1C189 144.5 191.8 141.8 194.8 138.1C197.8 134.4 201.1 129.9 203.8 125C206.6 120 208.8 114.7 211.3 108.4C213.8 102.1 216.4 94.6 218.9 87.3C221.4 80 223.7 72.6 226.4 64.8C229.2 57 232.6 47 235.4 40.7C238.2 34.4 240.7 29.9 243 27.1C245.3 24.3 247 23.9 249 23.8C251 23.7 253 24.3 255 26.4C257 28.4 258.7 31.2 261 36.1C263.3 41 266.3 49.4 268.6 55.7C270.9 62 272.7 67.8 274.6 73.8C276.5 79.8 278.1 86.8 280 91.9C281.9 97 283.8 99.3 286.1 104.6C288.5 109.9 291.4 118.6 294.1 123.9C296.8 129.2 299.2 133.5 302.1 136.7C305.1 139.9 307.8 141.6 311.8 143.2C315.8 144.8 319.8 145.7 326.2 146.4C332.6 147.2 342.3 147.5 350.3 147.7C358.3 147.8 367.7 147.2 374.4 147.3C381.1 147.4 385.7 147.7 390.5 148.3C395.3 149 399.3 150.2 403.3 151.2C407.3 152.2 411 153.5 414.6 154.4C418.2 155.3 422.4 156.2 425 156.8C427.6 157.4 429.2 157.8 430 158" fill="none" stroke="#e0321f" stroke-width="3.4" stroke-linejoin="round" clip-path="url(#c00)"/>
<path d="M128 187.5C128.7 187.3 130 187.8 132.3 186.3C134.6 184.8 138.6 181 142 178.7C145.4 176.4 149.1 174.4 152.6 172.7C156.1 170.9 159.3 169.4 163.1 168.2C166.9 166.9 171.4 166.3 175.2 165.2C179 164.1 182.7 162.9 185.7 161.4C188.7 159.9 190.8 158.5 193.3 156.1C195.8 153.7 198.6 150.6 200.8 147.1C203.1 143.6 205.1 139 206.8 135.1C208.6 131.2 209 129.7 211.3 123.5C213.6 117.3 217.4 106.9 220.4 97.9C223.4 88.9 226.4 79.1 229.4 69.3C232.4 59.5 235.6 48 238.4 39.2C241.2 30.4 243.7 21.2 246 16.6C248.3 12 250 11.6 252 11.3C254 11.1 255.8 12 258 15.1C260.2 18.2 263 23.6 265.5 30.1C268 36.6 270.7 46 273.1 54.2C275.5 62.4 277.6 71.9 279.8 79.5C282 87.1 283.7 92.9 286.1 99.8C288.5 106.7 291.4 115 294.1 120.7C296.8 126.5 299.2 131 302.1 134.3C305.1 137.7 307.8 139.9 311.8 140.8C315.8 141.8 321.1 140.4 326.2 140C331.3 139.6 335.6 138.8 342.3 138.4C349 138 358.4 137.5 366.4 137.6C374.4 137.7 383.8 138.7 390.5 139.2C397.2 139.7 400.8 140.1 406.5 140.4C412.2 140.7 421.1 141 425 141.2C428.9 141.3 429.2 141.3 430 141.3" fill="none" stroke="#006fec" stroke-width="3.4" stroke-linejoin="round" clip-path="url(#c00)"/>
<line x1="537.4" y1="609.2" x2="537.4" y2="468.5" stroke="#e0321f" stroke-width="2.9" stroke-dasharray="10.2 4.4"/>
<line x1="663.5" y1="609.2" x2="663.5" y2="471.5" stroke="#e0321f" stroke-width="2.9" stroke-dasharray="10.2 4.4"/>
<line x1="544.3" y1="609.2" x2="544.3" y2="467.5" stroke="#006fec" stroke-width="2.9" stroke-dasharray="10.2 4.4"/>
<line x1="669" y1="609.2" x2="669" y2="469.5" stroke="#006fec" stroke-width="2.9" stroke-dasharray="10.2 4.4"/>
<path d="M424 595.1C424.5 595.1 423.4 595.1 427 595C430.6 594.9 439.1 595 445.3 594.6C451.6 594.2 458.7 593.8 464.5 592.8C470.3 591.8 475.5 590.6 480 588.6C484.5 586.6 488 584.3 491.5 580.9C495 577.5 498.2 573.4 501.1 568.4C504 563.4 506.3 557.8 508.9 551C511.5 544.2 514 535.6 516.6 527.9C519.2 520.2 521.7 512.5 524.3 504.8C526.9 497.1 529.8 488.4 532 481.7C534.2 474.9 535.9 469.1 537.8 464.3C539.7 459.5 541.6 455.6 543.5 452.8C545.4 450 547.4 448.6 549.3 447.6C551.2 446.6 553.2 446.4 555.1 446.6C557 446.8 558.3 447.1 560.9 448.9C563.5 450.7 567.3 454.7 570.5 457.6C573.7 460.5 577.2 464.3 580.1 466.2C583 468.1 585.2 469.2 587.8 469.1C590.4 469 593.6 467.1 595.6 465.3C597.6 463.5 597.9 462.6 600 458.5C602.1 454.4 605.5 447.7 608.5 440.6C611.5 433.5 614.6 424.2 617.7 416C620.8 407.8 623.9 397.2 627 391.3C630.1 385.4 633.4 381.3 636.2 380.5C639 379.7 641.3 381.8 643.9 386.7C646.5 391.6 649.1 400.3 651.7 409.8C654.3 419.3 656.8 431.4 659.4 443.7C662 456 664.5 471 667.1 483.8C669.7 496.6 672.2 509.5 674.8 520.8C677.4 532.1 679.7 542.4 682.5 551.6C685.3 560.9 688.1 569.1 691.7 576.3C695.3 583.5 699.5 590.2 704.1 594.8C708.7 599.4 716.2 602.3 719.5 604C722.8 605.7 723.2 604.8 724 605" fill="none" stroke="#e0321f" stroke-width="3.4" stroke-linejoin="round" clip-path="url(#c11)"/>
<path d="M424 607.3C424.5 607.3 420.2 607.4 427 607.3C433.8 607.2 455.4 607.1 464.5 606.9C473.6 606.7 477.1 606.7 481.9 605.9C486.7 605.1 489.9 604.8 493.4 602.1C496.9 599.4 500.2 594.3 503.1 589.6C506 584.9 508.2 580.5 510.8 574.1C513.4 567.7 515.9 559 518.5 551C521.1 543 523.6 534.7 526.2 526C528.8 517.3 531.3 508.3 533.9 499C536.5 489.7 539.4 477.8 541.6 470.1C543.9 462.4 545.5 457.1 547.4 452.8C549.3 448.5 551.4 445.9 553.2 444.1C555 442.3 556.1 441.9 558 442.2C559.9 442.5 562.3 443.9 564.7 446C567.1 448.1 569.8 451.3 572.4 454.7C575 458.1 577.9 463 580.1 466.2C582.4 469.4 584.1 472.1 585.9 473.9C587.7 475.7 589.1 476.8 590.7 476.8C592.3 476.8 594.1 475.7 595.6 473.9C597.1 472.1 597.9 471.8 600 466.2C602.1 460.6 605.5 452.1 608.5 440.6C611.5 429.2 615.1 409.6 617.7 397.5C620.3 385.4 622 376.8 624 368C626 359.2 627.7 351.4 629.5 345C631.3 338.6 632.8 333.6 634.6 329.5C636.4 325.4 638.5 320.3 640.5 320.3C642.5 320.3 644.6 324.6 646.4 329.5C648.2 334.4 649.7 341.9 651.4 350C653.1 358.1 654.4 364.9 656.5 378C658.6 391.1 661.5 410.7 664 428.3C666.5 445.9 669.1 466.3 671.7 483.8C674.3 501.3 676.6 518.7 679.4 533.1C682.2 547.5 685 559.8 688.6 570.1C692.2 580.4 695.9 588.9 701 594.8C706.1 600.7 715.7 603.6 719.5 605.5C723.3 607.4 723.2 605.9 724 606" fill="none" stroke="#006fec" stroke-width="3.4" stroke-linejoin="round" clip-path="url(#c11)"/>
<line x1="802.1" y1="912.5" x2="802.1" y2="801.5" stroke="#e0321f" stroke-width="2.9" stroke-dasharray="10.2 4.4"/>
<line x1="930.5" y1="912.5" x2="930.5" y2="801.5" stroke="#e0321f" stroke-width="2.9" stroke-dasharray="10.2 4.4"/>
<line x1="800.3" y1="912.5" x2="800.3" y2="801.5" stroke="#006fec" stroke-width="2.9" stroke-dasharray="10.2 4.4"/>
<line x1="924.3" y1="912.5" x2="924.3" y2="790.8" stroke="#006fec" stroke-width="2.9" stroke-dasharray="10.2 4.4"/>
<path d="M718 900.8C718.6 900.8 718.1 900.9 721.5 900.6C724.9 900.3 732 899.5 738.4 899C744.8 898.5 754.2 898.9 759.8 897.5C765.4 896.1 768.5 894 772.1 890.5C775.7 887 778.2 883.6 781.3 876.7C784.4 869.8 787.4 861.9 790.5 849.1C793.6 836.3 796.6 816.4 799.7 800C802.8 783.6 805.8 766.3 808.9 751C812 735.7 815.5 719.1 818.1 708.1C820.7 697.1 822.4 690 824.2 685.1C826 680.2 827 679 828.8 679C830.6 679 832.6 680.2 834.9 685.1C837.2 690 839.8 698.1 842.6 708.1C845.4 718.1 848.7 732.6 851.8 744.9C854.9 757.1 858.4 771.9 861 781.6C863.6 791.3 865.1 797.6 867.7 803C870.4 808.4 873.6 813.2 876.9 813.7C880.2 814.2 883.8 811.5 887.6 806.1C891.4 800.8 896.2 787.7 899.8 781.6C903.4 775.5 906.5 771.6 909 769.3C911.5 767 912.8 766.8 915.1 767.8C917.4 768.8 920.2 770.5 922.8 775.4C925.4 780.2 927.7 787.2 930.5 796.9C933.3 806.6 936.7 822.5 939.7 833.7C942.8 844.9 945.2 855.1 948.8 864.3C952.4 873.5 956.5 882.4 961.1 888.8C965.7 895.2 970.8 899.5 976.4 902.6C982 905.7 988.4 906.2 994.8 907.2C1001.2 908.2 1010.5 908.4 1014.7 908.7C1018.9 909 1019.1 909 1020 909" fill="none" stroke="#e0321f" stroke-width="3.4" stroke-linejoin="round" clip-path="url(#c22)"/>
<path d="M718 911.9C718.6 911.9 714.5 912 721.5 911.9C728.5 911.8 751.4 912.3 759.8 911.3C768.2 910.3 768.5 909 772.1 905.8C775.7 902.6 778.2 899.4 781.3 892C784.4 884.6 787.4 875.6 790.5 861.3C793.6 847 796.6 828.7 799.7 806.2C802.8 783.7 805.8 752 808.9 726.5C812 701 815.3 670 818.1 652.9C820.9 635.8 823.2 625.8 825.7 623.8C828.2 621.8 830.6 630.2 833.4 640.7C836.2 651.2 839.5 669.2 842.6 686.6C845.7 704 848.7 727 851.8 744.9C854.9 762.8 858.4 782.2 861 793.9C863.6 805.6 865.3 810.5 867.7 815.3C870.1 820.1 872 823.9 875.3 822.9C878.6 821.9 883.5 816 887.6 809.1C891.7 802.2 895.7 789.6 899.8 781.6C903.9 773.6 908.5 762.5 912.1 761C915.7 759.5 918.5 765.9 921.3 772.4C924.1 778.9 926.1 788.3 928.9 800C931.7 811.7 935 829.5 938.1 842.8C941.2 856.1 944 869.9 947.3 879.6C950.6 889.3 953.6 896.1 958 901C962.4 905.9 963.9 907.2 973.4 908.7C982.9 910.2 1006.9 909.9 1014.7 910.2C1022.5 910.5 1019.1 910.3 1020 910.3" fill="none" stroke="#006fec" stroke-width="3.4" stroke-linejoin="round" clip-path="url(#c22)"/>
<text x="205" y="946.8" font-size="36.8" text-anchor="end" textLength="19.8" lengthAdjust="spacingAndGlyphs">2</text>
<text x="288.6" y="946.8" font-size="36.8" text-anchor="end" textLength="19.6" lengthAdjust="spacingAndGlyphs">0</text>
<text x="386.4" y="946.8" font-size="36.8" text-anchor="end" textLength="19.8" lengthAdjust="spacingAndGlyphs">2</text>
<text x="515.2" y="946.8" font-size="36.8" text-anchor="end" textLength="36.2" lengthAdjust="spacingAndGlyphs">30</text>
<text x="596.2" y="946.8" font-size="36.8" text-anchor="end" textLength="38.2" lengthAdjust="spacingAndGlyphs">20</text>
<text x="675.8" y="946.8" font-size="36.8" text-anchor="end" textLength="39.6" lengthAdjust="spacingAndGlyphs">10</text>
<text x="835.6" y="946.8" font-size="36.8" text-anchor="end" textLength="19.6" lengthAdjust="spacingAndGlyphs">2</text>
<text x="937.4" y="946.8" font-size="36.8" text-anchor="end" textLength="16.8" lengthAdjust="spacingAndGlyphs">4</text>
<rect x="158.1" y="936.7" width="24.3" height="2.2" fill="#000"/>
<rect x="451" y="936.7" width="24.3" height="2.2" fill="#000"/>
<rect x="530.5" y="936.7" width="24.3" height="2.2" fill="#000"/>
<rect x="610" y="936.7" width="24.3" height="2.2" fill="#000"/>
<text x="121.4" y="401" font-size="36.8" text-anchor="end" textLength="39.2" lengthAdjust="spacingAndGlyphs">10</text>
<text x="121.6" y="482.6" font-size="36.8" text-anchor="end" textLength="38" lengthAdjust="spacingAndGlyphs">20</text>
<text x="121" y="565.2" font-size="36.8" text-anchor="end" textLength="38" lengthAdjust="spacingAndGlyphs">30</text>
<text x="121.6" y="712" font-size="36.8" text-anchor="end" textLength="19.4" lengthAdjust="spacingAndGlyphs">4</text>
<text x="122.8" y="819.2" font-size="36.8" text-anchor="end" textLength="20.4" lengthAdjust="spacingAndGlyphs">2</text>
<rect x="55.8" y="390.4" width="24.2" height="2.2" fill="#000"/>
<rect x="55.8" y="472" width="24.2" height="2.2" fill="#000"/>
<rect x="55.8" y="554" width="24.2" height="2.2" fill="#000"/>
<text x="157.2" y="985.6" font-size="36.5" text-anchor="start" textLength="47.3" lengthAdjust="spacingAndGlyphs">log</text><text x="207.5" y="994.1" font-size="26.3" text-anchor="start" textLength="31" lengthAdjust="spacingAndGlyphs">10</text>
<text x="249.6" y="985.6" font-size="36.5" text-anchor="start" font-style="italic" textLength="26" lengthAdjust="spacingAndGlyphs">T</text>
<text x="272" y="992.1" font-size="26.3" text-anchor="start" textLength="27" lengthAdjust="spacingAndGlyphs">rh</text>
<path d="M317.6 959.6L304.6 994.2" stroke="#000" stroke-width="2"/>
<text x="399.6" y="985.8" font-size="36.5" text-anchor="end" textLength="78.4" lengthAdjust="spacingAndGlyphs">GeV</text>
<text x="518.8" y="984.1" font-size="36.5" text-anchor="start" textLength="47.3" lengthAdjust="spacingAndGlyphs">log</text><text x="568.2" y="992.6" font-size="26.3" text-anchor="start" textLength="33.5" lengthAdjust="spacingAndGlyphs">10</text>
<text x="609.5" y="984.1" font-size="36.5" text-anchor="start" font-style="italic" textLength="17.5" lengthAdjust="spacingAndGlyphs">r</text>
<text x="850.5" y="986" font-size="36.5" text-anchor="start" font-style="italic" textLength="22.5" lengthAdjust="spacingAndGlyphs">n</text>
<text x="874.5" y="990.5" font-size="26.3" text-anchor="start" font-style="italic" textLength="11" lengthAdjust="spacingAndGlyphs">t</text>
<g transform="translate(27.3 511.5) rotate(-90)"><text x="0" y="0" font-size="36.5" text-anchor="start" textLength="47.3" lengthAdjust="spacingAndGlyphs">log</text><text x="49.5" y="8.5" font-size="26.3" text-anchor="start" textLength="34" lengthAdjust="spacingAndGlyphs">10</text><text x="92.5" y="0" font-size="36.5" text-anchor="start" font-style="italic" textLength="16" lengthAdjust="spacingAndGlyphs">r</text></g>
<g transform="translate(28.3 778.5) rotate(-90)"><text x="-0.5" y="0" font-size="36.5" text-anchor="start" font-style="italic" textLength="22.5" lengthAdjust="spacingAndGlyphs">n</text><text x="24.5" y="4.5" font-size="26.3" text-anchor="start" font-style="italic" textLength="10" lengthAdjust="spacingAndGlyphs">t</text></g>
<g transform="translate(278 657.5) rotate(68)"><text x="0" y="0" font-size="29" font-style="italic">N</text><text x="23" y="5.5" font-size="25.5" font-style="italic">e</text><g transform="translate(35 6) skewX(-14) scale(1.4 1)"><text x="0" y="0" font-size="22.5">f</text></g><g transform="translate(45.5 6) skewX(-14) scale(1.4 1)"><text x="0" y="0" font-size="22.5">f</text></g></g>
<g transform="translate(635 751) rotate(44)"><text x="0" y="0" font-size="28" fill="#808080" letter-spacing="3.6">NG15</text></g>
<rect x="684.5" y="2.7" width="332.1" height="102.2" rx="6" ry="6" fill="#fff" stroke="#d5d5d5" stroke-width="4.7"/>
<rect x="695.1" y="13" width="71.4" height="27.9" fill="#e0321f"/>
<rect x="695.1" y="59.7" width="71.4" height="27.6" fill="#006fec"/>
<text x="791.2" y="39.1" font-size="26.5" text-anchor="start" textLength="59.3" lengthAdjust="spacingAndGlyphs">IGW</text>
<path d="M864.9 30.6H888.3M876.6 19V42.2" stroke="#000" stroke-width="1.5"/>
<text x="903.2" y="39.1" font-size="26.5" text-anchor="start" textLength="99.6" lengthAdjust="spacingAndGlyphs">SMBHB</text>
<text x="791.4" y="85.5" font-size="26.5" text-anchor="start" textLength="59.3" lengthAdjust="spacingAndGlyphs">IGW</text>
</svg>
</body></html>
